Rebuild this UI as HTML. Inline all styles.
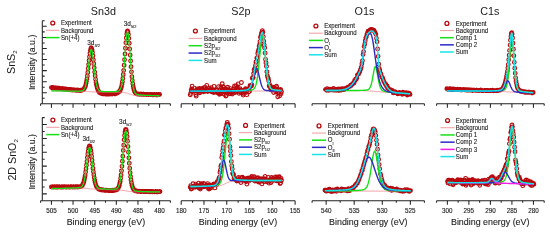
<!DOCTYPE html><html><head><meta charset="utf-8"><style>html,body{margin:0;padding:0;background:#fff;width:550px;height:232px;overflow:hidden}svg{display:block;will-change:transform}</style></head><body><svg width="550" height="232" viewBox="0 0 550 232" font-family='"Liberation Sans", sans-serif'>
<rect width="550" height="232" fill="#fff"/>
<text transform="translate(103.30 14.5) scale(1 0.94)" font-size="10.8" text-anchor="middle" fill="#1a1a1a">Sn3d</text>
<text transform="translate(240.90 14.5) scale(1 0.94)" font-size="10.8" text-anchor="middle" fill="#1a1a1a">S2p</text>
<text transform="translate(364.50 14.5) scale(1 0.94)" font-size="10.8" text-anchor="middle" fill="#1a1a1a">O1s</text>
<text transform="translate(489.80 14.5) scale(1 0.94)" font-size="10.8" text-anchor="middle" fill="#1a1a1a">C1s</text>
<text transform="translate(14.6 74.0) rotate(-90)" font-size="10.7" fill="#1a1a1a">SnS<tspan font-size="6.2" dy="2.8">2</tspan></text>
<text transform="translate(15.5 180.6) rotate(-90)" font-size="10.7" fill="#1a1a1a">2D SnO<tspan font-size="6.2" dy="2.6">2</tspan></text>
<text transform="translate(35.30 62.40) rotate(-90)" font-size="8.75" text-anchor="middle" fill="#1a1a1a" stroke="#1a1a1a" stroke-width="0.1">Intensity (a.u.)</text>
<text transform="translate(35.40 161.80) rotate(-90)" font-size="8.75" text-anchor="middle" fill="#1a1a1a" stroke="#1a1a1a" stroke-width="0.1">Intensity (a.u.)</text>
<path d="M40.60 103.80H170.40" stroke="#222" stroke-width="1.05" fill="none"/>
<path d="M40.60 103.80V105.80M51.42 103.80V107.80M62.23 103.80V105.80M73.05 103.80V107.80M83.87 103.80V105.80M94.68 103.80V107.80M105.50 103.80V105.80M116.32 103.80V107.80M127.13 103.80V105.80M137.95 103.80V107.80M148.77 103.80V105.80M159.58 103.80V107.80M170.40 103.80V105.80" stroke="#222" stroke-width="1.05" fill="none"/>
<path d="M181.20 103.80H295.10" stroke="#222" stroke-width="1.05" fill="none"/>
<path d="M181.20 103.80V107.80M192.59 103.80V105.80M203.98 103.80V107.80M215.37 103.80V105.80M226.76 103.80V107.80M238.15 103.80V105.80M249.54 103.80V107.80M260.93 103.80V105.80M272.32 103.80V107.80M283.71 103.80V105.80M295.10 103.80V107.80" stroke="#222" stroke-width="1.05" fill="none"/>
<path d="M312.10 103.80H424.40" stroke="#222" stroke-width="1.05" fill="none"/>
<path d="M312.10 103.80V105.80M326.14 103.80V107.80M340.18 103.80V105.80M354.21 103.80V107.80M368.25 103.80V105.80M382.29 103.80V107.80M396.32 103.80V105.80M410.36 103.80V107.80M424.40 103.80V105.80" stroke="#222" stroke-width="1.05" fill="none"/>
<path d="M436.60 103.80H544.20" stroke="#222" stroke-width="1.05" fill="none"/>
<path d="M436.60 103.80V105.80M447.36 103.80V107.80M458.12 103.80V105.80M468.88 103.80V107.80M479.64 103.80V105.80M490.40 103.80V107.80M501.16 103.80V105.80M511.92 103.80V107.80M522.68 103.80V105.80M533.44 103.80V107.80M544.20 103.80V105.80" stroke="#222" stroke-width="1.05" fill="none"/>
<path d="M42.30 20.80V103.80" stroke="#222" stroke-width="1.05" fill="none"/>
<path d="M42.30 98.27H44.70M42.30 92.73H46.80M42.30 87.20H44.70M42.30 81.67H46.80M42.30 76.13H44.70M42.30 70.60H46.80M42.30 65.07H44.70M42.30 59.53H46.80M42.30 54.00H44.70M42.30 48.47H46.80M42.30 42.93H44.70M42.30 37.40H46.80M42.30 31.87H44.70M42.30 26.33H46.80M42.30 20.80H44.70" stroke="#222" stroke-width="1.05" fill="none"/>
<path d="M40.60 200.80H170.40" stroke="#222" stroke-width="1.05" fill="none"/>
<text x="51.42" y="213.00" font-size="6.30" text-anchor="middle" fill="#1a1a1a" stroke="#1a1a1a" stroke-width="0.12">505</text>
<text x="73.05" y="213.00" font-size="6.30" text-anchor="middle" fill="#1a1a1a" stroke="#1a1a1a" stroke-width="0.12">500</text>
<text x="94.68" y="213.00" font-size="6.30" text-anchor="middle" fill="#1a1a1a" stroke="#1a1a1a" stroke-width="0.12">495</text>
<text x="116.32" y="213.00" font-size="6.30" text-anchor="middle" fill="#1a1a1a" stroke="#1a1a1a" stroke-width="0.12">490</text>
<text x="137.95" y="213.00" font-size="6.30" text-anchor="middle" fill="#1a1a1a" stroke="#1a1a1a" stroke-width="0.12">485</text>
<text x="159.58" y="213.00" font-size="6.30" text-anchor="middle" fill="#1a1a1a" stroke="#1a1a1a" stroke-width="0.12">480</text>
<path d="M40.60 200.80V202.80M51.42 200.80V204.80M62.23 200.80V202.80M73.05 200.80V204.80M83.87 200.80V202.80M94.68 200.80V204.80M105.50 200.80V202.80M116.32 200.80V204.80M127.13 200.80V202.80M137.95 200.80V204.80M148.77 200.80V202.80M159.58 200.80V204.80M170.40 200.80V202.80" stroke="#222" stroke-width="1.05" fill="none"/>
<path d="M181.20 200.80H295.10" stroke="#222" stroke-width="1.05" fill="none"/>
<text x="181.20" y="213.00" font-size="6.30" text-anchor="middle" fill="#1a1a1a" stroke="#1a1a1a" stroke-width="0.12">180</text>
<text x="203.98" y="213.00" font-size="6.30" text-anchor="middle" fill="#1a1a1a" stroke="#1a1a1a" stroke-width="0.12">175</text>
<text x="226.76" y="213.00" font-size="6.30" text-anchor="middle" fill="#1a1a1a" stroke="#1a1a1a" stroke-width="0.12">170</text>
<text x="249.54" y="213.00" font-size="6.30" text-anchor="middle" fill="#1a1a1a" stroke="#1a1a1a" stroke-width="0.12">165</text>
<text x="272.32" y="213.00" font-size="6.30" text-anchor="middle" fill="#1a1a1a" stroke="#1a1a1a" stroke-width="0.12">160</text>
<text x="295.10" y="213.00" font-size="6.30" text-anchor="middle" fill="#1a1a1a" stroke="#1a1a1a" stroke-width="0.12">155</text>
<path d="M181.20 200.80V204.80M192.59 200.80V202.80M203.98 200.80V204.80M215.37 200.80V202.80M226.76 200.80V204.80M238.15 200.80V202.80M249.54 200.80V204.80M260.93 200.80V202.80M272.32 200.80V204.80M283.71 200.80V202.80M295.10 200.80V204.80" stroke="#222" stroke-width="1.05" fill="none"/>
<path d="M312.10 200.80H424.40" stroke="#222" stroke-width="1.05" fill="none"/>
<text x="326.14" y="213.00" font-size="6.30" text-anchor="middle" fill="#1a1a1a" stroke="#1a1a1a" stroke-width="0.12">540</text>
<text x="354.21" y="213.00" font-size="6.30" text-anchor="middle" fill="#1a1a1a" stroke="#1a1a1a" stroke-width="0.12">535</text>
<text x="382.29" y="213.00" font-size="6.30" text-anchor="middle" fill="#1a1a1a" stroke="#1a1a1a" stroke-width="0.12">530</text>
<text x="410.36" y="213.00" font-size="6.30" text-anchor="middle" fill="#1a1a1a" stroke="#1a1a1a" stroke-width="0.12">525</text>
<path d="M312.10 200.80V202.80M326.14 200.80V204.80M340.18 200.80V202.80M354.21 200.80V204.80M368.25 200.80V202.80M382.29 200.80V204.80M396.32 200.80V202.80M410.36 200.80V204.80M424.40 200.80V202.80" stroke="#222" stroke-width="1.05" fill="none"/>
<path d="M436.60 200.80H544.20" stroke="#222" stroke-width="1.05" fill="none"/>
<text x="447.36" y="213.00" font-size="6.30" text-anchor="middle" fill="#1a1a1a" stroke="#1a1a1a" stroke-width="0.12">300</text>
<text x="468.88" y="213.00" font-size="6.30" text-anchor="middle" fill="#1a1a1a" stroke="#1a1a1a" stroke-width="0.12">295</text>
<text x="490.40" y="213.00" font-size="6.30" text-anchor="middle" fill="#1a1a1a" stroke="#1a1a1a" stroke-width="0.12">290</text>
<text x="511.92" y="213.00" font-size="6.30" text-anchor="middle" fill="#1a1a1a" stroke="#1a1a1a" stroke-width="0.12">285</text>
<text x="533.44" y="213.00" font-size="6.30" text-anchor="middle" fill="#1a1a1a" stroke="#1a1a1a" stroke-width="0.12">280</text>
<path d="M436.60 200.80V202.80M447.36 200.80V204.80M458.12 200.80V202.80M468.88 200.80V204.80M479.64 200.80V202.80M490.40 200.80V204.80M501.16 200.80V202.80M511.92 200.80V204.80M522.68 200.80V202.80M533.44 200.80V204.80M544.20 200.80V202.80" stroke="#222" stroke-width="1.05" fill="none"/>
<path d="M42.30 117.60V200.80" stroke="#222" stroke-width="1.05" fill="none"/>
<path d="M42.30 193.87H46.80M42.30 186.93H44.70M42.30 180.00H46.80M42.30 173.07H44.70M42.30 166.13H46.80M42.30 159.20H44.70M42.30 152.27H46.80M42.30 145.33H44.70M42.30 138.40H46.80M42.30 131.47H44.70M42.30 124.53H46.80M42.30 117.60H44.70" stroke="#222" stroke-width="1.05" fill="none"/>
<text x="105.90" y="225.20" font-size="8.90" text-anchor="middle" fill="#1a1a1a" stroke="#1a1a1a" stroke-width="0.1">Binding energy (eV)</text>
<text x="238.00" y="225.20" font-size="8.90" text-anchor="middle" fill="#1a1a1a" stroke="#1a1a1a" stroke-width="0.1">Binding energy (eV)</text>
<text x="368.30" y="225.20" font-size="8.90" text-anchor="middle" fill="#1a1a1a" stroke="#1a1a1a" stroke-width="0.1">Binding energy (eV)</text>
<text x="490.20" y="225.20" font-size="8.90" text-anchor="middle" fill="#1a1a1a" stroke="#1a1a1a" stroke-width="0.1">Binding energy (eV)</text>
<path d="M51.40 87.59m-1.80 0a1.80 1.80 0 1 0 3.60 0a1.80 1.80 0 1 0 -3.60 0M51.83 87.67m-1.80 0a1.80 1.80 0 1 0 3.60 0a1.80 1.80 0 1 0 -3.60 0M52.27 87.65m-1.80 0a1.80 1.80 0 1 0 3.60 0a1.80 1.80 0 1 0 -3.60 0M52.70 87.63m-1.80 0a1.80 1.80 0 1 0 3.60 0a1.80 1.80 0 1 0 -3.60 0M53.13 87.73m-1.80 0a1.80 1.80 0 1 0 3.60 0a1.80 1.80 0 1 0 -3.60 0M53.56 87.71m-1.80 0a1.80 1.80 0 1 0 3.60 0a1.80 1.80 0 1 0 -3.60 0M54.00 87.88m-1.80 0a1.80 1.80 0 1 0 3.60 0a1.80 1.80 0 1 0 -3.60 0M54.43 88.09m-1.80 0a1.80 1.80 0 1 0 3.60 0a1.80 1.80 0 1 0 -3.60 0M54.86 87.91m-1.80 0a1.80 1.80 0 1 0 3.60 0a1.80 1.80 0 1 0 -3.60 0M55.30 87.95m-1.80 0a1.80 1.80 0 1 0 3.60 0a1.80 1.80 0 1 0 -3.60 0M55.73 88.13m-1.80 0a1.80 1.80 0 1 0 3.60 0a1.80 1.80 0 1 0 -3.60 0M56.16 88.16m-1.80 0a1.80 1.80 0 1 0 3.60 0a1.80 1.80 0 1 0 -3.60 0M56.59 88.18m-1.80 0a1.80 1.80 0 1 0 3.60 0a1.80 1.80 0 1 0 -3.60 0M57.03 88.10m-1.80 0a1.80 1.80 0 1 0 3.60 0a1.80 1.80 0 1 0 -3.60 0M57.46 88.26m-1.80 0a1.80 1.80 0 1 0 3.60 0a1.80 1.80 0 1 0 -3.60 0M57.89 88.39m-1.80 0a1.80 1.80 0 1 0 3.60 0a1.80 1.80 0 1 0 -3.60 0M58.32 88.19m-1.80 0a1.80 1.80 0 1 0 3.60 0a1.80 1.80 0 1 0 -3.60 0M58.76 88.35m-1.80 0a1.80 1.80 0 1 0 3.60 0a1.80 1.80 0 1 0 -3.60 0M59.19 88.22m-1.80 0a1.80 1.80 0 1 0 3.60 0a1.80 1.80 0 1 0 -3.60 0M59.62 88.34m-1.80 0a1.80 1.80 0 1 0 3.60 0a1.80 1.80 0 1 0 -3.60 0M60.06 88.32m-1.80 0a1.80 1.80 0 1 0 3.60 0a1.80 1.80 0 1 0 -3.60 0M60.49 88.56m-1.80 0a1.80 1.80 0 1 0 3.60 0a1.80 1.80 0 1 0 -3.60 0M60.92 88.49m-1.80 0a1.80 1.80 0 1 0 3.60 0a1.80 1.80 0 1 0 -3.60 0M61.35 88.72m-1.80 0a1.80 1.80 0 1 0 3.60 0a1.80 1.80 0 1 0 -3.60 0M61.79 88.75m-1.80 0a1.80 1.80 0 1 0 3.60 0a1.80 1.80 0 1 0 -3.60 0M62.22 88.76m-1.80 0a1.80 1.80 0 1 0 3.60 0a1.80 1.80 0 1 0 -3.60 0M62.65 88.52m-1.80 0a1.80 1.80 0 1 0 3.60 0a1.80 1.80 0 1 0 -3.60 0M63.09 88.81m-1.80 0a1.80 1.80 0 1 0 3.60 0a1.80 1.80 0 1 0 -3.60 0M63.52 88.91m-1.80 0a1.80 1.80 0 1 0 3.60 0a1.80 1.80 0 1 0 -3.60 0M63.95 88.98m-1.80 0a1.80 1.80 0 1 0 3.60 0a1.80 1.80 0 1 0 -3.60 0M64.38 88.83m-1.80 0a1.80 1.80 0 1 0 3.60 0a1.80 1.80 0 1 0 -3.60 0M64.82 89.00m-1.80 0a1.80 1.80 0 1 0 3.60 0a1.80 1.80 0 1 0 -3.60 0M65.25 88.99m-1.80 0a1.80 1.80 0 1 0 3.60 0a1.80 1.80 0 1 0 -3.60 0M65.68 89.05m-1.80 0a1.80 1.80 0 1 0 3.60 0a1.80 1.80 0 1 0 -3.60 0M66.12 89.32m-1.80 0a1.80 1.80 0 1 0 3.60 0a1.80 1.80 0 1 0 -3.60 0M66.55 89.14m-1.80 0a1.80 1.80 0 1 0 3.60 0a1.80 1.80 0 1 0 -3.60 0M66.98 89.28m-1.80 0a1.80 1.80 0 1 0 3.60 0a1.80 1.80 0 1 0 -3.60 0M67.41 89.44m-1.80 0a1.80 1.80 0 1 0 3.60 0a1.80 1.80 0 1 0 -3.60 0M67.85 89.30m-1.80 0a1.80 1.80 0 1 0 3.60 0a1.80 1.80 0 1 0 -3.60 0M68.28 89.41m-1.80 0a1.80 1.80 0 1 0 3.60 0a1.80 1.80 0 1 0 -3.60 0M68.71 89.48m-1.80 0a1.80 1.80 0 1 0 3.60 0a1.80 1.80 0 1 0 -3.60 0M69.14 89.51m-1.80 0a1.80 1.80 0 1 0 3.60 0a1.80 1.80 0 1 0 -3.60 0M69.58 89.40m-1.80 0a1.80 1.80 0 1 0 3.60 0a1.80 1.80 0 1 0 -3.60 0M70.01 89.60m-1.80 0a1.80 1.80 0 1 0 3.60 0a1.80 1.80 0 1 0 -3.60 0M70.44 89.80m-1.80 0a1.80 1.80 0 1 0 3.60 0a1.80 1.80 0 1 0 -3.60 0M70.88 89.49m-1.80 0a1.80 1.80 0 1 0 3.60 0a1.80 1.80 0 1 0 -3.60 0M71.31 89.83m-1.80 0a1.80 1.80 0 1 0 3.60 0a1.80 1.80 0 1 0 -3.60 0M71.74 89.78m-1.80 0a1.80 1.80 0 1 0 3.60 0a1.80 1.80 0 1 0 -3.60 0M72.17 89.73m-1.80 0a1.80 1.80 0 1 0 3.60 0a1.80 1.80 0 1 0 -3.60 0M72.61 90.09m-1.80 0a1.80 1.80 0 1 0 3.60 0a1.80 1.80 0 1 0 -3.60 0M73.04 89.98m-1.80 0a1.80 1.80 0 1 0 3.60 0a1.80 1.80 0 1 0 -3.60 0M73.47 89.78m-1.80 0a1.80 1.80 0 1 0 3.60 0a1.80 1.80 0 1 0 -3.60 0M73.91 89.97m-1.80 0a1.80 1.80 0 1 0 3.60 0a1.80 1.80 0 1 0 -3.60 0M74.34 90.07m-1.80 0a1.80 1.80 0 1 0 3.60 0a1.80 1.80 0 1 0 -3.60 0M74.77 90.02m-1.80 0a1.80 1.80 0 1 0 3.60 0a1.80 1.80 0 1 0 -3.60 0M75.20 90.16m-1.80 0a1.80 1.80 0 1 0 3.60 0a1.80 1.80 0 1 0 -3.60 0M75.64 90.11m-1.80 0a1.80 1.80 0 1 0 3.60 0a1.80 1.80 0 1 0 -3.60 0M76.07 90.23m-1.80 0a1.80 1.80 0 1 0 3.60 0a1.80 1.80 0 1 0 -3.60 0M76.50 90.35m-1.80 0a1.80 1.80 0 1 0 3.60 0a1.80 1.80 0 1 0 -3.60 0M76.94 90.13m-1.80 0a1.80 1.80 0 1 0 3.60 0a1.80 1.80 0 1 0 -3.60 0M77.37 90.27m-1.80 0a1.80 1.80 0 1 0 3.60 0a1.80 1.80 0 1 0 -3.60 0M77.80 90.22m-1.80 0a1.80 1.80 0 1 0 3.60 0a1.80 1.80 0 1 0 -3.60 0M78.23 90.31m-1.80 0a1.80 1.80 0 1 0 3.60 0a1.80 1.80 0 1 0 -3.60 0M78.67 90.18m-1.80 0a1.80 1.80 0 1 0 3.60 0a1.80 1.80 0 1 0 -3.60 0M79.10 90.28m-1.80 0a1.80 1.80 0 1 0 3.60 0a1.80 1.80 0 1 0 -3.60 0M79.53 90.34m-1.80 0a1.80 1.80 0 1 0 3.60 0a1.80 1.80 0 1 0 -3.60 0M79.96 90.49m-1.80 0a1.80 1.80 0 1 0 3.60 0a1.80 1.80 0 1 0 -3.60 0M80.40 90.48m-1.80 0a1.80 1.80 0 1 0 3.60 0a1.80 1.80 0 1 0 -3.60 0M80.83 90.13m-1.80 0a1.80 1.80 0 1 0 3.60 0a1.80 1.80 0 1 0 -3.60 0M81.26 90.13m-1.80 0a1.80 1.80 0 1 0 3.60 0a1.80 1.80 0 1 0 -3.60 0M81.70 90.23m-1.80 0a1.80 1.80 0 1 0 3.60 0a1.80 1.80 0 1 0 -3.60 0M82.13 89.80m-1.80 0a1.80 1.80 0 1 0 3.60 0a1.80 1.80 0 1 0 -3.60 0M82.56 89.84m-1.80 0a1.80 1.80 0 1 0 3.60 0a1.80 1.80 0 1 0 -3.60 0M82.99 89.68m-1.80 0a1.80 1.80 0 1 0 3.60 0a1.80 1.80 0 1 0 -3.60 0M83.43 89.55m-1.80 0a1.80 1.80 0 1 0 3.60 0a1.80 1.80 0 1 0 -3.60 0M83.86 89.09m-1.80 0a1.80 1.80 0 1 0 3.60 0a1.80 1.80 0 1 0 -3.60 0M84.29 88.41m-1.80 0a1.80 1.80 0 1 0 3.60 0a1.80 1.80 0 1 0 -3.60 0M84.73 87.65m-1.80 0a1.80 1.80 0 1 0 3.60 0a1.80 1.80 0 1 0 -3.60 0M85.16 86.65m-1.80 0a1.80 1.80 0 1 0 3.60 0a1.80 1.80 0 1 0 -3.60 0M85.59 85.54m-1.80 0a1.80 1.80 0 1 0 3.60 0a1.80 1.80 0 1 0 -3.60 0M86.02 83.62m-1.80 0a1.80 1.80 0 1 0 3.60 0a1.80 1.80 0 1 0 -3.60 0M86.46 81.52m-1.80 0a1.80 1.80 0 1 0 3.60 0a1.80 1.80 0 1 0 -3.60 0M86.89 79.05m-1.80 0a1.80 1.80 0 1 0 3.60 0a1.80 1.80 0 1 0 -3.60 0M87.32 75.93m-1.80 0a1.80 1.80 0 1 0 3.60 0a1.80 1.80 0 1 0 -3.60 0M87.76 72.43m-1.80 0a1.80 1.80 0 1 0 3.60 0a1.80 1.80 0 1 0 -3.60 0M88.19 68.51m-1.80 0a1.80 1.80 0 1 0 3.60 0a1.80 1.80 0 1 0 -3.60 0M88.62 64.62m-1.80 0a1.80 1.80 0 1 0 3.60 0a1.80 1.80 0 1 0 -3.60 0M89.05 60.52m-1.80 0a1.80 1.80 0 1 0 3.60 0a1.80 1.80 0 1 0 -3.60 0M89.49 56.85m-1.80 0a1.80 1.80 0 1 0 3.60 0a1.80 1.80 0 1 0 -3.60 0M89.92 53.35m-1.80 0a1.80 1.80 0 1 0 3.60 0a1.80 1.80 0 1 0 -3.60 0M90.35 50.48m-1.80 0a1.80 1.80 0 1 0 3.60 0a1.80 1.80 0 1 0 -3.60 0M90.78 48.67m-1.80 0a1.80 1.80 0 1 0 3.60 0a1.80 1.80 0 1 0 -3.60 0M91.22 47.70m-1.80 0a1.80 1.80 0 1 0 3.60 0a1.80 1.80 0 1 0 -3.60 0M91.65 48.38m-1.80 0a1.80 1.80 0 1 0 3.60 0a1.80 1.80 0 1 0 -3.60 0M92.08 49.92m-1.80 0a1.80 1.80 0 1 0 3.60 0a1.80 1.80 0 1 0 -3.60 0M92.52 52.61m-1.80 0a1.80 1.80 0 1 0 3.60 0a1.80 1.80 0 1 0 -3.60 0M92.95 55.76m-1.80 0a1.80 1.80 0 1 0 3.60 0a1.80 1.80 0 1 0 -3.60 0M93.38 59.83m-1.80 0a1.80 1.80 0 1 0 3.60 0a1.80 1.80 0 1 0 -3.60 0M93.81 63.73m-1.80 0a1.80 1.80 0 1 0 3.60 0a1.80 1.80 0 1 0 -3.60 0M94.25 67.85m-1.80 0a1.80 1.80 0 1 0 3.60 0a1.80 1.80 0 1 0 -3.60 0M94.68 72.07m-1.80 0a1.80 1.80 0 1 0 3.60 0a1.80 1.80 0 1 0 -3.60 0M95.11 75.72m-1.80 0a1.80 1.80 0 1 0 3.60 0a1.80 1.80 0 1 0 -3.60 0M95.55 79.19m-1.80 0a1.80 1.80 0 1 0 3.60 0a1.80 1.80 0 1 0 -3.60 0M95.98 82.35m-1.80 0a1.80 1.80 0 1 0 3.60 0a1.80 1.80 0 1 0 -3.60 0M96.41 84.44m-1.80 0a1.80 1.80 0 1 0 3.60 0a1.80 1.80 0 1 0 -3.60 0M96.84 86.49m-1.80 0a1.80 1.80 0 1 0 3.60 0a1.80 1.80 0 1 0 -3.60 0M97.28 88.23m-1.80 0a1.80 1.80 0 1 0 3.60 0a1.80 1.80 0 1 0 -3.60 0M97.71 89.57m-1.80 0a1.80 1.80 0 1 0 3.60 0a1.80 1.80 0 1 0 -3.60 0M98.14 90.51m-1.80 0a1.80 1.80 0 1 0 3.60 0a1.80 1.80 0 1 0 -3.60 0M98.58 91.31m-1.80 0a1.80 1.80 0 1 0 3.60 0a1.80 1.80 0 1 0 -3.60 0M99.01 92.04m-1.80 0a1.80 1.80 0 1 0 3.60 0a1.80 1.80 0 1 0 -3.60 0M99.44 92.52m-1.80 0a1.80 1.80 0 1 0 3.60 0a1.80 1.80 0 1 0 -3.60 0M99.87 92.74m-1.80 0a1.80 1.80 0 1 0 3.60 0a1.80 1.80 0 1 0 -3.60 0M100.31 93.09m-1.80 0a1.80 1.80 0 1 0 3.60 0a1.80 1.80 0 1 0 -3.60 0M100.74 93.25m-1.80 0a1.80 1.80 0 1 0 3.60 0a1.80 1.80 0 1 0 -3.60 0M101.17 93.24m-1.80 0a1.80 1.80 0 1 0 3.60 0a1.80 1.80 0 1 0 -3.60 0M101.60 93.49m-1.80 0a1.80 1.80 0 1 0 3.60 0a1.80 1.80 0 1 0 -3.60 0M102.04 93.44m-1.80 0a1.80 1.80 0 1 0 3.60 0a1.80 1.80 0 1 0 -3.60 0M102.47 93.73m-1.80 0a1.80 1.80 0 1 0 3.60 0a1.80 1.80 0 1 0 -3.60 0M102.90 93.71m-1.80 0a1.80 1.80 0 1 0 3.60 0a1.80 1.80 0 1 0 -3.60 0M103.34 93.75m-1.80 0a1.80 1.80 0 1 0 3.60 0a1.80 1.80 0 1 0 -3.60 0M103.77 93.73m-1.80 0a1.80 1.80 0 1 0 3.60 0a1.80 1.80 0 1 0 -3.60 0M104.20 93.84m-1.80 0a1.80 1.80 0 1 0 3.60 0a1.80 1.80 0 1 0 -3.60 0M104.63 93.66m-1.80 0a1.80 1.80 0 1 0 3.60 0a1.80 1.80 0 1 0 -3.60 0M105.07 93.81m-1.80 0a1.80 1.80 0 1 0 3.60 0a1.80 1.80 0 1 0 -3.60 0M105.50 94.04m-1.80 0a1.80 1.80 0 1 0 3.60 0a1.80 1.80 0 1 0 -3.60 0M105.93 93.78m-1.80 0a1.80 1.80 0 1 0 3.60 0a1.80 1.80 0 1 0 -3.60 0M106.37 94.14m-1.80 0a1.80 1.80 0 1 0 3.60 0a1.80 1.80 0 1 0 -3.60 0M106.80 93.83m-1.80 0a1.80 1.80 0 1 0 3.60 0a1.80 1.80 0 1 0 -3.60 0M107.23 94.13m-1.80 0a1.80 1.80 0 1 0 3.60 0a1.80 1.80 0 1 0 -3.60 0M107.66 93.93m-1.80 0a1.80 1.80 0 1 0 3.60 0a1.80 1.80 0 1 0 -3.60 0M108.10 94.12m-1.80 0a1.80 1.80 0 1 0 3.60 0a1.80 1.80 0 1 0 -3.60 0M108.53 94.03m-1.80 0a1.80 1.80 0 1 0 3.60 0a1.80 1.80 0 1 0 -3.60 0M108.96 93.82m-1.80 0a1.80 1.80 0 1 0 3.60 0a1.80 1.80 0 1 0 -3.60 0M109.40 94.14m-1.80 0a1.80 1.80 0 1 0 3.60 0a1.80 1.80 0 1 0 -3.60 0M109.83 94.15m-1.80 0a1.80 1.80 0 1 0 3.60 0a1.80 1.80 0 1 0 -3.60 0M110.26 93.96m-1.80 0a1.80 1.80 0 1 0 3.60 0a1.80 1.80 0 1 0 -3.60 0M110.69 93.92m-1.80 0a1.80 1.80 0 1 0 3.60 0a1.80 1.80 0 1 0 -3.60 0M111.13 93.91m-1.80 0a1.80 1.80 0 1 0 3.60 0a1.80 1.80 0 1 0 -3.60 0M111.56 93.80m-1.80 0a1.80 1.80 0 1 0 3.60 0a1.80 1.80 0 1 0 -3.60 0M111.99 94.03m-1.80 0a1.80 1.80 0 1 0 3.60 0a1.80 1.80 0 1 0 -3.60 0M112.42 93.81m-1.80 0a1.80 1.80 0 1 0 3.60 0a1.80 1.80 0 1 0 -3.60 0M112.86 93.84m-1.80 0a1.80 1.80 0 1 0 3.60 0a1.80 1.80 0 1 0 -3.60 0M113.29 93.72m-1.80 0a1.80 1.80 0 1 0 3.60 0a1.80 1.80 0 1 0 -3.60 0M113.72 93.71m-1.80 0a1.80 1.80 0 1 0 3.60 0a1.80 1.80 0 1 0 -3.60 0M114.16 93.60m-1.80 0a1.80 1.80 0 1 0 3.60 0a1.80 1.80 0 1 0 -3.60 0M114.59 93.87m-1.80 0a1.80 1.80 0 1 0 3.60 0a1.80 1.80 0 1 0 -3.60 0M115.02 93.66m-1.80 0a1.80 1.80 0 1 0 3.60 0a1.80 1.80 0 1 0 -3.60 0M115.45 93.75m-1.80 0a1.80 1.80 0 1 0 3.60 0a1.80 1.80 0 1 0 -3.60 0M115.89 93.59m-1.80 0a1.80 1.80 0 1 0 3.60 0a1.80 1.80 0 1 0 -3.60 0M116.32 93.36m-1.80 0a1.80 1.80 0 1 0 3.60 0a1.80 1.80 0 1 0 -3.60 0M116.75 93.23m-1.80 0a1.80 1.80 0 1 0 3.60 0a1.80 1.80 0 1 0 -3.60 0M117.19 93.00m-1.80 0a1.80 1.80 0 1 0 3.60 0a1.80 1.80 0 1 0 -3.60 0M117.62 92.86m-1.80 0a1.80 1.80 0 1 0 3.60 0a1.80 1.80 0 1 0 -3.60 0M118.05 92.57m-1.80 0a1.80 1.80 0 1 0 3.60 0a1.80 1.80 0 1 0 -3.60 0M118.48 92.30m-1.80 0a1.80 1.80 0 1 0 3.60 0a1.80 1.80 0 1 0 -3.60 0M118.92 91.83m-1.80 0a1.80 1.80 0 1 0 3.60 0a1.80 1.80 0 1 0 -3.60 0M119.35 91.47m-1.80 0a1.80 1.80 0 1 0 3.60 0a1.80 1.80 0 1 0 -3.60 0M119.78 91.21m-1.80 0a1.80 1.80 0 1 0 3.60 0a1.80 1.80 0 1 0 -3.60 0M120.22 90.21m-1.80 0a1.80 1.80 0 1 0 3.60 0a1.80 1.80 0 1 0 -3.60 0M120.65 89.20m-1.80 0a1.80 1.80 0 1 0 3.60 0a1.80 1.80 0 1 0 -3.60 0M121.08 88.11m-1.80 0a1.80 1.80 0 1 0 3.60 0a1.80 1.80 0 1 0 -3.60 0M121.51 86.60m-1.80 0a1.80 1.80 0 1 0 3.60 0a1.80 1.80 0 1 0 -3.60 0M121.95 84.15m-1.80 0a1.80 1.80 0 1 0 3.60 0a1.80 1.80 0 1 0 -3.60 0M122.38 81.71m-1.80 0a1.80 1.80 0 1 0 3.60 0a1.80 1.80 0 1 0 -3.60 0M122.81 78.46m-1.80 0a1.80 1.80 0 1 0 3.60 0a1.80 1.80 0 1 0 -3.60 0M123.24 74.49m-1.80 0a1.80 1.80 0 1 0 3.60 0a1.80 1.80 0 1 0 -3.60 0M123.68 70.34m-1.80 0a1.80 1.80 0 1 0 3.60 0a1.80 1.80 0 1 0 -3.60 0M124.11 65.21m-1.80 0a1.80 1.80 0 1 0 3.60 0a1.80 1.80 0 1 0 -3.60 0M124.54 59.74m-1.80 0a1.80 1.80 0 1 0 3.60 0a1.80 1.80 0 1 0 -3.60 0M124.98 53.89m-1.80 0a1.80 1.80 0 1 0 3.60 0a1.80 1.80 0 1 0 -3.60 0M125.41 48.27m-1.80 0a1.80 1.80 0 1 0 3.60 0a1.80 1.80 0 1 0 -3.60 0M125.84 42.69m-1.80 0a1.80 1.80 0 1 0 3.60 0a1.80 1.80 0 1 0 -3.60 0M126.27 37.95m-1.80 0a1.80 1.80 0 1 0 3.60 0a1.80 1.80 0 1 0 -3.60 0M126.71 34.07m-1.80 0a1.80 1.80 0 1 0 3.60 0a1.80 1.80 0 1 0 -3.60 0M127.14 31.61m-1.80 0a1.80 1.80 0 1 0 3.60 0a1.80 1.80 0 1 0 -3.60 0M127.57 31.01m-1.80 0a1.80 1.80 0 1 0 3.60 0a1.80 1.80 0 1 0 -3.60 0M128.01 31.78m-1.80 0a1.80 1.80 0 1 0 3.60 0a1.80 1.80 0 1 0 -3.60 0M128.44 34.46m-1.80 0a1.80 1.80 0 1 0 3.60 0a1.80 1.80 0 1 0 -3.60 0M128.87 38.35m-1.80 0a1.80 1.80 0 1 0 3.60 0a1.80 1.80 0 1 0 -3.60 0M129.30 43.26m-1.80 0a1.80 1.80 0 1 0 3.60 0a1.80 1.80 0 1 0 -3.60 0M129.74 48.91m-1.80 0a1.80 1.80 0 1 0 3.60 0a1.80 1.80 0 1 0 -3.60 0M130.17 55.03m-1.80 0a1.80 1.80 0 1 0 3.60 0a1.80 1.80 0 1 0 -3.60 0M130.60 60.92m-1.80 0a1.80 1.80 0 1 0 3.60 0a1.80 1.80 0 1 0 -3.60 0M131.04 66.70m-1.80 0a1.80 1.80 0 1 0 3.60 0a1.80 1.80 0 1 0 -3.60 0M131.47 71.87m-1.80 0a1.80 1.80 0 1 0 3.60 0a1.80 1.80 0 1 0 -3.60 0M131.90 76.59m-1.80 0a1.80 1.80 0 1 0 3.60 0a1.80 1.80 0 1 0 -3.60 0M132.33 80.49m-1.80 0a1.80 1.80 0 1 0 3.60 0a1.80 1.80 0 1 0 -3.60 0M132.77 83.76m-1.80 0a1.80 1.80 0 1 0 3.60 0a1.80 1.80 0 1 0 -3.60 0M133.20 86.35m-1.80 0a1.80 1.80 0 1 0 3.60 0a1.80 1.80 0 1 0 -3.60 0M133.63 88.39m-1.80 0a1.80 1.80 0 1 0 3.60 0a1.80 1.80 0 1 0 -3.60 0M134.06 90.32m-1.80 0a1.80 1.80 0 1 0 3.60 0a1.80 1.80 0 1 0 -3.60 0M134.50 91.47m-1.80 0a1.80 1.80 0 1 0 3.60 0a1.80 1.80 0 1 0 -3.60 0M134.93 92.17m-1.80 0a1.80 1.80 0 1 0 3.60 0a1.80 1.80 0 1 0 -3.60 0M135.36 92.85m-1.80 0a1.80 1.80 0 1 0 3.60 0a1.80 1.80 0 1 0 -3.60 0M135.80 93.30m-1.80 0a1.80 1.80 0 1 0 3.60 0a1.80 1.80 0 1 0 -3.60 0M136.23 93.60m-1.80 0a1.80 1.80 0 1 0 3.60 0a1.80 1.80 0 1 0 -3.60 0M136.66 93.81m-1.80 0a1.80 1.80 0 1 0 3.60 0a1.80 1.80 0 1 0 -3.60 0M137.09 93.78m-1.80 0a1.80 1.80 0 1 0 3.60 0a1.80 1.80 0 1 0 -3.60 0M137.53 94.11m-1.80 0a1.80 1.80 0 1 0 3.60 0a1.80 1.80 0 1 0 -3.60 0M137.96 93.84m-1.80 0a1.80 1.80 0 1 0 3.60 0a1.80 1.80 0 1 0 -3.60 0M138.39 94.14m-1.80 0a1.80 1.80 0 1 0 3.60 0a1.80 1.80 0 1 0 -3.60 0M138.83 94.13m-1.80 0a1.80 1.80 0 1 0 3.60 0a1.80 1.80 0 1 0 -3.60 0M139.26 94.19m-1.80 0a1.80 1.80 0 1 0 3.60 0a1.80 1.80 0 1 0 -3.60 0M139.69 94.33m-1.80 0a1.80 1.80 0 1 0 3.60 0a1.80 1.80 0 1 0 -3.60 0M140.12 94.30m-1.80 0a1.80 1.80 0 1 0 3.60 0a1.80 1.80 0 1 0 -3.60 0M140.56 94.03m-1.80 0a1.80 1.80 0 1 0 3.60 0a1.80 1.80 0 1 0 -3.60 0M140.99 94.00m-1.80 0a1.80 1.80 0 1 0 3.60 0a1.80 1.80 0 1 0 -3.60 0M141.42 94.33m-1.80 0a1.80 1.80 0 1 0 3.60 0a1.80 1.80 0 1 0 -3.60 0M141.86 94.14m-1.80 0a1.80 1.80 0 1 0 3.60 0a1.80 1.80 0 1 0 -3.60 0M142.29 94.29m-1.80 0a1.80 1.80 0 1 0 3.60 0a1.80 1.80 0 1 0 -3.60 0M142.72 94.42m-1.80 0a1.80 1.80 0 1 0 3.60 0a1.80 1.80 0 1 0 -3.60 0M143.15 94.15m-1.80 0a1.80 1.80 0 1 0 3.60 0a1.80 1.80 0 1 0 -3.60 0M143.59 94.12m-1.80 0a1.80 1.80 0 1 0 3.60 0a1.80 1.80 0 1 0 -3.60 0M144.02 94.42m-1.80 0a1.80 1.80 0 1 0 3.60 0a1.80 1.80 0 1 0 -3.60 0M144.45 94.42m-1.80 0a1.80 1.80 0 1 0 3.60 0a1.80 1.80 0 1 0 -3.60 0M144.88 94.40m-1.80 0a1.80 1.80 0 1 0 3.60 0a1.80 1.80 0 1 0 -3.60 0M145.32 94.46m-1.80 0a1.80 1.80 0 1 0 3.60 0a1.80 1.80 0 1 0 -3.60 0M145.75 94.37m-1.80 0a1.80 1.80 0 1 0 3.60 0a1.80 1.80 0 1 0 -3.60 0M146.18 94.30m-1.80 0a1.80 1.80 0 1 0 3.60 0a1.80 1.80 0 1 0 -3.60 0M146.62 94.48m-1.80 0a1.80 1.80 0 1 0 3.60 0a1.80 1.80 0 1 0 -3.60 0M147.05 94.40m-1.80 0a1.80 1.80 0 1 0 3.60 0a1.80 1.80 0 1 0 -3.60 0M147.48 94.33m-1.80 0a1.80 1.80 0 1 0 3.60 0a1.80 1.80 0 1 0 -3.60 0M147.91 94.61m-1.80 0a1.80 1.80 0 1 0 3.60 0a1.80 1.80 0 1 0 -3.60 0M148.35 94.55m-1.80 0a1.80 1.80 0 1 0 3.60 0a1.80 1.80 0 1 0 -3.60 0M148.78 94.62m-1.80 0a1.80 1.80 0 1 0 3.60 0a1.80 1.80 0 1 0 -3.60 0M149.21 94.47m-1.80 0a1.80 1.80 0 1 0 3.60 0a1.80 1.80 0 1 0 -3.60 0M149.65 94.52m-1.80 0a1.80 1.80 0 1 0 3.60 0a1.80 1.80 0 1 0 -3.60 0M150.08 94.49m-1.80 0a1.80 1.80 0 1 0 3.60 0a1.80 1.80 0 1 0 -3.60 0M150.51 94.51m-1.80 0a1.80 1.80 0 1 0 3.60 0a1.80 1.80 0 1 0 -3.60 0M150.94 94.65m-1.80 0a1.80 1.80 0 1 0 3.60 0a1.80 1.80 0 1 0 -3.60 0M151.38 94.54m-1.80 0a1.80 1.80 0 1 0 3.60 0a1.80 1.80 0 1 0 -3.60 0M151.81 94.69m-1.80 0a1.80 1.80 0 1 0 3.60 0a1.80 1.80 0 1 0 -3.60 0M152.24 94.70m-1.80 0a1.80 1.80 0 1 0 3.60 0a1.80 1.80 0 1 0 -3.60 0M152.68 94.91m-1.80 0a1.80 1.80 0 1 0 3.60 0a1.80 1.80 0 1 0 -3.60 0M153.11 94.51m-1.80 0a1.80 1.80 0 1 0 3.60 0a1.80 1.80 0 1 0 -3.60 0M153.54 94.79m-1.80 0a1.80 1.80 0 1 0 3.60 0a1.80 1.80 0 1 0 -3.60 0M153.97 94.68m-1.80 0a1.80 1.80 0 1 0 3.60 0a1.80 1.80 0 1 0 -3.60 0M154.41 94.70m-1.80 0a1.80 1.80 0 1 0 3.60 0a1.80 1.80 0 1 0 -3.60 0M154.84 94.54m-1.80 0a1.80 1.80 0 1 0 3.60 0a1.80 1.80 0 1 0 -3.60 0M155.27 94.66m-1.80 0a1.80 1.80 0 1 0 3.60 0a1.80 1.80 0 1 0 -3.60 0M155.70 94.82m-1.80 0a1.80 1.80 0 1 0 3.60 0a1.80 1.80 0 1 0 -3.60 0M156.14 94.72m-1.80 0a1.80 1.80 0 1 0 3.60 0a1.80 1.80 0 1 0 -3.60 0M156.57 94.75m-1.80 0a1.80 1.80 0 1 0 3.60 0a1.80 1.80 0 1 0 -3.60 0M157.00 94.71m-1.80 0a1.80 1.80 0 1 0 3.60 0a1.80 1.80 0 1 0 -3.60 0M157.44 94.90m-1.80 0a1.80 1.80 0 1 0 3.60 0a1.80 1.80 0 1 0 -3.60 0M157.87 94.76m-1.80 0a1.80 1.80 0 1 0 3.60 0a1.80 1.80 0 1 0 -3.60 0M158.30 94.51m-1.80 0a1.80 1.80 0 1 0 3.60 0a1.80 1.80 0 1 0 -3.60 0M158.73 94.69m-1.80 0a1.80 1.80 0 1 0 3.60 0a1.80 1.80 0 1 0 -3.60 0M159.17 94.55m-1.80 0a1.80 1.80 0 1 0 3.60 0a1.80 1.80 0 1 0 -3.60 0M159.60 94.40m-1.80 0a1.80 1.80 0 1 0 3.60 0a1.80 1.80 0 1 0 -3.60 0" fill="none" stroke="#b8090e" stroke-width="1.20"/>
<path d="M51.40 90.81L51.83 90.82L52.27 90.83L52.70 90.84L53.13 90.85L53.56 90.86L54.00 90.87L54.43 90.88L54.86 90.89L55.30 90.90L55.73 90.91L56.16 90.92L56.59 90.94L57.03 90.95L57.46 90.96L57.89 90.97L58.32 90.98L58.76 90.99L59.19 91.00L59.62 91.01L60.06 91.02L60.49 91.03L60.92 91.04L61.35 91.05L61.79 91.06L62.22 91.07L62.65 91.08L63.09 91.09L63.52 91.10L63.95 91.11L64.38 91.12L64.82 91.13L65.25 91.14L65.68 91.15L66.12 91.16L66.55 91.18L66.98 91.19L67.41 91.20L67.85 91.21L68.28 91.22L68.71 91.23L69.14 91.24L69.58 91.25L70.01 91.26L70.44 91.27L70.88 91.28L71.31 91.29L71.74 91.30L72.17 91.31L72.61 91.32L73.04 91.33L73.47 91.34L73.91 91.35L74.34 91.36L74.77 91.37L75.20 91.38L75.64 91.39L76.07 91.41L76.50 91.42L76.94 91.43L77.37 91.44L77.80 91.45L78.23 91.46L78.67 91.47L79.10 91.48L79.53 91.49L79.96 91.50L80.40 91.50L80.83 91.50L81.26 91.50L81.70 91.50L82.13 91.50L82.56 91.50L82.99 91.50L83.43 91.50L83.86 91.50L84.29 91.50L84.73 91.50L85.16 91.50L85.59 91.51L86.02 91.53L86.46 91.54L86.89 91.55L87.32 91.56L87.76 91.57L88.19 91.58L88.62 91.59L89.05 91.60L89.49 91.64L89.92 91.67L90.35 91.71L90.78 91.74L91.22 91.78L91.65 91.81L92.08 91.85L92.52 91.88L92.95 91.92L93.38 91.95L93.81 91.99L94.25 92.00L94.68 92.01L95.11 92.01L95.55 92.02L95.98 92.02L96.41 92.03L96.84 92.03L97.28 92.04L97.71 92.04L98.14 92.04L98.58 92.05L99.01 92.05L99.44 92.06L99.87 92.06L100.31 92.07L100.74 92.07L101.17 92.08L101.60 92.08L102.04 92.09L102.47 92.09L102.90 92.10L103.34 92.10L103.77 92.10L104.20 92.11L104.63 92.11L105.07 92.12L105.50 92.12L105.93 92.13L106.37 92.13L106.80 92.14L107.23 92.14L107.66 92.15L108.10 92.15L108.53 92.16L108.96 92.16L109.40 92.16L109.83 92.17L110.26 92.17L110.69 92.18L111.13 92.18L111.56 92.19L111.99 92.19L112.42 92.20L112.86 92.20L113.29 92.21L113.72 92.21L114.16 92.22L114.59 92.22L115.02 92.23L115.45 92.23L115.89 92.23L116.32 92.24L116.75 92.24L117.19 92.25L117.62 92.25L118.05 92.26L118.48 92.26L118.92 92.27L119.35 92.27L119.78 92.28L120.22 92.28L120.65 92.29L121.08 92.29L121.51 92.29L121.95 92.30L122.38 92.36L122.81 92.42L123.24 92.49L123.68 92.55L124.11 92.62L124.54 92.68L124.98 92.75L125.41 92.81L125.84 92.88L126.27 92.99L126.71 93.12L127.14 93.26L127.57 93.39L128.01 93.53L128.44 93.66L128.87 93.80L129.30 93.93L129.74 94.07L130.17 94.20L130.60 94.34L131.04 94.47L131.47 94.61L131.90 94.74L132.33 94.88L132.77 95.01L133.20 95.15L133.63 95.29L134.06 95.40L134.50 95.41L134.93 95.42L135.36 95.43L135.80 95.43L136.23 95.44L136.66 95.45L137.09 95.46L137.53 95.47L137.96 95.48L138.39 95.48L138.83 95.49L139.26 95.50L139.69 95.51L140.12 95.52L140.56 95.53L140.99 95.53L141.42 95.54L141.86 95.55L142.29 95.56L142.72 95.57L143.15 95.58L143.59 95.58L144.02 95.59L144.45 95.60L144.88 95.61L145.32 95.62L145.75 95.63L146.18 95.63L146.62 95.64L147.05 95.65L147.48 95.66L147.91 95.67L148.35 95.68L148.78 95.68L149.21 95.69L149.65 95.70L150.08 95.71L150.51 95.72L150.94 95.73L151.38 95.73L151.81 95.74L152.24 95.75L152.68 95.76L153.11 95.77L153.54 95.78L153.97 95.78L154.41 95.79L154.84 95.80L155.27 95.81L155.70 95.82L156.14 95.83L156.57 95.83L157.00 95.84L157.44 95.85L157.87 95.86L158.30 95.87L158.73 95.88L159.17 95.88L159.60 95.89" fill="none" stroke="#ec8088" stroke-width="0.80" stroke-linejoin="round"/>
<path d="M51.40 90.75L51.83 90.76L52.27 90.77L52.70 90.78L53.13 90.79L53.56 90.80L54.00 90.81L54.43 90.82L54.86 90.83L55.30 90.84L55.73 90.84L56.16 90.85L56.59 90.86L57.03 90.87L57.46 90.88L57.89 90.89L58.32 90.90L58.76 90.91L59.19 90.91L59.62 90.92L60.06 90.93L60.49 90.94L60.92 90.95L61.35 90.96L61.79 90.96L62.22 90.97L62.65 90.98L63.09 90.99L63.52 91.00L63.95 91.00L64.38 91.01L64.82 91.02L65.25 91.03L65.68 91.03L66.12 91.04L66.55 91.05L66.98 91.05L67.41 91.06L67.85 91.06L68.28 91.07L68.71 91.08L69.14 91.08L69.58 91.09L70.01 91.09L70.44 91.09L70.88 91.10L71.31 91.10L71.74 91.10L72.17 91.11L72.61 91.11L73.04 91.11L73.47 91.11L73.91 91.11L74.34 91.11L74.77 91.11L75.20 91.11L75.64 91.10L76.07 91.10L76.50 91.09L76.94 91.09L77.37 91.08L77.80 91.07L78.23 91.06L78.67 91.04L79.10 91.03L79.53 91.01L79.96 90.98L80.40 90.94L80.83 90.89L81.26 90.83L81.70 90.75L82.13 90.64L82.56 90.49L82.99 90.29L83.43 90.00L83.86 89.60L84.29 89.05L84.73 88.29L85.16 87.28L85.59 85.96L86.02 84.27L86.46 82.16L86.89 79.61L87.32 76.62L87.76 73.22L88.19 69.49L88.62 65.56L89.05 61.60L89.49 57.83L89.92 54.48L90.35 51.79L90.78 49.98L91.22 49.23L91.65 49.61L92.08 51.10L92.52 53.55L92.95 56.75L93.38 60.45L93.81 64.41L94.25 68.40L94.68 72.24L95.11 75.79L95.55 78.95L95.98 81.69L96.41 83.97L96.84 85.83L97.28 87.29L97.71 88.42L98.14 89.27L98.58 89.90L99.01 90.36L99.44 90.68L99.87 90.91L100.31 91.08L100.74 91.20L101.17 91.29L101.60 91.36L102.04 91.41L102.47 91.45L102.90 91.49L103.34 91.52L103.77 91.55L104.20 91.57L104.63 91.59L105.07 91.61L105.50 91.63L105.93 91.64L106.37 91.65L106.80 91.66L107.23 91.67L107.66 91.68L108.10 91.69L108.53 91.69L108.96 91.69L109.40 91.70L109.83 91.70L110.26 91.69L110.69 91.69L111.13 91.69L111.56 91.68L111.99 91.67L112.42 91.66L112.86 91.65L113.29 91.64L113.72 91.62L114.16 91.60L114.59 91.58L115.02 91.55L115.45 91.52L115.89 91.48L116.32 91.44L116.75 91.39L117.19 91.33L117.62 91.24L118.05 91.13L118.48 90.98L118.92 90.77L119.35 90.47L119.78 90.04L120.22 89.45L120.65 88.63L121.08 87.50L121.51 85.99L121.95 84.01L122.38 81.55L122.81 78.48L123.24 74.77L123.68 70.43L124.11 65.51L124.54 60.13L124.98 54.50L125.41 48.85L125.84 43.49L126.27 38.82L126.71 35.17L127.14 32.83L127.57 32.05L128.01 32.90L128.44 35.33L128.87 39.10L129.30 43.92L129.74 49.41L130.17 55.24L130.60 61.10L131.04 66.72L131.47 71.91L131.90 76.53L132.33 80.52L132.77 83.87L133.20 86.61L133.63 88.79L134.06 90.48L134.50 91.67L134.93 92.54L135.36 93.18L135.80 93.63L136.23 93.96L136.66 94.20L137.09 94.37L137.53 94.51L137.96 94.61L138.39 94.69L138.83 94.76L139.26 94.82L139.69 94.88L140.12 94.93L140.56 94.97L140.99 95.01L141.42 95.05L141.86 95.08L142.29 95.12L142.72 95.15L143.15 95.18L143.59 95.21L144.02 95.23L144.45 95.26L144.88 95.28L145.32 95.30L145.75 95.33L146.18 95.35L146.62 95.37L147.05 95.39L147.48 95.41L147.91 95.42L148.35 95.44L148.78 95.46L149.21 95.48L149.65 95.49L150.08 95.51L150.51 95.52L150.94 95.54L151.38 95.55L151.81 95.57L152.24 95.58L152.68 95.59L153.11 95.61L153.54 95.62L153.97 95.63L154.41 95.65L154.84 95.66L155.27 95.67L155.70 95.68L156.14 95.70L156.57 95.71L157.00 95.72L157.44 95.73L157.87 95.74L158.30 95.75L158.73 95.77L159.17 95.78L159.60 95.79" fill="none" stroke="#16e016" stroke-width="1.30" stroke-linejoin="round"/>
<text x="87.30" y="45.00" font-size="6.40" text-anchor="start" fill="#1a1a1a" stroke="#1a1a1a" stroke-width="0.12">3d<tspan font-size="3.9" dy="2.0">3/2</tspan></text>
<text x="123.80" y="25.70" font-size="6.40" text-anchor="start" fill="#1a1a1a" stroke="#1a1a1a" stroke-width="0.12">3d<tspan font-size="3.9" dy="2.0">5/2</tspan></text>
<circle cx="52.75" cy="23.00" r="1.95" fill="none" stroke="#b8090e" stroke-width="1.3"/>
<text transform="translate(61.00 25.20) scale(1 1.06)" font-size="6.1" fill="#1a1a1a" stroke="#1a1a1a" stroke-width="0.1">Experiment</text>
<path d="M46.00 30.30H59.50" stroke="#ec8088" stroke-width="0.80"/>
<text transform="translate(61.00 32.50) scale(1 1.06)" font-size="6.1" fill="#1a1a1a" stroke="#1a1a1a" stroke-width="0.1">Background</text>
<path d="M46.00 37.60H59.50" stroke="#16e016" stroke-width="1.50"/>
<text transform="translate(61.00 39.80) scale(1 1.06)" font-size="6.1" fill="#1a1a1a" stroke="#1a1a1a" stroke-width="0.1">Sn(+4)</text>
<path d="M51.40 186.88m-1.80 0a1.80 1.80 0 1 0 3.60 0a1.80 1.80 0 1 0 -3.60 0M51.83 187.10m-1.80 0a1.80 1.80 0 1 0 3.60 0a1.80 1.80 0 1 0 -3.60 0M52.27 186.95m-1.80 0a1.80 1.80 0 1 0 3.60 0a1.80 1.80 0 1 0 -3.60 0M52.70 186.80m-1.80 0a1.80 1.80 0 1 0 3.60 0a1.80 1.80 0 1 0 -3.60 0M53.13 186.83m-1.80 0a1.80 1.80 0 1 0 3.60 0a1.80 1.80 0 1 0 -3.60 0M53.56 187.08m-1.80 0a1.80 1.80 0 1 0 3.60 0a1.80 1.80 0 1 0 -3.60 0M54.00 186.97m-1.80 0a1.80 1.80 0 1 0 3.60 0a1.80 1.80 0 1 0 -3.60 0M54.43 186.95m-1.80 0a1.80 1.80 0 1 0 3.60 0a1.80 1.80 0 1 0 -3.60 0M54.86 186.94m-1.80 0a1.80 1.80 0 1 0 3.60 0a1.80 1.80 0 1 0 -3.60 0M55.30 186.96m-1.80 0a1.80 1.80 0 1 0 3.60 0a1.80 1.80 0 1 0 -3.60 0M55.73 187.05m-1.80 0a1.80 1.80 0 1 0 3.60 0a1.80 1.80 0 1 0 -3.60 0M56.16 187.02m-1.80 0a1.80 1.80 0 1 0 3.60 0a1.80 1.80 0 1 0 -3.60 0M56.59 186.98m-1.80 0a1.80 1.80 0 1 0 3.60 0a1.80 1.80 0 1 0 -3.60 0M57.03 186.83m-1.80 0a1.80 1.80 0 1 0 3.60 0a1.80 1.80 0 1 0 -3.60 0M57.46 187.02m-1.80 0a1.80 1.80 0 1 0 3.60 0a1.80 1.80 0 1 0 -3.60 0M57.89 186.87m-1.80 0a1.80 1.80 0 1 0 3.60 0a1.80 1.80 0 1 0 -3.60 0M58.32 187.09m-1.80 0a1.80 1.80 0 1 0 3.60 0a1.80 1.80 0 1 0 -3.60 0M58.76 186.80m-1.80 0a1.80 1.80 0 1 0 3.60 0a1.80 1.80 0 1 0 -3.60 0M59.19 186.94m-1.80 0a1.80 1.80 0 1 0 3.60 0a1.80 1.80 0 1 0 -3.60 0M59.62 186.96m-1.80 0a1.80 1.80 0 1 0 3.60 0a1.80 1.80 0 1 0 -3.60 0M60.06 186.80m-1.80 0a1.80 1.80 0 1 0 3.60 0a1.80 1.80 0 1 0 -3.60 0M60.49 187.16m-1.80 0a1.80 1.80 0 1 0 3.60 0a1.80 1.80 0 1 0 -3.60 0M60.92 187.13m-1.80 0a1.80 1.80 0 1 0 3.60 0a1.80 1.80 0 1 0 -3.60 0M61.35 186.90m-1.80 0a1.80 1.80 0 1 0 3.60 0a1.80 1.80 0 1 0 -3.60 0M61.79 187.05m-1.80 0a1.80 1.80 0 1 0 3.60 0a1.80 1.80 0 1 0 -3.60 0M62.22 187.00m-1.80 0a1.80 1.80 0 1 0 3.60 0a1.80 1.80 0 1 0 -3.60 0M62.65 186.64m-1.80 0a1.80 1.80 0 1 0 3.60 0a1.80 1.80 0 1 0 -3.60 0M63.09 186.99m-1.80 0a1.80 1.80 0 1 0 3.60 0a1.80 1.80 0 1 0 -3.60 0M63.52 186.95m-1.80 0a1.80 1.80 0 1 0 3.60 0a1.80 1.80 0 1 0 -3.60 0M63.95 186.97m-1.80 0a1.80 1.80 0 1 0 3.60 0a1.80 1.80 0 1 0 -3.60 0M64.38 186.82m-1.80 0a1.80 1.80 0 1 0 3.60 0a1.80 1.80 0 1 0 -3.60 0M64.82 186.92m-1.80 0a1.80 1.80 0 1 0 3.60 0a1.80 1.80 0 1 0 -3.60 0M65.25 186.93m-1.80 0a1.80 1.80 0 1 0 3.60 0a1.80 1.80 0 1 0 -3.60 0M65.68 187.09m-1.80 0a1.80 1.80 0 1 0 3.60 0a1.80 1.80 0 1 0 -3.60 0M66.12 186.99m-1.80 0a1.80 1.80 0 1 0 3.60 0a1.80 1.80 0 1 0 -3.60 0M66.55 186.95m-1.80 0a1.80 1.80 0 1 0 3.60 0a1.80 1.80 0 1 0 -3.60 0M66.98 187.13m-1.80 0a1.80 1.80 0 1 0 3.60 0a1.80 1.80 0 1 0 -3.60 0M67.41 186.87m-1.80 0a1.80 1.80 0 1 0 3.60 0a1.80 1.80 0 1 0 -3.60 0M67.85 186.89m-1.80 0a1.80 1.80 0 1 0 3.60 0a1.80 1.80 0 1 0 -3.60 0M68.28 186.72m-1.80 0a1.80 1.80 0 1 0 3.60 0a1.80 1.80 0 1 0 -3.60 0M68.71 187.12m-1.80 0a1.80 1.80 0 1 0 3.60 0a1.80 1.80 0 1 0 -3.60 0M69.14 187.04m-1.80 0a1.80 1.80 0 1 0 3.60 0a1.80 1.80 0 1 0 -3.60 0M69.58 187.03m-1.80 0a1.80 1.80 0 1 0 3.60 0a1.80 1.80 0 1 0 -3.60 0M70.01 187.00m-1.80 0a1.80 1.80 0 1 0 3.60 0a1.80 1.80 0 1 0 -3.60 0M70.44 186.94m-1.80 0a1.80 1.80 0 1 0 3.60 0a1.80 1.80 0 1 0 -3.60 0M70.88 186.96m-1.80 0a1.80 1.80 0 1 0 3.60 0a1.80 1.80 0 1 0 -3.60 0M71.31 186.91m-1.80 0a1.80 1.80 0 1 0 3.60 0a1.80 1.80 0 1 0 -3.60 0M71.74 186.92m-1.80 0a1.80 1.80 0 1 0 3.60 0a1.80 1.80 0 1 0 -3.60 0M72.17 186.95m-1.80 0a1.80 1.80 0 1 0 3.60 0a1.80 1.80 0 1 0 -3.60 0M72.61 187.13m-1.80 0a1.80 1.80 0 1 0 3.60 0a1.80 1.80 0 1 0 -3.60 0M73.04 187.02m-1.80 0a1.80 1.80 0 1 0 3.60 0a1.80 1.80 0 1 0 -3.60 0M73.47 186.95m-1.80 0a1.80 1.80 0 1 0 3.60 0a1.80 1.80 0 1 0 -3.60 0M73.91 186.89m-1.80 0a1.80 1.80 0 1 0 3.60 0a1.80 1.80 0 1 0 -3.60 0M74.34 186.88m-1.80 0a1.80 1.80 0 1 0 3.60 0a1.80 1.80 0 1 0 -3.60 0M74.77 187.15m-1.80 0a1.80 1.80 0 1 0 3.60 0a1.80 1.80 0 1 0 -3.60 0M75.20 187.02m-1.80 0a1.80 1.80 0 1 0 3.60 0a1.80 1.80 0 1 0 -3.60 0M75.64 186.96m-1.80 0a1.80 1.80 0 1 0 3.60 0a1.80 1.80 0 1 0 -3.60 0M76.07 186.90m-1.80 0a1.80 1.80 0 1 0 3.60 0a1.80 1.80 0 1 0 -3.60 0M76.50 186.80m-1.80 0a1.80 1.80 0 1 0 3.60 0a1.80 1.80 0 1 0 -3.60 0M76.94 186.92m-1.80 0a1.80 1.80 0 1 0 3.60 0a1.80 1.80 0 1 0 -3.60 0M77.37 187.02m-1.80 0a1.80 1.80 0 1 0 3.60 0a1.80 1.80 0 1 0 -3.60 0M77.80 186.85m-1.80 0a1.80 1.80 0 1 0 3.60 0a1.80 1.80 0 1 0 -3.60 0M78.23 186.85m-1.80 0a1.80 1.80 0 1 0 3.60 0a1.80 1.80 0 1 0 -3.60 0M78.67 186.82m-1.80 0a1.80 1.80 0 1 0 3.60 0a1.80 1.80 0 1 0 -3.60 0M79.10 186.82m-1.80 0a1.80 1.80 0 1 0 3.60 0a1.80 1.80 0 1 0 -3.60 0M79.53 186.56m-1.80 0a1.80 1.80 0 1 0 3.60 0a1.80 1.80 0 1 0 -3.60 0M79.96 186.65m-1.80 0a1.80 1.80 0 1 0 3.60 0a1.80 1.80 0 1 0 -3.60 0M80.40 186.47m-1.80 0a1.80 1.80 0 1 0 3.60 0a1.80 1.80 0 1 0 -3.60 0M80.83 186.52m-1.80 0a1.80 1.80 0 1 0 3.60 0a1.80 1.80 0 1 0 -3.60 0M81.26 186.11m-1.80 0a1.80 1.80 0 1 0 3.60 0a1.80 1.80 0 1 0 -3.60 0M81.70 185.97m-1.80 0a1.80 1.80 0 1 0 3.60 0a1.80 1.80 0 1 0 -3.60 0M82.13 185.65m-1.80 0a1.80 1.80 0 1 0 3.60 0a1.80 1.80 0 1 0 -3.60 0M82.56 184.85m-1.80 0a1.80 1.80 0 1 0 3.60 0a1.80 1.80 0 1 0 -3.60 0M82.99 184.02m-1.80 0a1.80 1.80 0 1 0 3.60 0a1.80 1.80 0 1 0 -3.60 0M83.43 183.06m-1.80 0a1.80 1.80 0 1 0 3.60 0a1.80 1.80 0 1 0 -3.60 0M83.86 181.68m-1.80 0a1.80 1.80 0 1 0 3.60 0a1.80 1.80 0 1 0 -3.60 0M84.29 179.77m-1.80 0a1.80 1.80 0 1 0 3.60 0a1.80 1.80 0 1 0 -3.60 0M84.73 177.74m-1.80 0a1.80 1.80 0 1 0 3.60 0a1.80 1.80 0 1 0 -3.60 0M85.16 175.34m-1.80 0a1.80 1.80 0 1 0 3.60 0a1.80 1.80 0 1 0 -3.60 0M85.59 172.12m-1.80 0a1.80 1.80 0 1 0 3.60 0a1.80 1.80 0 1 0 -3.60 0M86.02 168.82m-1.80 0a1.80 1.80 0 1 0 3.60 0a1.80 1.80 0 1 0 -3.60 0M86.46 165.13m-1.80 0a1.80 1.80 0 1 0 3.60 0a1.80 1.80 0 1 0 -3.60 0M86.89 161.54m-1.80 0a1.80 1.80 0 1 0 3.60 0a1.80 1.80 0 1 0 -3.60 0M87.32 157.59m-1.80 0a1.80 1.80 0 1 0 3.60 0a1.80 1.80 0 1 0 -3.60 0M87.76 154.02m-1.80 0a1.80 1.80 0 1 0 3.60 0a1.80 1.80 0 1 0 -3.60 0M88.19 151.11m-1.80 0a1.80 1.80 0 1 0 3.60 0a1.80 1.80 0 1 0 -3.60 0M88.62 148.27m-1.80 0a1.80 1.80 0 1 0 3.60 0a1.80 1.80 0 1 0 -3.60 0M89.05 146.73m-1.80 0a1.80 1.80 0 1 0 3.60 0a1.80 1.80 0 1 0 -3.60 0M89.49 145.98m-1.80 0a1.80 1.80 0 1 0 3.60 0a1.80 1.80 0 1 0 -3.60 0M89.92 146.22m-1.80 0a1.80 1.80 0 1 0 3.60 0a1.80 1.80 0 1 0 -3.60 0M90.35 147.67m-1.80 0a1.80 1.80 0 1 0 3.60 0a1.80 1.80 0 1 0 -3.60 0M90.78 150.14m-1.80 0a1.80 1.80 0 1 0 3.60 0a1.80 1.80 0 1 0 -3.60 0M91.22 152.91m-1.80 0a1.80 1.80 0 1 0 3.60 0a1.80 1.80 0 1 0 -3.60 0M91.65 156.40m-1.80 0a1.80 1.80 0 1 0 3.60 0a1.80 1.80 0 1 0 -3.60 0M92.08 160.13m-1.80 0a1.80 1.80 0 1 0 3.60 0a1.80 1.80 0 1 0 -3.60 0M92.52 164.21m-1.80 0a1.80 1.80 0 1 0 3.60 0a1.80 1.80 0 1 0 -3.60 0M92.95 168.20m-1.80 0a1.80 1.80 0 1 0 3.60 0a1.80 1.80 0 1 0 -3.60 0M93.38 171.73m-1.80 0a1.80 1.80 0 1 0 3.60 0a1.80 1.80 0 1 0 -3.60 0M93.81 174.77m-1.80 0a1.80 1.80 0 1 0 3.60 0a1.80 1.80 0 1 0 -3.60 0M94.25 177.66m-1.80 0a1.80 1.80 0 1 0 3.60 0a1.80 1.80 0 1 0 -3.60 0M94.68 180.17m-1.80 0a1.80 1.80 0 1 0 3.60 0a1.80 1.80 0 1 0 -3.60 0M95.11 182.33m-1.80 0a1.80 1.80 0 1 0 3.60 0a1.80 1.80 0 1 0 -3.60 0M95.55 183.93m-1.80 0a1.80 1.80 0 1 0 3.60 0a1.80 1.80 0 1 0 -3.60 0M95.98 185.30m-1.80 0a1.80 1.80 0 1 0 3.60 0a1.80 1.80 0 1 0 -3.60 0M96.41 186.35m-1.80 0a1.80 1.80 0 1 0 3.60 0a1.80 1.80 0 1 0 -3.60 0M96.84 187.08m-1.80 0a1.80 1.80 0 1 0 3.60 0a1.80 1.80 0 1 0 -3.60 0M97.28 187.74m-1.80 0a1.80 1.80 0 1 0 3.60 0a1.80 1.80 0 1 0 -3.60 0M97.71 188.25m-1.80 0a1.80 1.80 0 1 0 3.60 0a1.80 1.80 0 1 0 -3.60 0M98.14 188.59m-1.80 0a1.80 1.80 0 1 0 3.60 0a1.80 1.80 0 1 0 -3.60 0M98.58 188.95m-1.80 0a1.80 1.80 0 1 0 3.60 0a1.80 1.80 0 1 0 -3.60 0M99.01 189.36m-1.80 0a1.80 1.80 0 1 0 3.60 0a1.80 1.80 0 1 0 -3.60 0M99.44 189.41m-1.80 0a1.80 1.80 0 1 0 3.60 0a1.80 1.80 0 1 0 -3.60 0M99.87 189.53m-1.80 0a1.80 1.80 0 1 0 3.60 0a1.80 1.80 0 1 0 -3.60 0M100.31 189.43m-1.80 0a1.80 1.80 0 1 0 3.60 0a1.80 1.80 0 1 0 -3.60 0M100.74 189.76m-1.80 0a1.80 1.80 0 1 0 3.60 0a1.80 1.80 0 1 0 -3.60 0M101.17 189.55m-1.80 0a1.80 1.80 0 1 0 3.60 0a1.80 1.80 0 1 0 -3.60 0M101.60 189.68m-1.80 0a1.80 1.80 0 1 0 3.60 0a1.80 1.80 0 1 0 -3.60 0M102.04 190.01m-1.80 0a1.80 1.80 0 1 0 3.60 0a1.80 1.80 0 1 0 -3.60 0M102.47 190.05m-1.80 0a1.80 1.80 0 1 0 3.60 0a1.80 1.80 0 1 0 -3.60 0M102.90 189.99m-1.80 0a1.80 1.80 0 1 0 3.60 0a1.80 1.80 0 1 0 -3.60 0M103.34 189.86m-1.80 0a1.80 1.80 0 1 0 3.60 0a1.80 1.80 0 1 0 -3.60 0M103.77 190.07m-1.80 0a1.80 1.80 0 1 0 3.60 0a1.80 1.80 0 1 0 -3.60 0M104.20 190.07m-1.80 0a1.80 1.80 0 1 0 3.60 0a1.80 1.80 0 1 0 -3.60 0M104.63 190.28m-1.80 0a1.80 1.80 0 1 0 3.60 0a1.80 1.80 0 1 0 -3.60 0M105.07 190.51m-1.80 0a1.80 1.80 0 1 0 3.60 0a1.80 1.80 0 1 0 -3.60 0M105.50 190.31m-1.80 0a1.80 1.80 0 1 0 3.60 0a1.80 1.80 0 1 0 -3.60 0M105.93 190.23m-1.80 0a1.80 1.80 0 1 0 3.60 0a1.80 1.80 0 1 0 -3.60 0M106.37 190.22m-1.80 0a1.80 1.80 0 1 0 3.60 0a1.80 1.80 0 1 0 -3.60 0M106.80 190.39m-1.80 0a1.80 1.80 0 1 0 3.60 0a1.80 1.80 0 1 0 -3.60 0M107.23 190.40m-1.80 0a1.80 1.80 0 1 0 3.60 0a1.80 1.80 0 1 0 -3.60 0M107.66 190.32m-1.80 0a1.80 1.80 0 1 0 3.60 0a1.80 1.80 0 1 0 -3.60 0M108.10 190.50m-1.80 0a1.80 1.80 0 1 0 3.60 0a1.80 1.80 0 1 0 -3.60 0M108.53 190.38m-1.80 0a1.80 1.80 0 1 0 3.60 0a1.80 1.80 0 1 0 -3.60 0M108.96 190.68m-1.80 0a1.80 1.80 0 1 0 3.60 0a1.80 1.80 0 1 0 -3.60 0M109.40 190.70m-1.80 0a1.80 1.80 0 1 0 3.60 0a1.80 1.80 0 1 0 -3.60 0M109.83 190.72m-1.80 0a1.80 1.80 0 1 0 3.60 0a1.80 1.80 0 1 0 -3.60 0M110.26 190.54m-1.80 0a1.80 1.80 0 1 0 3.60 0a1.80 1.80 0 1 0 -3.60 0M110.69 190.64m-1.80 0a1.80 1.80 0 1 0 3.60 0a1.80 1.80 0 1 0 -3.60 0M111.13 190.54m-1.80 0a1.80 1.80 0 1 0 3.60 0a1.80 1.80 0 1 0 -3.60 0M111.56 190.48m-1.80 0a1.80 1.80 0 1 0 3.60 0a1.80 1.80 0 1 0 -3.60 0M111.99 190.46m-1.80 0a1.80 1.80 0 1 0 3.60 0a1.80 1.80 0 1 0 -3.60 0M112.42 190.32m-1.80 0a1.80 1.80 0 1 0 3.60 0a1.80 1.80 0 1 0 -3.60 0M112.86 190.27m-1.80 0a1.80 1.80 0 1 0 3.60 0a1.80 1.80 0 1 0 -3.60 0M113.29 190.50m-1.80 0a1.80 1.80 0 1 0 3.60 0a1.80 1.80 0 1 0 -3.60 0M113.72 190.34m-1.80 0a1.80 1.80 0 1 0 3.60 0a1.80 1.80 0 1 0 -3.60 0M114.16 190.34m-1.80 0a1.80 1.80 0 1 0 3.60 0a1.80 1.80 0 1 0 -3.60 0M114.59 190.38m-1.80 0a1.80 1.80 0 1 0 3.60 0a1.80 1.80 0 1 0 -3.60 0M115.02 189.98m-1.80 0a1.80 1.80 0 1 0 3.60 0a1.80 1.80 0 1 0 -3.60 0M115.45 190.01m-1.80 0a1.80 1.80 0 1 0 3.60 0a1.80 1.80 0 1 0 -3.60 0M115.89 190.02m-1.80 0a1.80 1.80 0 1 0 3.60 0a1.80 1.80 0 1 0 -3.60 0M116.32 189.90m-1.80 0a1.80 1.80 0 1 0 3.60 0a1.80 1.80 0 1 0 -3.60 0M116.75 189.61m-1.80 0a1.80 1.80 0 1 0 3.60 0a1.80 1.80 0 1 0 -3.60 0M117.19 189.51m-1.80 0a1.80 1.80 0 1 0 3.60 0a1.80 1.80 0 1 0 -3.60 0M117.62 189.04m-1.80 0a1.80 1.80 0 1 0 3.60 0a1.80 1.80 0 1 0 -3.60 0M118.05 188.33m-1.80 0a1.80 1.80 0 1 0 3.60 0a1.80 1.80 0 1 0 -3.60 0M118.48 187.53m-1.80 0a1.80 1.80 0 1 0 3.60 0a1.80 1.80 0 1 0 -3.60 0M118.92 186.64m-1.80 0a1.80 1.80 0 1 0 3.60 0a1.80 1.80 0 1 0 -3.60 0M119.35 185.18m-1.80 0a1.80 1.80 0 1 0 3.60 0a1.80 1.80 0 1 0 -3.60 0M119.78 183.08m-1.80 0a1.80 1.80 0 1 0 3.60 0a1.80 1.80 0 1 0 -3.60 0M120.22 181.19m-1.80 0a1.80 1.80 0 1 0 3.60 0a1.80 1.80 0 1 0 -3.60 0M120.65 178.27m-1.80 0a1.80 1.80 0 1 0 3.60 0a1.80 1.80 0 1 0 -3.60 0M121.08 174.96m-1.80 0a1.80 1.80 0 1 0 3.60 0a1.80 1.80 0 1 0 -3.60 0M121.51 170.81m-1.80 0a1.80 1.80 0 1 0 3.60 0a1.80 1.80 0 1 0 -3.60 0M121.95 166.30m-1.80 0a1.80 1.80 0 1 0 3.60 0a1.80 1.80 0 1 0 -3.60 0M122.38 161.19m-1.80 0a1.80 1.80 0 1 0 3.60 0a1.80 1.80 0 1 0 -3.60 0M122.81 156.27m-1.80 0a1.80 1.80 0 1 0 3.60 0a1.80 1.80 0 1 0 -3.60 0M123.24 150.41m-1.80 0a1.80 1.80 0 1 0 3.60 0a1.80 1.80 0 1 0 -3.60 0M123.68 145.18m-1.80 0a1.80 1.80 0 1 0 3.60 0a1.80 1.80 0 1 0 -3.60 0M124.11 139.83m-1.80 0a1.80 1.80 0 1 0 3.60 0a1.80 1.80 0 1 0 -3.60 0M124.54 135.52m-1.80 0a1.80 1.80 0 1 0 3.60 0a1.80 1.80 0 1 0 -3.60 0M124.98 131.89m-1.80 0a1.80 1.80 0 1 0 3.60 0a1.80 1.80 0 1 0 -3.60 0M125.41 129.90m-1.80 0a1.80 1.80 0 1 0 3.60 0a1.80 1.80 0 1 0 -3.60 0M125.84 129.41m-1.80 0a1.80 1.80 0 1 0 3.60 0a1.80 1.80 0 1 0 -3.60 0M126.27 130.24m-1.80 0a1.80 1.80 0 1 0 3.60 0a1.80 1.80 0 1 0 -3.60 0M126.71 133.03m-1.80 0a1.80 1.80 0 1 0 3.60 0a1.80 1.80 0 1 0 -3.60 0M127.14 136.68m-1.80 0a1.80 1.80 0 1 0 3.60 0a1.80 1.80 0 1 0 -3.60 0M127.57 141.19m-1.80 0a1.80 1.80 0 1 0 3.60 0a1.80 1.80 0 1 0 -3.60 0M128.01 146.54m-1.80 0a1.80 1.80 0 1 0 3.60 0a1.80 1.80 0 1 0 -3.60 0M128.44 152.14m-1.80 0a1.80 1.80 0 1 0 3.60 0a1.80 1.80 0 1 0 -3.60 0M128.87 157.81m-1.80 0a1.80 1.80 0 1 0 3.60 0a1.80 1.80 0 1 0 -3.60 0M129.30 163.18m-1.80 0a1.80 1.80 0 1 0 3.60 0a1.80 1.80 0 1 0 -3.60 0M129.74 168.17m-1.80 0a1.80 1.80 0 1 0 3.60 0a1.80 1.80 0 1 0 -3.60 0M130.17 172.76m-1.80 0a1.80 1.80 0 1 0 3.60 0a1.80 1.80 0 1 0 -3.60 0M130.60 176.63m-1.80 0a1.80 1.80 0 1 0 3.60 0a1.80 1.80 0 1 0 -3.60 0M131.04 179.94m-1.80 0a1.80 1.80 0 1 0 3.60 0a1.80 1.80 0 1 0 -3.60 0M131.47 182.75m-1.80 0a1.80 1.80 0 1 0 3.60 0a1.80 1.80 0 1 0 -3.60 0M131.90 184.99m-1.80 0a1.80 1.80 0 1 0 3.60 0a1.80 1.80 0 1 0 -3.60 0M132.33 186.38m-1.80 0a1.80 1.80 0 1 0 3.60 0a1.80 1.80 0 1 0 -3.60 0M132.77 187.86m-1.80 0a1.80 1.80 0 1 0 3.60 0a1.80 1.80 0 1 0 -3.60 0M133.20 188.73m-1.80 0a1.80 1.80 0 1 0 3.60 0a1.80 1.80 0 1 0 -3.60 0M133.63 189.37m-1.80 0a1.80 1.80 0 1 0 3.60 0a1.80 1.80 0 1 0 -3.60 0M134.06 190.07m-1.80 0a1.80 1.80 0 1 0 3.60 0a1.80 1.80 0 1 0 -3.60 0M134.50 190.26m-1.80 0a1.80 1.80 0 1 0 3.60 0a1.80 1.80 0 1 0 -3.60 0M134.93 190.76m-1.80 0a1.80 1.80 0 1 0 3.60 0a1.80 1.80 0 1 0 -3.60 0M135.36 190.67m-1.80 0a1.80 1.80 0 1 0 3.60 0a1.80 1.80 0 1 0 -3.60 0M135.80 190.95m-1.80 0a1.80 1.80 0 1 0 3.60 0a1.80 1.80 0 1 0 -3.60 0M136.23 190.98m-1.80 0a1.80 1.80 0 1 0 3.60 0a1.80 1.80 0 1 0 -3.60 0M136.66 191.00m-1.80 0a1.80 1.80 0 1 0 3.60 0a1.80 1.80 0 1 0 -3.60 0M137.09 191.23m-1.80 0a1.80 1.80 0 1 0 3.60 0a1.80 1.80 0 1 0 -3.60 0M137.53 191.20m-1.80 0a1.80 1.80 0 1 0 3.60 0a1.80 1.80 0 1 0 -3.60 0M137.96 191.34m-1.80 0a1.80 1.80 0 1 0 3.60 0a1.80 1.80 0 1 0 -3.60 0M138.39 191.31m-1.80 0a1.80 1.80 0 1 0 3.60 0a1.80 1.80 0 1 0 -3.60 0M138.83 191.22m-1.80 0a1.80 1.80 0 1 0 3.60 0a1.80 1.80 0 1 0 -3.60 0M139.26 191.37m-1.80 0a1.80 1.80 0 1 0 3.60 0a1.80 1.80 0 1 0 -3.60 0M139.69 191.42m-1.80 0a1.80 1.80 0 1 0 3.60 0a1.80 1.80 0 1 0 -3.60 0M140.12 191.56m-1.80 0a1.80 1.80 0 1 0 3.60 0a1.80 1.80 0 1 0 -3.60 0M140.56 191.36m-1.80 0a1.80 1.80 0 1 0 3.60 0a1.80 1.80 0 1 0 -3.60 0M140.99 191.48m-1.80 0a1.80 1.80 0 1 0 3.60 0a1.80 1.80 0 1 0 -3.60 0M141.42 191.30m-1.80 0a1.80 1.80 0 1 0 3.60 0a1.80 1.80 0 1 0 -3.60 0M141.86 191.60m-1.80 0a1.80 1.80 0 1 0 3.60 0a1.80 1.80 0 1 0 -3.60 0M142.29 191.41m-1.80 0a1.80 1.80 0 1 0 3.60 0a1.80 1.80 0 1 0 -3.60 0M142.72 191.34m-1.80 0a1.80 1.80 0 1 0 3.60 0a1.80 1.80 0 1 0 -3.60 0M143.15 191.56m-1.80 0a1.80 1.80 0 1 0 3.60 0a1.80 1.80 0 1 0 -3.60 0M143.59 191.71m-1.80 0a1.80 1.80 0 1 0 3.60 0a1.80 1.80 0 1 0 -3.60 0M144.02 191.41m-1.80 0a1.80 1.80 0 1 0 3.60 0a1.80 1.80 0 1 0 -3.60 0M144.45 191.47m-1.80 0a1.80 1.80 0 1 0 3.60 0a1.80 1.80 0 1 0 -3.60 0M144.88 191.52m-1.80 0a1.80 1.80 0 1 0 3.60 0a1.80 1.80 0 1 0 -3.60 0M145.32 191.49m-1.80 0a1.80 1.80 0 1 0 3.60 0a1.80 1.80 0 1 0 -3.60 0M145.75 191.67m-1.80 0a1.80 1.80 0 1 0 3.60 0a1.80 1.80 0 1 0 -3.60 0M146.18 191.54m-1.80 0a1.80 1.80 0 1 0 3.60 0a1.80 1.80 0 1 0 -3.60 0M146.62 191.56m-1.80 0a1.80 1.80 0 1 0 3.60 0a1.80 1.80 0 1 0 -3.60 0M147.05 191.72m-1.80 0a1.80 1.80 0 1 0 3.60 0a1.80 1.80 0 1 0 -3.60 0M147.48 191.56m-1.80 0a1.80 1.80 0 1 0 3.60 0a1.80 1.80 0 1 0 -3.60 0M147.91 191.71m-1.80 0a1.80 1.80 0 1 0 3.60 0a1.80 1.80 0 1 0 -3.60 0M148.35 191.55m-1.80 0a1.80 1.80 0 1 0 3.60 0a1.80 1.80 0 1 0 -3.60 0M148.78 191.52m-1.80 0a1.80 1.80 0 1 0 3.60 0a1.80 1.80 0 1 0 -3.60 0M149.21 191.45m-1.80 0a1.80 1.80 0 1 0 3.60 0a1.80 1.80 0 1 0 -3.60 0M149.65 191.90m-1.80 0a1.80 1.80 0 1 0 3.60 0a1.80 1.80 0 1 0 -3.60 0M150.08 191.64m-1.80 0a1.80 1.80 0 1 0 3.60 0a1.80 1.80 0 1 0 -3.60 0M150.51 191.71m-1.80 0a1.80 1.80 0 1 0 3.60 0a1.80 1.80 0 1 0 -3.60 0M150.94 191.68m-1.80 0a1.80 1.80 0 1 0 3.60 0a1.80 1.80 0 1 0 -3.60 0M151.38 191.71m-1.80 0a1.80 1.80 0 1 0 3.60 0a1.80 1.80 0 1 0 -3.60 0M151.81 191.70m-1.80 0a1.80 1.80 0 1 0 3.60 0a1.80 1.80 0 1 0 -3.60 0M152.24 191.92m-1.80 0a1.80 1.80 0 1 0 3.60 0a1.80 1.80 0 1 0 -3.60 0M152.68 191.57m-1.80 0a1.80 1.80 0 1 0 3.60 0a1.80 1.80 0 1 0 -3.60 0M153.11 191.51m-1.80 0a1.80 1.80 0 1 0 3.60 0a1.80 1.80 0 1 0 -3.60 0M153.54 191.58m-1.80 0a1.80 1.80 0 1 0 3.60 0a1.80 1.80 0 1 0 -3.60 0M153.97 191.54m-1.80 0a1.80 1.80 0 1 0 3.60 0a1.80 1.80 0 1 0 -3.60 0M154.41 191.79m-1.80 0a1.80 1.80 0 1 0 3.60 0a1.80 1.80 0 1 0 -3.60 0M154.84 191.80m-1.80 0a1.80 1.80 0 1 0 3.60 0a1.80 1.80 0 1 0 -3.60 0M155.27 191.59m-1.80 0a1.80 1.80 0 1 0 3.60 0a1.80 1.80 0 1 0 -3.60 0M155.70 191.54m-1.80 0a1.80 1.80 0 1 0 3.60 0a1.80 1.80 0 1 0 -3.60 0M156.14 191.66m-1.80 0a1.80 1.80 0 1 0 3.60 0a1.80 1.80 0 1 0 -3.60 0M156.57 191.87m-1.80 0a1.80 1.80 0 1 0 3.60 0a1.80 1.80 0 1 0 -3.60 0M157.00 191.37m-1.80 0a1.80 1.80 0 1 0 3.60 0a1.80 1.80 0 1 0 -3.60 0M157.44 191.77m-1.80 0a1.80 1.80 0 1 0 3.60 0a1.80 1.80 0 1 0 -3.60 0M157.87 191.58m-1.80 0a1.80 1.80 0 1 0 3.60 0a1.80 1.80 0 1 0 -3.60 0M158.30 191.83m-1.80 0a1.80 1.80 0 1 0 3.60 0a1.80 1.80 0 1 0 -3.60 0M158.73 191.58m-1.80 0a1.80 1.80 0 1 0 3.60 0a1.80 1.80 0 1 0 -3.60 0M159.17 191.67m-1.80 0a1.80 1.80 0 1 0 3.60 0a1.80 1.80 0 1 0 -3.60 0M159.60 191.52m-1.80 0a1.80 1.80 0 1 0 3.60 0a1.80 1.80 0 1 0 -3.60 0M160.03 191.59m-1.80 0a1.80 1.80 0 1 0 3.60 0a1.80 1.80 0 1 0 -3.60 0" fill="none" stroke="#b8090e" stroke-width="1.20"/>
<path d="M51.40 188.59L51.83 188.59L52.27 188.58L52.70 188.58L53.13 188.57L53.56 188.56L54.00 188.56L54.43 188.55L54.86 188.54L55.30 188.54L55.73 188.53L56.16 188.52L56.59 188.52L57.03 188.51L57.46 188.51L57.89 188.50L58.32 188.49L58.76 188.49L59.19 188.48L59.62 188.47L60.06 188.47L60.49 188.46L60.92 188.45L61.35 188.45L61.79 188.44L62.22 188.44L62.65 188.43L63.09 188.42L63.52 188.42L63.95 188.41L64.38 188.40L64.82 188.40L65.25 188.39L65.68 188.38L66.12 188.38L66.55 188.37L66.98 188.36L67.41 188.36L67.85 188.35L68.28 188.35L68.71 188.34L69.14 188.33L69.58 188.33L70.01 188.32L70.44 188.31L70.88 188.31L71.31 188.30L71.74 188.29L72.17 188.29L72.61 188.28L73.04 188.28L73.47 188.27L73.91 188.26L74.34 188.26L74.77 188.25L75.20 188.24L75.64 188.24L76.07 188.23L76.50 188.22L76.94 188.22L77.37 188.21L77.80 188.21L78.23 188.20L78.67 188.19L79.10 188.19L79.53 188.18L79.96 188.17L80.40 188.17L80.83 188.16L81.26 188.15L81.70 188.15L82.13 188.14L82.56 188.14L82.99 188.13L83.43 188.12L83.86 188.12L84.29 188.11L84.73 188.10L85.16 188.13L85.59 188.19L86.02 188.26L86.46 188.33L86.89 188.40L87.32 188.47L87.76 188.54L88.19 188.61L88.62 188.68L89.05 188.75L89.49 188.82L89.92 188.89L90.35 188.91L90.78 188.93L91.22 188.95L91.65 188.97L92.08 188.99L92.52 189.01L92.95 189.02L93.38 189.04L93.81 189.06L94.25 189.08L94.68 189.10L95.11 189.11L95.55 189.13L95.98 189.15L96.41 189.17L96.84 189.19L97.28 189.21L97.71 189.22L98.14 189.24L98.58 189.26L99.01 189.28L99.44 189.30L99.87 189.31L100.31 189.33L100.74 189.35L101.17 189.37L101.60 189.39L102.04 189.40L102.47 189.42L102.90 189.44L103.34 189.46L103.77 189.48L104.20 189.50L104.63 189.51L105.07 189.53L105.50 189.55L105.93 189.57L106.37 189.59L106.80 189.60L107.23 189.62L107.66 189.64L108.10 189.66L108.53 189.68L108.96 189.70L109.40 189.71L109.83 189.73L110.26 189.75L110.69 189.77L111.13 189.79L111.56 189.80L111.99 189.82L112.42 189.84L112.86 189.86L113.29 189.88L113.72 189.89L114.16 189.91L114.59 189.93L115.02 189.95L115.45 189.97L115.89 189.99L116.32 190.00L116.75 190.02L117.19 190.04L117.62 190.06L118.05 190.08L118.48 190.09L118.92 190.11L119.35 190.13L119.78 190.15L120.22 190.17L120.65 190.19L121.08 190.21L121.51 190.26L121.95 190.32L122.38 190.37L122.81 190.43L123.24 190.48L123.68 190.53L124.11 190.59L124.54 190.64L124.98 190.70L125.41 190.76L125.84 190.83L126.27 190.89L126.71 190.96L127.14 191.02L127.57 191.09L128.01 191.15L128.44 191.22L128.87 191.28L129.30 191.35L129.74 191.41L130.17 191.48L130.60 191.54L131.04 191.61L131.47 191.67L131.90 191.74L132.33 191.80L132.77 191.86L133.20 191.90L133.63 191.90L134.06 191.90L134.50 191.91L134.93 191.91L135.36 191.91L135.80 191.91L136.23 191.91L136.66 191.91L137.09 191.92L137.53 191.92L137.96 191.92L138.39 191.92L138.83 191.92L139.26 191.92L139.69 191.92L140.12 191.93L140.56 191.93L140.99 191.93L141.42 191.93L141.86 191.93L142.29 191.93L142.72 191.94L143.15 191.94L143.59 191.94L144.02 191.94L144.45 191.94L144.88 191.94L145.32 191.95L145.75 191.95L146.18 191.95L146.62 191.95L147.05 191.95L147.48 191.95L147.91 191.96L148.35 191.96L148.78 191.96L149.21 191.96L149.65 191.96L150.08 191.96L150.51 191.96L150.94 191.97L151.38 191.97L151.81 191.97L152.24 191.97L152.68 191.97L153.11 191.97L153.54 191.98L153.97 191.98L154.41 191.98L154.84 191.98L155.27 191.98L155.70 191.98L156.14 191.99L156.57 191.99L157.00 191.99L157.44 191.99L157.87 191.99L158.30 191.99L158.73 192.00L159.17 192.00L159.60 192.00L160.03 192.00" fill="none" stroke="#ec8088" stroke-width="0.80" stroke-linejoin="round"/>
<path d="M51.40 188.53L51.83 188.52L52.27 188.52L52.70 188.51L53.13 188.50L53.56 188.49L54.00 188.48L54.43 188.48L54.86 188.47L55.30 188.46L55.73 188.45L56.16 188.44L56.59 188.44L57.03 188.43L57.46 188.42L57.89 188.41L58.32 188.40L58.76 188.39L59.19 188.39L59.62 188.38L60.06 188.37L60.49 188.36L60.92 188.35L61.35 188.34L61.79 188.33L62.22 188.32L62.65 188.31L63.09 188.30L63.52 188.29L63.95 188.28L64.38 188.27L64.82 188.26L65.25 188.25L65.68 188.24L66.12 188.23L66.55 188.22L66.98 188.21L67.41 188.20L67.85 188.18L68.28 188.17L68.71 188.16L69.14 188.14L69.58 188.13L70.01 188.12L70.44 188.10L70.88 188.09L71.31 188.07L71.74 188.06L72.17 188.04L72.61 188.02L73.04 188.00L73.47 187.98L73.91 187.96L74.34 187.94L74.77 187.92L75.20 187.90L75.64 187.87L76.07 187.84L76.50 187.81L76.94 187.78L77.37 187.75L77.80 187.71L78.23 187.66L78.67 187.61L79.10 187.55L79.53 187.48L79.96 187.38L80.40 187.25L80.83 187.08L81.26 186.84L81.70 186.51L82.13 186.06L82.56 185.46L82.99 184.64L83.43 183.57L83.86 182.18L84.29 180.45L84.73 178.32L85.16 175.80L85.59 172.94L86.02 169.71L86.46 166.20L86.89 162.52L87.32 158.83L87.76 155.33L88.19 152.21L88.62 149.70L89.05 148.01L89.49 147.28L89.92 147.60L90.35 148.89L90.78 151.08L91.22 153.99L91.65 157.40L92.08 161.10L92.52 164.89L92.95 168.59L93.38 172.06L93.81 175.21L94.25 177.97L94.68 180.32L95.11 182.27L95.55 183.84L95.98 185.08L96.41 186.03L96.84 186.75L97.28 187.29L97.71 187.68L98.14 187.97L98.58 188.18L99.01 188.34L99.44 188.45L99.87 188.55L100.31 188.62L100.74 188.68L101.17 188.73L101.60 188.78L102.04 188.82L102.47 188.86L102.90 188.90L103.34 188.93L103.77 188.96L104.20 188.99L104.63 189.01L105.07 189.04L105.50 189.06L105.93 189.08L106.37 189.10L106.80 189.12L107.23 189.14L107.66 189.15L108.10 189.16L108.53 189.18L108.96 189.19L109.40 189.19L109.83 189.20L110.26 189.21L110.69 189.21L111.13 189.21L111.56 189.21L111.99 189.20L112.42 189.20L112.86 189.19L113.29 189.17L113.72 189.15L114.16 189.12L114.59 189.09L115.02 189.04L115.45 188.98L115.89 188.89L116.32 188.77L116.75 188.60L117.19 188.35L117.62 187.99L118.05 187.50L118.48 186.80L118.92 185.85L119.35 184.58L119.78 182.91L120.22 180.76L120.65 178.08L121.08 174.83L121.51 171.01L121.95 166.63L122.38 161.76L122.81 156.53L123.24 151.14L123.68 145.82L124.11 140.88L124.54 136.61L124.98 133.33L125.41 131.33L125.84 130.78L126.27 131.75L126.71 134.14L127.14 137.76L127.57 142.30L128.01 147.46L128.44 152.94L128.87 158.44L129.30 163.73L129.74 168.64L130.17 173.04L130.60 176.86L131.04 180.10L131.47 182.75L131.90 184.89L132.33 186.56L132.77 187.86L133.20 188.81L133.63 189.48L134.06 189.97L134.50 190.33L134.93 190.58L135.36 190.77L135.80 190.91L136.23 191.01L136.66 191.09L137.09 191.16L137.53 191.22L137.96 191.27L138.39 191.31L138.83 191.35L139.26 191.38L139.69 191.42L140.12 191.45L140.56 191.47L140.99 191.50L141.42 191.52L141.86 191.54L142.29 191.56L142.72 191.58L143.15 191.60L143.59 191.62L144.02 191.63L144.45 191.65L144.88 191.66L145.32 191.67L145.75 191.69L146.18 191.70L146.62 191.71L147.05 191.72L147.48 191.73L147.91 191.74L148.35 191.75L148.78 191.76L149.21 191.77L149.65 191.77L150.08 191.78L150.51 191.79L150.94 191.80L151.38 191.80L151.81 191.81L152.24 191.82L152.68 191.82L153.11 191.83L153.54 191.83L153.97 191.84L154.41 191.84L154.84 191.85L155.27 191.86L155.70 191.86L156.14 191.87L156.57 191.87L157.00 191.87L157.44 191.88L157.87 191.88L158.30 191.89L158.73 191.89L159.17 191.90L159.60 191.90L160.03 191.90" fill="none" stroke="#16e016" stroke-width="1.30" stroke-linejoin="round"/>
<text x="82.50" y="141.30" font-size="6.40" text-anchor="start" fill="#1a1a1a" stroke="#1a1a1a" stroke-width="0.12">3d<tspan font-size="3.9" dy="2.0">3/2</tspan></text>
<text x="119.10" y="124.00" font-size="6.40" text-anchor="start" fill="#1a1a1a" stroke="#1a1a1a" stroke-width="0.12">3d<tspan font-size="3.9" dy="2.0">5/2</tspan></text>
<circle cx="52.85" cy="120.00" r="1.95" fill="none" stroke="#b8090e" stroke-width="1.3"/>
<text transform="translate(61.00 122.20) scale(1 1.06)" font-size="6.1" fill="#1a1a1a" stroke="#1a1a1a" stroke-width="0.1">Experiment</text>
<path d="M46.20 127.30H59.50" stroke="#ec8088" stroke-width="0.80"/>
<text transform="translate(61.00 129.50) scale(1 1.06)" font-size="6.1" fill="#1a1a1a" stroke="#1a1a1a" stroke-width="0.1">Background</text>
<path d="M46.20 134.60H59.50" stroke="#16e016" stroke-width="1.50"/>
<text transform="translate(61.00 136.80) scale(1 1.06)" font-size="6.1" fill="#1a1a1a" stroke="#1a1a1a" stroke-width="0.1">Sn(+4)</text>
<path d="M190.30 94.77m-1.90 0a1.90 1.90 0 1 0 3.80 0a1.90 1.90 0 1 0 -3.80 0M190.76 93.30m-1.90 0a1.90 1.90 0 1 0 3.80 0a1.90 1.90 0 1 0 -3.80 0M191.21 90.11m-1.90 0a1.90 1.90 0 1 0 3.80 0a1.90 1.90 0 1 0 -3.80 0M191.67 88.88m-1.90 0a1.90 1.90 0 1 0 3.80 0a1.90 1.90 0 1 0 -3.80 0M192.12 86.20m-1.90 0a1.90 1.90 0 1 0 3.80 0a1.90 1.90 0 1 0 -3.80 0M192.58 90.12m-1.90 0a1.90 1.90 0 1 0 3.80 0a1.90 1.90 0 1 0 -3.80 0M193.04 91.07m-1.90 0a1.90 1.90 0 1 0 3.80 0a1.90 1.90 0 1 0 -3.80 0M193.49 90.93m-1.90 0a1.90 1.90 0 1 0 3.80 0a1.90 1.90 0 1 0 -3.80 0M193.95 90.90m-1.90 0a1.90 1.90 0 1 0 3.80 0a1.90 1.90 0 1 0 -3.80 0M194.40 88.19m-1.90 0a1.90 1.90 0 1 0 3.80 0a1.90 1.90 0 1 0 -3.80 0M194.86 90.97m-1.90 0a1.90 1.90 0 1 0 3.80 0a1.90 1.90 0 1 0 -3.80 0M195.32 91.04m-1.90 0a1.90 1.90 0 1 0 3.80 0a1.90 1.90 0 1 0 -3.80 0M195.77 94.55m-1.90 0a1.90 1.90 0 1 0 3.80 0a1.90 1.90 0 1 0 -3.80 0M196.23 96.08m-1.90 0a1.90 1.90 0 1 0 3.80 0a1.90 1.90 0 1 0 -3.80 0M196.68 90.77m-1.90 0a1.90 1.90 0 1 0 3.80 0a1.90 1.90 0 1 0 -3.80 0M197.14 89.09m-1.90 0a1.90 1.90 0 1 0 3.80 0a1.90 1.90 0 1 0 -3.80 0M197.60 90.95m-1.90 0a1.90 1.90 0 1 0 3.80 0a1.90 1.90 0 1 0 -3.80 0M198.05 89.51m-1.90 0a1.90 1.90 0 1 0 3.80 0a1.90 1.90 0 1 0 -3.80 0M198.51 89.14m-1.90 0a1.90 1.90 0 1 0 3.80 0a1.90 1.90 0 1 0 -3.80 0M198.96 90.96m-1.90 0a1.90 1.90 0 1 0 3.80 0a1.90 1.90 0 1 0 -3.80 0M199.42 88.33m-1.90 0a1.90 1.90 0 1 0 3.80 0a1.90 1.90 0 1 0 -3.80 0M199.88 92.74m-1.90 0a1.90 1.90 0 1 0 3.80 0a1.90 1.90 0 1 0 -3.80 0M200.33 90.83m-1.90 0a1.90 1.90 0 1 0 3.80 0a1.90 1.90 0 1 0 -3.80 0M200.79 91.78m-1.90 0a1.90 1.90 0 1 0 3.80 0a1.90 1.90 0 1 0 -3.80 0M201.24 90.62m-1.90 0a1.90 1.90 0 1 0 3.80 0a1.90 1.90 0 1 0 -3.80 0M201.70 89.15m-1.90 0a1.90 1.90 0 1 0 3.80 0a1.90 1.90 0 1 0 -3.80 0M202.16 88.55m-1.90 0a1.90 1.90 0 1 0 3.80 0a1.90 1.90 0 1 0 -3.80 0M202.61 90.46m-1.90 0a1.90 1.90 0 1 0 3.80 0a1.90 1.90 0 1 0 -3.80 0M203.07 89.62m-1.90 0a1.90 1.90 0 1 0 3.80 0a1.90 1.90 0 1 0 -3.80 0M203.52 91.73m-1.90 0a1.90 1.90 0 1 0 3.80 0a1.90 1.90 0 1 0 -3.80 0M203.98 91.08m-1.90 0a1.90 1.90 0 1 0 3.80 0a1.90 1.90 0 1 0 -3.80 0M204.44 87.39m-1.90 0a1.90 1.90 0 1 0 3.80 0a1.90 1.90 0 1 0 -3.80 0M204.89 91.27m-1.90 0a1.90 1.90 0 1 0 3.80 0a1.90 1.90 0 1 0 -3.80 0M205.35 87.43m-1.90 0a1.90 1.90 0 1 0 3.80 0a1.90 1.90 0 1 0 -3.80 0M205.80 89.40m-1.90 0a1.90 1.90 0 1 0 3.80 0a1.90 1.90 0 1 0 -3.80 0M206.26 90.28m-1.90 0a1.90 1.90 0 1 0 3.80 0a1.90 1.90 0 1 0 -3.80 0M206.72 85.41m-1.90 0a1.90 1.90 0 1 0 3.80 0a1.90 1.90 0 1 0 -3.80 0M207.17 91.33m-1.90 0a1.90 1.90 0 1 0 3.80 0a1.90 1.90 0 1 0 -3.80 0M207.63 91.49m-1.90 0a1.90 1.90 0 1 0 3.80 0a1.90 1.90 0 1 0 -3.80 0M208.08 90.64m-1.90 0a1.90 1.90 0 1 0 3.80 0a1.90 1.90 0 1 0 -3.80 0M208.54 89.90m-1.90 0a1.90 1.90 0 1 0 3.80 0a1.90 1.90 0 1 0 -3.80 0M209.00 90.04m-1.90 0a1.90 1.90 0 1 0 3.80 0a1.90 1.90 0 1 0 -3.80 0M209.45 88.37m-1.90 0a1.90 1.90 0 1 0 3.80 0a1.90 1.90 0 1 0 -3.80 0M209.91 90.32m-1.90 0a1.90 1.90 0 1 0 3.80 0a1.90 1.90 0 1 0 -3.80 0M210.36 89.53m-1.90 0a1.90 1.90 0 1 0 3.80 0a1.90 1.90 0 1 0 -3.80 0M210.82 91.31m-1.90 0a1.90 1.90 0 1 0 3.80 0a1.90 1.90 0 1 0 -3.80 0M211.28 87.72m-1.90 0a1.90 1.90 0 1 0 3.80 0a1.90 1.90 0 1 0 -3.80 0M211.73 91.70m-1.90 0a1.90 1.90 0 1 0 3.80 0a1.90 1.90 0 1 0 -3.80 0M212.19 91.44m-1.90 0a1.90 1.90 0 1 0 3.80 0a1.90 1.90 0 1 0 -3.80 0M212.64 90.65m-1.90 0a1.90 1.90 0 1 0 3.80 0a1.90 1.90 0 1 0 -3.80 0M213.10 89.82m-1.90 0a1.90 1.90 0 1 0 3.80 0a1.90 1.90 0 1 0 -3.80 0M213.56 92.58m-1.90 0a1.90 1.90 0 1 0 3.80 0a1.90 1.90 0 1 0 -3.80 0M214.01 86.38m-1.90 0a1.90 1.90 0 1 0 3.80 0a1.90 1.90 0 1 0 -3.80 0M214.47 92.32m-1.90 0a1.90 1.90 0 1 0 3.80 0a1.90 1.90 0 1 0 -3.80 0M214.92 91.71m-1.90 0a1.90 1.90 0 1 0 3.80 0a1.90 1.90 0 1 0 -3.80 0M215.38 91.82m-1.90 0a1.90 1.90 0 1 0 3.80 0a1.90 1.90 0 1 0 -3.80 0M215.84 92.10m-1.90 0a1.90 1.90 0 1 0 3.80 0a1.90 1.90 0 1 0 -3.80 0M216.29 89.18m-1.90 0a1.90 1.90 0 1 0 3.80 0a1.90 1.90 0 1 0 -3.80 0M216.75 90.28m-1.90 0a1.90 1.90 0 1 0 3.80 0a1.90 1.90 0 1 0 -3.80 0M217.20 92.80m-1.90 0a1.90 1.90 0 1 0 3.80 0a1.90 1.90 0 1 0 -3.80 0M217.66 92.22m-1.90 0a1.90 1.90 0 1 0 3.80 0a1.90 1.90 0 1 0 -3.80 0M218.12 91.59m-1.90 0a1.90 1.90 0 1 0 3.80 0a1.90 1.90 0 1 0 -3.80 0M218.57 86.71m-1.90 0a1.90 1.90 0 1 0 3.80 0a1.90 1.90 0 1 0 -3.80 0M219.03 92.52m-1.90 0a1.90 1.90 0 1 0 3.80 0a1.90 1.90 0 1 0 -3.80 0M219.48 94.31m-1.90 0a1.90 1.90 0 1 0 3.80 0a1.90 1.90 0 1 0 -3.80 0M219.94 93.85m-1.90 0a1.90 1.90 0 1 0 3.80 0a1.90 1.90 0 1 0 -3.80 0M220.40 91.65m-1.90 0a1.90 1.90 0 1 0 3.80 0a1.90 1.90 0 1 0 -3.80 0M220.85 86.54m-1.90 0a1.90 1.90 0 1 0 3.80 0a1.90 1.90 0 1 0 -3.80 0M221.31 93.66m-1.90 0a1.90 1.90 0 1 0 3.80 0a1.90 1.90 0 1 0 -3.80 0M221.76 90.55m-1.90 0a1.90 1.90 0 1 0 3.80 0a1.90 1.90 0 1 0 -3.80 0M222.22 83.73m-1.90 0a1.90 1.90 0 1 0 3.80 0a1.90 1.90 0 1 0 -3.80 0M222.68 92.04m-1.90 0a1.90 1.90 0 1 0 3.80 0a1.90 1.90 0 1 0 -3.80 0M223.13 86.68m-1.90 0a1.90 1.90 0 1 0 3.80 0a1.90 1.90 0 1 0 -3.80 0M223.59 87.23m-1.90 0a1.90 1.90 0 1 0 3.80 0a1.90 1.90 0 1 0 -3.80 0M224.04 89.12m-1.90 0a1.90 1.90 0 1 0 3.80 0a1.90 1.90 0 1 0 -3.80 0M224.50 94.60m-1.90 0a1.90 1.90 0 1 0 3.80 0a1.90 1.90 0 1 0 -3.80 0M224.96 89.87m-1.90 0a1.90 1.90 0 1 0 3.80 0a1.90 1.90 0 1 0 -3.80 0M225.41 91.71m-1.90 0a1.90 1.90 0 1 0 3.80 0a1.90 1.90 0 1 0 -3.80 0M225.87 95.97m-1.90 0a1.90 1.90 0 1 0 3.80 0a1.90 1.90 0 1 0 -3.80 0M226.32 95.52m-1.90 0a1.90 1.90 0 1 0 3.80 0a1.90 1.90 0 1 0 -3.80 0M226.78 90.61m-1.90 0a1.90 1.90 0 1 0 3.80 0a1.90 1.90 0 1 0 -3.80 0M227.24 90.21m-1.90 0a1.90 1.90 0 1 0 3.80 0a1.90 1.90 0 1 0 -3.80 0M227.69 87.24m-1.90 0a1.90 1.90 0 1 0 3.80 0a1.90 1.90 0 1 0 -3.80 0M228.15 88.87m-1.90 0a1.90 1.90 0 1 0 3.80 0a1.90 1.90 0 1 0 -3.80 0M228.60 92.12m-1.90 0a1.90 1.90 0 1 0 3.80 0a1.90 1.90 0 1 0 -3.80 0M229.06 92.03m-1.90 0a1.90 1.90 0 1 0 3.80 0a1.90 1.90 0 1 0 -3.80 0M229.52 91.19m-1.90 0a1.90 1.90 0 1 0 3.80 0a1.90 1.90 0 1 0 -3.80 0M229.97 93.77m-1.90 0a1.90 1.90 0 1 0 3.80 0a1.90 1.90 0 1 0 -3.80 0M230.43 88.60m-1.90 0a1.90 1.90 0 1 0 3.80 0a1.90 1.90 0 1 0 -3.80 0M230.88 90.68m-1.90 0a1.90 1.90 0 1 0 3.80 0a1.90 1.90 0 1 0 -3.80 0M231.34 92.98m-1.90 0a1.90 1.90 0 1 0 3.80 0a1.90 1.90 0 1 0 -3.80 0M231.80 92.55m-1.90 0a1.90 1.90 0 1 0 3.80 0a1.90 1.90 0 1 0 -3.80 0M232.25 93.97m-1.90 0a1.90 1.90 0 1 0 3.80 0a1.90 1.90 0 1 0 -3.80 0M232.71 91.98m-1.90 0a1.90 1.90 0 1 0 3.80 0a1.90 1.90 0 1 0 -3.80 0M233.16 89.89m-1.90 0a1.90 1.90 0 1 0 3.80 0a1.90 1.90 0 1 0 -3.80 0M233.62 91.86m-1.90 0a1.90 1.90 0 1 0 3.80 0a1.90 1.90 0 1 0 -3.80 0M234.08 87.82m-1.90 0a1.90 1.90 0 1 0 3.80 0a1.90 1.90 0 1 0 -3.80 0M234.53 85.92m-1.90 0a1.90 1.90 0 1 0 3.80 0a1.90 1.90 0 1 0 -3.80 0M234.99 92.48m-1.90 0a1.90 1.90 0 1 0 3.80 0a1.90 1.90 0 1 0 -3.80 0M235.44 90.58m-1.90 0a1.90 1.90 0 1 0 3.80 0a1.90 1.90 0 1 0 -3.80 0M235.90 91.65m-1.90 0a1.90 1.90 0 1 0 3.80 0a1.90 1.90 0 1 0 -3.80 0M236.36 85.68m-1.90 0a1.90 1.90 0 1 0 3.80 0a1.90 1.90 0 1 0 -3.80 0M236.81 89.62m-1.90 0a1.90 1.90 0 1 0 3.80 0a1.90 1.90 0 1 0 -3.80 0M237.27 88.90m-1.90 0a1.90 1.90 0 1 0 3.80 0a1.90 1.90 0 1 0 -3.80 0M237.72 88.10m-1.90 0a1.90 1.90 0 1 0 3.80 0a1.90 1.90 0 1 0 -3.80 0M238.18 83.93m-1.90 0a1.90 1.90 0 1 0 3.80 0a1.90 1.90 0 1 0 -3.80 0M238.64 89.64m-1.90 0a1.90 1.90 0 1 0 3.80 0a1.90 1.90 0 1 0 -3.80 0M239.09 93.31m-1.90 0a1.90 1.90 0 1 0 3.80 0a1.90 1.90 0 1 0 -3.80 0M239.55 91.74m-1.90 0a1.90 1.90 0 1 0 3.80 0a1.90 1.90 0 1 0 -3.80 0M240.00 88.78m-1.90 0a1.90 1.90 0 1 0 3.80 0a1.90 1.90 0 1 0 -3.80 0M240.46 90.51m-1.90 0a1.90 1.90 0 1 0 3.80 0a1.90 1.90 0 1 0 -3.80 0M240.92 92.74m-1.90 0a1.90 1.90 0 1 0 3.80 0a1.90 1.90 0 1 0 -3.80 0M241.37 82.54m-1.90 0a1.90 1.90 0 1 0 3.80 0a1.90 1.90 0 1 0 -3.80 0M241.83 90.12m-1.90 0a1.90 1.90 0 1 0 3.80 0a1.90 1.90 0 1 0 -3.80 0M242.28 91.97m-1.90 0a1.90 1.90 0 1 0 3.80 0a1.90 1.90 0 1 0 -3.80 0M242.74 92.31m-1.90 0a1.90 1.90 0 1 0 3.80 0a1.90 1.90 0 1 0 -3.80 0M243.20 95.03m-1.90 0a1.90 1.90 0 1 0 3.80 0a1.90 1.90 0 1 0 -3.80 0M243.65 93.40m-1.90 0a1.90 1.90 0 1 0 3.80 0a1.90 1.90 0 1 0 -3.80 0M244.11 91.13m-1.90 0a1.90 1.90 0 1 0 3.80 0a1.90 1.90 0 1 0 -3.80 0M244.56 91.04m-1.90 0a1.90 1.90 0 1 0 3.80 0a1.90 1.90 0 1 0 -3.80 0M245.02 92.23m-1.90 0a1.90 1.90 0 1 0 3.80 0a1.90 1.90 0 1 0 -3.80 0M245.48 88.77m-1.90 0a1.90 1.90 0 1 0 3.80 0a1.90 1.90 0 1 0 -3.80 0M245.93 89.97m-1.90 0a1.90 1.90 0 1 0 3.80 0a1.90 1.90 0 1 0 -3.80 0M246.39 92.22m-1.90 0a1.90 1.90 0 1 0 3.80 0a1.90 1.90 0 1 0 -3.80 0M246.84 94.63m-1.90 0a1.90 1.90 0 1 0 3.80 0a1.90 1.90 0 1 0 -3.80 0M247.30 89.36m-1.90 0a1.90 1.90 0 1 0 3.80 0a1.90 1.90 0 1 0 -3.80 0M247.76 89.45m-1.90 0a1.90 1.90 0 1 0 3.80 0a1.90 1.90 0 1 0 -3.80 0M248.21 89.79m-1.90 0a1.90 1.90 0 1 0 3.80 0a1.90 1.90 0 1 0 -3.80 0M248.67 92.09m-1.90 0a1.90 1.90 0 1 0 3.80 0a1.90 1.90 0 1 0 -3.80 0M249.12 88.57m-1.90 0a1.90 1.90 0 1 0 3.80 0a1.90 1.90 0 1 0 -3.80 0M249.58 91.37m-1.90 0a1.90 1.90 0 1 0 3.80 0a1.90 1.90 0 1 0 -3.80 0M250.04 85.39m-1.90 0a1.90 1.90 0 1 0 3.80 0a1.90 1.90 0 1 0 -3.80 0M250.49 86.26m-1.90 0a1.90 1.90 0 1 0 3.80 0a1.90 1.90 0 1 0 -3.80 0M250.95 85.21m-1.90 0a1.90 1.90 0 1 0 3.80 0a1.90 1.90 0 1 0 -3.80 0M251.40 85.99m-1.90 0a1.90 1.90 0 1 0 3.80 0a1.90 1.90 0 1 0 -3.80 0M251.86 85.00m-1.90 0a1.90 1.90 0 1 0 3.80 0a1.90 1.90 0 1 0 -3.80 0M252.32 78.24m-1.90 0a1.90 1.90 0 1 0 3.80 0a1.90 1.90 0 1 0 -3.80 0M252.77 77.51m-1.90 0a1.90 1.90 0 1 0 3.80 0a1.90 1.90 0 1 0 -3.80 0M253.23 77.67m-1.90 0a1.90 1.90 0 1 0 3.80 0a1.90 1.90 0 1 0 -3.80 0M253.68 73.60m-1.90 0a1.90 1.90 0 1 0 3.80 0a1.90 1.90 0 1 0 -3.80 0M254.14 69.79m-1.90 0a1.90 1.90 0 1 0 3.80 0a1.90 1.90 0 1 0 -3.80 0M254.60 71.41m-1.90 0a1.90 1.90 0 1 0 3.80 0a1.90 1.90 0 1 0 -3.80 0M255.05 68.01m-1.90 0a1.90 1.90 0 1 0 3.80 0a1.90 1.90 0 1 0 -3.80 0M255.51 65.54m-1.90 0a1.90 1.90 0 1 0 3.80 0a1.90 1.90 0 1 0 -3.80 0M255.96 61.88m-1.90 0a1.90 1.90 0 1 0 3.80 0a1.90 1.90 0 1 0 -3.80 0M256.42 61.64m-1.90 0a1.90 1.90 0 1 0 3.80 0a1.90 1.90 0 1 0 -3.80 0M256.88 57.99m-1.90 0a1.90 1.90 0 1 0 3.80 0a1.90 1.90 0 1 0 -3.80 0M257.33 57.48m-1.90 0a1.90 1.90 0 1 0 3.80 0a1.90 1.90 0 1 0 -3.80 0M257.79 53.27m-1.90 0a1.90 1.90 0 1 0 3.80 0a1.90 1.90 0 1 0 -3.80 0M258.24 51.16m-1.90 0a1.90 1.90 0 1 0 3.80 0a1.90 1.90 0 1 0 -3.80 0M258.70 49.81m-1.90 0a1.90 1.90 0 1 0 3.80 0a1.90 1.90 0 1 0 -3.80 0M259.16 46.25m-1.90 0a1.90 1.90 0 1 0 3.80 0a1.90 1.90 0 1 0 -3.80 0M259.61 44.77m-1.90 0a1.90 1.90 0 1 0 3.80 0a1.90 1.90 0 1 0 -3.80 0M260.07 41.39m-1.90 0a1.90 1.90 0 1 0 3.80 0a1.90 1.90 0 1 0 -3.80 0M260.52 37.32m-1.90 0a1.90 1.90 0 1 0 3.80 0a1.90 1.90 0 1 0 -3.80 0M260.98 35.72m-1.90 0a1.90 1.90 0 1 0 3.80 0a1.90 1.90 0 1 0 -3.80 0M261.44 33.27m-1.90 0a1.90 1.90 0 1 0 3.80 0a1.90 1.90 0 1 0 -3.80 0M261.89 33.34m-1.90 0a1.90 1.90 0 1 0 3.80 0a1.90 1.90 0 1 0 -3.80 0M262.35 30.62m-1.90 0a1.90 1.90 0 1 0 3.80 0a1.90 1.90 0 1 0 -3.80 0M262.80 32.32m-1.90 0a1.90 1.90 0 1 0 3.80 0a1.90 1.90 0 1 0 -3.80 0M263.26 36.81m-1.90 0a1.90 1.90 0 1 0 3.80 0a1.90 1.90 0 1 0 -3.80 0M263.72 41.15m-1.90 0a1.90 1.90 0 1 0 3.80 0a1.90 1.90 0 1 0 -3.80 0M264.17 45.06m-1.90 0a1.90 1.90 0 1 0 3.80 0a1.90 1.90 0 1 0 -3.80 0M264.63 47.85m-1.90 0a1.90 1.90 0 1 0 3.80 0a1.90 1.90 0 1 0 -3.80 0M265.08 53.02m-1.90 0a1.90 1.90 0 1 0 3.80 0a1.90 1.90 0 1 0 -3.80 0M265.54 59.42m-1.90 0a1.90 1.90 0 1 0 3.80 0a1.90 1.90 0 1 0 -3.80 0M266.00 62.69m-1.90 0a1.90 1.90 0 1 0 3.80 0a1.90 1.90 0 1 0 -3.80 0M266.45 66.34m-1.90 0a1.90 1.90 0 1 0 3.80 0a1.90 1.90 0 1 0 -3.80 0M266.91 71.74m-1.90 0a1.90 1.90 0 1 0 3.80 0a1.90 1.90 0 1 0 -3.80 0M267.36 75.86m-1.90 0a1.90 1.90 0 1 0 3.80 0a1.90 1.90 0 1 0 -3.80 0M267.82 77.22m-1.90 0a1.90 1.90 0 1 0 3.80 0a1.90 1.90 0 1 0 -3.80 0M268.28 78.49m-1.90 0a1.90 1.90 0 1 0 3.80 0a1.90 1.90 0 1 0 -3.80 0M268.73 80.78m-1.90 0a1.90 1.90 0 1 0 3.80 0a1.90 1.90 0 1 0 -3.80 0M269.19 85.97m-1.90 0a1.90 1.90 0 1 0 3.80 0a1.90 1.90 0 1 0 -3.80 0M269.64 84.72m-1.90 0a1.90 1.90 0 1 0 3.80 0a1.90 1.90 0 1 0 -3.80 0M270.10 86.84m-1.90 0a1.90 1.90 0 1 0 3.80 0a1.90 1.90 0 1 0 -3.80 0M270.56 88.31m-1.90 0a1.90 1.90 0 1 0 3.80 0a1.90 1.90 0 1 0 -3.80 0M271.01 89.78m-1.90 0a1.90 1.90 0 1 0 3.80 0a1.90 1.90 0 1 0 -3.80 0M271.47 88.09m-1.90 0a1.90 1.90 0 1 0 3.80 0a1.90 1.90 0 1 0 -3.80 0M271.92 90.35m-1.90 0a1.90 1.90 0 1 0 3.80 0a1.90 1.90 0 1 0 -3.80 0M272.38 87.25m-1.90 0a1.90 1.90 0 1 0 3.80 0a1.90 1.90 0 1 0 -3.80 0M272.84 88.69m-1.90 0a1.90 1.90 0 1 0 3.80 0a1.90 1.90 0 1 0 -3.80 0M273.29 87.22m-1.90 0a1.90 1.90 0 1 0 3.80 0a1.90 1.90 0 1 0 -3.80 0M273.75 92.57m-1.90 0a1.90 1.90 0 1 0 3.80 0a1.90 1.90 0 1 0 -3.80 0M274.20 89.84m-1.90 0a1.90 1.90 0 1 0 3.80 0a1.90 1.90 0 1 0 -3.80 0M274.66 88.17m-1.90 0a1.90 1.90 0 1 0 3.80 0a1.90 1.90 0 1 0 -3.80 0M275.12 89.19m-1.90 0a1.90 1.90 0 1 0 3.80 0a1.90 1.90 0 1 0 -3.80 0M275.57 89.57m-1.90 0a1.90 1.90 0 1 0 3.80 0a1.90 1.90 0 1 0 -3.80 0M276.03 91.91m-1.90 0a1.90 1.90 0 1 0 3.80 0a1.90 1.90 0 1 0 -3.80 0M276.48 86.24m-1.90 0a1.90 1.90 0 1 0 3.80 0a1.90 1.90 0 1 0 -3.80 0M276.94 87.67m-1.90 0a1.90 1.90 0 1 0 3.80 0a1.90 1.90 0 1 0 -3.80 0M277.40 89.35m-1.90 0a1.90 1.90 0 1 0 3.80 0a1.90 1.90 0 1 0 -3.80 0M277.85 96.71m-1.90 0a1.90 1.90 0 1 0 3.80 0a1.90 1.90 0 1 0 -3.80 0M278.31 92.79m-1.90 0a1.90 1.90 0 1 0 3.80 0a1.90 1.90 0 1 0 -3.80 0M278.76 90.12m-1.90 0a1.90 1.90 0 1 0 3.80 0a1.90 1.90 0 1 0 -3.80 0M279.22 92.25m-1.90 0a1.90 1.90 0 1 0 3.80 0a1.90 1.90 0 1 0 -3.80 0M279.68 95.71m-1.90 0a1.90 1.90 0 1 0 3.80 0a1.90 1.90 0 1 0 -3.80 0M280.13 89.89m-1.90 0a1.90 1.90 0 1 0 3.80 0a1.90 1.90 0 1 0 -3.80 0M280.59 89.57m-1.90 0a1.90 1.90 0 1 0 3.80 0a1.90 1.90 0 1 0 -3.80 0M281.04 93.66m-1.90 0a1.90 1.90 0 1 0 3.80 0a1.90 1.90 0 1 0 -3.80 0M281.50 91.83m-1.90 0a1.90 1.90 0 1 0 3.80 0a1.90 1.90 0 1 0 -3.80 0" fill="none" stroke="#b8090e" stroke-width="1.10"/>
<path d="M190.30 91.20L190.76 91.20L191.21 91.20L191.67 91.19L192.12 91.19L192.58 91.19L193.04 91.19L193.49 91.19L193.95 91.19L194.40 91.19L194.86 91.18L195.32 91.18L195.77 91.18L196.23 91.18L196.68 91.18L197.14 91.18L197.60 91.17L198.05 91.17L198.51 91.17L198.96 91.17L199.42 91.17L199.88 91.17L200.33 91.17L200.79 91.16L201.24 91.16L201.70 91.16L202.16 91.16L202.61 91.16L203.07 91.16L203.52 91.15L203.98 91.15L204.44 91.15L204.89 91.15L205.35 91.15L205.80 91.15L206.26 91.15L206.72 91.14L207.17 91.14L207.63 91.14L208.08 91.14L208.54 91.14L209.00 91.14L209.45 91.14L209.91 91.13L210.36 91.13L210.82 91.13L211.28 91.13L211.73 91.13L212.19 91.13L212.64 91.12L213.10 91.12L213.56 91.12L214.01 91.12L214.47 91.12L214.92 91.12L215.38 91.12L215.84 91.11L216.29 91.11L216.75 91.11L217.20 91.11L217.66 91.11L218.12 91.11L218.57 91.10L219.03 91.10L219.48 91.10L219.94 91.10L220.40 91.10L220.85 91.10L221.31 91.10L221.76 91.09L222.22 91.09L222.68 91.09L223.13 91.09L223.59 91.09L224.04 91.09L224.50 91.09L224.96 91.08L225.41 91.08L225.87 91.08L226.32 91.08L226.78 91.08L227.24 91.08L227.69 91.07L228.15 91.07L228.60 91.07L229.06 91.07L229.52 91.07L229.97 91.07L230.43 91.07L230.88 91.06L231.34 91.06L231.80 91.06L232.25 91.06L232.71 91.06L233.16 91.06L233.62 91.05L234.08 91.05L234.53 91.05L234.99 91.05L235.44 91.05L235.90 91.05L236.36 91.05L236.81 91.04L237.27 91.04L237.72 91.04L238.18 91.04L238.64 91.04L239.09 91.04L239.55 91.03L240.00 91.03L240.46 91.03L240.92 91.03L241.37 91.03L241.83 91.03L242.28 91.03L242.74 91.02L243.20 91.02L243.65 91.02L244.11 91.02L244.56 91.02L245.02 91.02L245.48 91.02L245.93 91.01L246.39 91.01L246.84 91.01L247.30 91.01L247.76 91.01L248.21 91.01L248.67 91.00L249.12 91.00L249.58 91.00L250.04 91.00L250.49 91.00L250.95 91.00L251.40 91.00L251.86 91.00L252.32 91.00L252.77 91.00L253.23 91.00L253.68 91.00L254.14 91.00L254.60 91.00L255.05 91.00L255.51 91.00L255.96 91.00L256.42 91.00L256.88 91.00L257.33 91.00L257.79 91.00L258.24 91.00L258.70 91.00L259.16 91.00L259.61 91.00L260.07 91.00L260.52 91.00L260.98 91.00L261.44 91.00L261.89 91.00L262.35 91.00L262.80 91.00L263.26 91.00L263.72 91.00L264.17 91.00L264.63 91.00L265.08 91.00L265.54 91.00L266.00 91.00L266.45 91.00L266.91 91.00L267.36 91.00L267.82 91.00L268.28 91.00L268.73 91.00L269.19 91.00L269.64 91.00L270.10 91.00L270.56 91.00L271.01 91.00L271.47 91.00L271.92 91.00L272.38 91.00L272.84 91.00L273.29 91.00L273.75 91.00L274.20 91.00L274.66 91.00L275.12 91.00L275.57 91.00L276.03 91.00L276.48 91.00L276.94 91.00L277.40 91.00L277.85 91.00L278.31 91.00L278.76 91.00L279.22 91.00L279.68 91.00L280.13 91.00L280.59 91.00L281.04 91.00L281.50 91.00" fill="none" stroke="#ec8088" stroke-width="0.80" stroke-linejoin="round"/>
<path d="M190.30 91.17L190.76 91.17L191.21 91.17L191.67 91.17L192.12 91.17L192.58 91.16L193.04 91.16L193.49 91.16L193.95 91.16L194.40 91.16L194.86 91.15L195.32 91.15L195.77 91.15L196.23 91.15L196.68 91.15L197.14 91.14L197.60 91.14L198.05 91.14L198.51 91.14L198.96 91.14L199.42 91.13L199.88 91.13L200.33 91.13L200.79 91.13L201.24 91.13L201.70 91.12L202.16 91.12L202.61 91.12L203.07 91.12L203.52 91.12L203.98 91.11L204.44 91.11L204.89 91.11L205.35 91.11L205.80 91.11L206.26 91.10L206.72 91.10L207.17 91.10L207.63 91.10L208.08 91.09L208.54 91.09L209.00 91.09L209.45 91.09L209.91 91.09L210.36 91.08L210.82 91.08L211.28 91.08L211.73 91.08L212.19 91.07L212.64 91.07L213.10 91.07L213.56 91.07L214.01 91.06L214.47 91.06L214.92 91.06L215.38 91.06L215.84 91.05L216.29 91.05L216.75 91.05L217.20 91.04L217.66 91.04L218.12 91.04L218.57 91.04L219.03 91.03L219.48 91.03L219.94 91.03L220.40 91.02L220.85 91.02L221.31 91.02L221.76 91.01L222.22 91.01L222.68 91.01L223.13 91.00L223.59 91.00L224.04 91.00L224.50 90.99L224.96 90.99L225.41 90.98L225.87 90.98L226.32 90.98L226.78 90.97L227.24 90.97L227.69 90.96L228.15 90.96L228.60 90.96L229.06 90.95L229.52 90.95L229.97 90.94L230.43 90.94L230.88 90.93L231.34 90.93L231.80 90.92L232.25 90.91L232.71 90.91L233.16 90.90L233.62 90.90L234.08 90.89L234.53 90.88L234.99 90.87L235.44 90.87L235.90 90.86L236.36 90.85L236.81 90.84L237.27 90.83L237.72 90.83L238.18 90.82L238.64 90.81L239.09 90.80L239.55 90.78L240.00 90.77L240.46 90.76L240.92 90.75L241.37 90.73L241.83 90.72L242.28 90.71L242.74 90.69L243.20 90.67L243.65 90.65L244.11 90.64L244.56 90.61L245.02 90.59L245.48 90.57L245.93 90.54L246.39 90.52L246.84 90.49L247.30 90.46L247.76 90.42L248.21 90.38L248.67 90.34L249.12 90.30L249.58 90.25L250.04 90.19L250.49 90.13L250.95 90.05L251.40 89.96L251.86 89.85L252.32 89.71L252.77 89.53L253.23 89.29L253.68 88.96L254.14 88.52L254.60 87.91L255.05 87.10L255.51 86.03L255.96 84.63L256.42 82.83L256.88 80.58L257.33 77.83L257.79 74.56L258.24 70.77L258.70 66.52L259.16 61.88L259.61 57.01L260.07 52.10L260.52 47.38L260.98 43.14L261.44 39.66L261.89 37.23L262.35 36.08L262.80 36.31L263.26 37.91L263.72 40.72L264.17 44.48L264.63 48.91L265.08 53.72L265.54 58.65L266.00 63.46L266.45 67.98L266.91 72.09L267.36 75.71L267.82 78.81L268.28 81.38L268.73 83.48L269.19 85.13L269.64 86.42L270.10 87.40L270.56 88.13L271.01 88.68L271.47 89.08L271.92 89.38L272.38 89.60L272.84 89.76L273.29 89.89L273.75 89.99L274.20 90.08L274.66 90.15L275.12 90.21L275.57 90.26L276.03 90.31L276.48 90.35L276.94 90.39L277.40 90.42L277.85 90.46L278.31 90.49L278.76 90.51L279.22 90.54L279.68 90.56L280.13 90.58L280.59 90.60L281.04 90.62L281.50 90.64" fill="none" stroke="#16e016" stroke-width="1.40" stroke-linejoin="round"/>
<path d="M190.30 91.19L190.76 91.18L191.21 91.18L191.67 91.18L192.12 91.18L192.58 91.18L193.04 91.18L193.49 91.17L193.95 91.17L194.40 91.17L194.86 91.17L195.32 91.17L195.77 91.17L196.23 91.16L196.68 91.16L197.14 91.16L197.60 91.16L198.05 91.16L198.51 91.16L198.96 91.15L199.42 91.15L199.88 91.15L200.33 91.15L200.79 91.15L201.24 91.14L201.70 91.14L202.16 91.14L202.61 91.14L203.07 91.14L203.52 91.14L203.98 91.13L204.44 91.13L204.89 91.13L205.35 91.13L205.80 91.13L206.26 91.12L206.72 91.12L207.17 91.12L207.63 91.12L208.08 91.12L208.54 91.11L209.00 91.11L209.45 91.11L209.91 91.11L210.36 91.11L210.82 91.10L211.28 91.10L211.73 91.10L212.19 91.10L212.64 91.10L213.10 91.09L213.56 91.09L214.01 91.09L214.47 91.09L214.92 91.09L215.38 91.08L215.84 91.08L216.29 91.08L216.75 91.08L217.20 91.07L217.66 91.07L218.12 91.07L218.57 91.07L219.03 91.06L219.48 91.06L219.94 91.06L220.40 91.06L220.85 91.05L221.31 91.05L221.76 91.05L222.22 91.05L222.68 91.04L223.13 91.04L223.59 91.04L224.04 91.03L224.50 91.03L224.96 91.03L225.41 91.03L225.87 91.02L226.32 91.02L226.78 91.02L227.24 91.01L227.69 91.01L228.15 91.01L228.60 91.00L229.06 91.00L229.52 90.99L229.97 90.99L230.43 90.99L230.88 90.98L231.34 90.98L231.80 90.97L232.25 90.97L232.71 90.96L233.16 90.96L233.62 90.95L234.08 90.95L234.53 90.94L234.99 90.93L235.44 90.93L235.90 90.92L236.36 90.91L236.81 90.91L237.27 90.90L237.72 90.89L238.18 90.88L238.64 90.87L239.09 90.86L239.55 90.85L240.00 90.84L240.46 90.83L240.92 90.81L241.37 90.80L241.83 90.78L242.28 90.77L242.74 90.75L243.20 90.73L243.65 90.71L244.11 90.68L244.56 90.66L245.02 90.62L245.48 90.58L245.93 90.54L246.39 90.48L246.84 90.40L247.30 90.29L247.76 90.15L248.21 89.96L248.67 89.70L249.12 89.35L249.58 88.89L250.04 88.29L250.49 87.52L250.95 86.57L251.40 85.42L251.86 84.04L252.32 82.46L252.77 80.69L253.23 78.78L253.68 76.78L254.14 74.77L254.60 72.87L255.05 71.17L255.51 69.81L255.96 68.89L256.42 68.51L256.88 68.69L257.33 69.43L257.79 70.65L258.24 72.24L258.70 74.09L259.16 76.07L259.61 78.08L260.07 80.03L260.52 81.86L260.98 83.51L261.44 84.96L261.89 86.19L262.35 87.21L262.80 88.04L263.26 88.69L263.72 89.20L264.17 89.58L264.63 89.87L265.08 90.08L265.54 90.24L266.00 90.35L266.45 90.44L266.91 90.50L267.36 90.55L267.82 90.59L268.28 90.63L268.73 90.66L269.19 90.68L269.64 90.70L270.10 90.72L270.56 90.74L271.01 90.75L271.47 90.77L271.92 90.78L272.38 90.79L272.84 90.80L273.29 90.81L273.75 90.82L274.20 90.83L274.66 90.84L275.12 90.85L275.57 90.85L276.03 90.86L276.48 90.87L276.94 90.87L277.40 90.88L277.85 90.88L278.31 90.89L278.76 90.89L279.22 90.90L279.68 90.90L280.13 90.90L280.59 90.91L281.04 90.91L281.50 90.91" fill="none" stroke="#2a2ac8" stroke-width="1.40" stroke-linejoin="round"/>
<path d="M190.30 91.16L190.76 91.16L191.21 91.16L191.67 91.15L192.12 91.15L192.58 91.15L193.04 91.15L193.49 91.15L193.95 91.14L194.40 91.14L194.86 91.14L195.32 91.14L195.77 91.14L196.23 91.13L196.68 91.13L197.14 91.13L197.60 91.13L198.05 91.12L198.51 91.12L198.96 91.12L199.42 91.12L199.88 91.12L200.33 91.11L200.79 91.11L201.24 91.11L201.70 91.11L202.16 91.10L202.61 91.10L203.07 91.10L203.52 91.10L203.98 91.09L204.44 91.09L204.89 91.09L205.35 91.09L205.80 91.08L206.26 91.08L206.72 91.08L207.17 91.08L207.63 91.07L208.08 91.07L208.54 91.07L209.00 91.07L209.45 91.06L209.91 91.06L210.36 91.06L210.82 91.05L211.28 91.05L211.73 91.05L212.19 91.05L212.64 91.04L213.10 91.04L213.56 91.04L214.01 91.03L214.47 91.03L214.92 91.03L215.38 91.02L215.84 91.02L216.29 91.02L216.75 91.01L217.20 91.01L217.66 91.00L218.12 91.00L218.57 91.00L219.03 90.99L219.48 90.99L219.94 90.99L220.40 90.98L220.85 90.98L221.31 90.97L221.76 90.97L222.22 90.96L222.68 90.96L223.13 90.95L223.59 90.95L224.04 90.94L224.50 90.94L224.96 90.93L225.41 90.93L225.87 90.92L226.32 90.92L226.78 90.91L227.24 90.91L227.69 90.90L228.15 90.89L228.60 90.89L229.06 90.88L229.52 90.87L229.97 90.86L230.43 90.86L230.88 90.85L231.34 90.84L231.80 90.83L232.25 90.82L232.71 90.81L233.16 90.80L233.62 90.79L234.08 90.78L234.53 90.77L234.99 90.76L235.44 90.75L235.90 90.73L236.36 90.72L236.81 90.71L237.27 90.69L237.72 90.67L238.18 90.66L238.64 90.64L239.09 90.62L239.55 90.60L240.00 90.58L240.46 90.56L240.92 90.53L241.37 90.51L241.83 90.48L242.28 90.45L242.74 90.42L243.20 90.38L243.65 90.34L244.11 90.30L244.56 90.25L245.02 90.20L245.48 90.14L245.93 90.07L246.39 89.98L246.84 89.87L247.30 89.74L247.76 89.56L248.21 89.33L248.67 89.03L249.12 88.64L249.58 88.13L250.04 87.48L250.49 86.65L250.95 85.63L251.40 84.38L251.86 82.90L252.32 81.18L252.77 79.22L253.23 77.07L253.68 74.74L254.14 72.29L254.60 69.78L255.05 67.27L255.51 64.84L255.96 62.52L256.42 60.34L256.88 58.28L257.33 56.27L257.79 54.21L258.24 52.01L258.70 49.60L259.16 46.95L259.61 44.09L260.07 41.13L260.52 38.24L260.98 35.65L261.44 33.62L261.89 32.43L262.35 32.29L262.80 33.35L263.26 35.60L263.72 38.91L264.17 43.06L264.63 47.78L265.08 52.80L265.54 57.88L266.00 62.81L266.45 67.42L266.91 71.60L267.36 75.27L267.82 78.40L268.28 81.01L268.73 83.13L269.19 84.81L269.64 86.12L270.10 87.12L270.56 87.87L271.01 88.43L271.47 88.85L271.92 89.16L272.38 89.39L272.84 89.57L273.29 89.71L273.75 89.82L274.20 89.91L274.66 89.99L275.12 90.05L275.57 90.11L276.03 90.17L276.48 90.22L276.94 90.26L277.40 90.30L277.85 90.34L278.31 90.37L278.76 90.40L279.22 90.43L279.68 90.46L280.13 90.49L280.59 90.51L281.04 90.53L281.50 90.55" fill="none" stroke="#19e3e8" stroke-width="1.40" stroke-linejoin="round"/>
<circle cx="195.40" cy="31.00" r="1.95" fill="none" stroke="#b8090e" stroke-width="1.3"/>
<text transform="translate(204.10 33.20) scale(1 1.06)" font-size="6.1" fill="#1a1a1a" stroke="#1a1a1a" stroke-width="0.1">Experiment</text>
<path d="M188.60 38.35H202.20" stroke="#ec8088" stroke-width="0.80"/>
<text transform="translate(204.10 40.55) scale(1 1.06)" font-size="6.1" fill="#1a1a1a" stroke="#1a1a1a" stroke-width="0.1">Background</text>
<path d="M188.60 45.70H202.20" stroke="#16e016" stroke-width="1.50"/>
<text transform="translate(204.10 47.90) scale(1 1.06)" font-size="6.1" fill="#1a1a1a" stroke="#1a1a1a" stroke-width="0.1">S2p<tspan font-size="3.9" dy="2.0">3/2</tspan></text>
<path d="M188.60 53.05H202.20" stroke="#2a2ac8" stroke-width="1.50"/>
<text transform="translate(204.10 55.25) scale(1 1.06)" font-size="6.1" fill="#1a1a1a" stroke="#1a1a1a" stroke-width="0.1">S2p<tspan font-size="3.9" dy="2.0">1/2</tspan></text>
<path d="M188.60 60.40H202.20" stroke="#19e3e8" stroke-width="1.50"/>
<text transform="translate(204.10 62.60) scale(1 1.06)" font-size="6.1" fill="#1a1a1a" stroke="#1a1a1a" stroke-width="0.1">Sum</text>
<path d="M190.30 187.35m-1.90 0a1.90 1.90 0 1 0 3.80 0a1.90 1.90 0 1 0 -3.80 0M190.76 185.80m-1.90 0a1.90 1.90 0 1 0 3.80 0a1.90 1.90 0 1 0 -3.80 0M191.21 188.99m-1.90 0a1.90 1.90 0 1 0 3.80 0a1.90 1.90 0 1 0 -3.80 0M191.67 188.71m-1.90 0a1.90 1.90 0 1 0 3.80 0a1.90 1.90 0 1 0 -3.80 0M192.12 187.20m-1.90 0a1.90 1.90 0 1 0 3.80 0a1.90 1.90 0 1 0 -3.80 0M192.58 187.36m-1.90 0a1.90 1.90 0 1 0 3.80 0a1.90 1.90 0 1 0 -3.80 0M193.04 183.76m-1.90 0a1.90 1.90 0 1 0 3.80 0a1.90 1.90 0 1 0 -3.80 0M193.49 187.29m-1.90 0a1.90 1.90 0 1 0 3.80 0a1.90 1.90 0 1 0 -3.80 0M193.95 186.18m-1.90 0a1.90 1.90 0 1 0 3.80 0a1.90 1.90 0 1 0 -3.80 0M194.40 187.02m-1.90 0a1.90 1.90 0 1 0 3.80 0a1.90 1.90 0 1 0 -3.80 0M194.86 187.35m-1.90 0a1.90 1.90 0 1 0 3.80 0a1.90 1.90 0 1 0 -3.80 0M195.32 185.97m-1.90 0a1.90 1.90 0 1 0 3.80 0a1.90 1.90 0 1 0 -3.80 0M195.77 184.14m-1.90 0a1.90 1.90 0 1 0 3.80 0a1.90 1.90 0 1 0 -3.80 0M196.23 186.92m-1.90 0a1.90 1.90 0 1 0 3.80 0a1.90 1.90 0 1 0 -3.80 0M196.68 185.40m-1.90 0a1.90 1.90 0 1 0 3.80 0a1.90 1.90 0 1 0 -3.80 0M197.14 185.95m-1.90 0a1.90 1.90 0 1 0 3.80 0a1.90 1.90 0 1 0 -3.80 0M197.60 185.57m-1.90 0a1.90 1.90 0 1 0 3.80 0a1.90 1.90 0 1 0 -3.80 0M198.05 185.92m-1.90 0a1.90 1.90 0 1 0 3.80 0a1.90 1.90 0 1 0 -3.80 0M198.51 183.20m-1.90 0a1.90 1.90 0 1 0 3.80 0a1.90 1.90 0 1 0 -3.80 0M198.96 188.06m-1.90 0a1.90 1.90 0 1 0 3.80 0a1.90 1.90 0 1 0 -3.80 0M199.42 186.72m-1.90 0a1.90 1.90 0 1 0 3.80 0a1.90 1.90 0 1 0 -3.80 0M199.88 187.91m-1.90 0a1.90 1.90 0 1 0 3.80 0a1.90 1.90 0 1 0 -3.80 0M200.33 189.11m-1.90 0a1.90 1.90 0 1 0 3.80 0a1.90 1.90 0 1 0 -3.80 0M200.79 186.38m-1.90 0a1.90 1.90 0 1 0 3.80 0a1.90 1.90 0 1 0 -3.80 0M201.24 183.81m-1.90 0a1.90 1.90 0 1 0 3.80 0a1.90 1.90 0 1 0 -3.80 0M201.70 185.07m-1.90 0a1.90 1.90 0 1 0 3.80 0a1.90 1.90 0 1 0 -3.80 0M202.16 184.61m-1.90 0a1.90 1.90 0 1 0 3.80 0a1.90 1.90 0 1 0 -3.80 0M202.61 185.59m-1.90 0a1.90 1.90 0 1 0 3.80 0a1.90 1.90 0 1 0 -3.80 0M203.07 186.40m-1.90 0a1.90 1.90 0 1 0 3.80 0a1.90 1.90 0 1 0 -3.80 0M203.52 183.43m-1.90 0a1.90 1.90 0 1 0 3.80 0a1.90 1.90 0 1 0 -3.80 0M203.98 186.75m-1.90 0a1.90 1.90 0 1 0 3.80 0a1.90 1.90 0 1 0 -3.80 0M204.44 184.09m-1.90 0a1.90 1.90 0 1 0 3.80 0a1.90 1.90 0 1 0 -3.80 0M204.89 186.66m-1.90 0a1.90 1.90 0 1 0 3.80 0a1.90 1.90 0 1 0 -3.80 0M205.35 186.06m-1.90 0a1.90 1.90 0 1 0 3.80 0a1.90 1.90 0 1 0 -3.80 0M205.80 185.75m-1.90 0a1.90 1.90 0 1 0 3.80 0a1.90 1.90 0 1 0 -3.80 0M206.26 186.07m-1.90 0a1.90 1.90 0 1 0 3.80 0a1.90 1.90 0 1 0 -3.80 0M206.72 185.38m-1.90 0a1.90 1.90 0 1 0 3.80 0a1.90 1.90 0 1 0 -3.80 0M207.17 185.25m-1.90 0a1.90 1.90 0 1 0 3.80 0a1.90 1.90 0 1 0 -3.80 0M207.63 183.66m-1.90 0a1.90 1.90 0 1 0 3.80 0a1.90 1.90 0 1 0 -3.80 0M208.08 186.04m-1.90 0a1.90 1.90 0 1 0 3.80 0a1.90 1.90 0 1 0 -3.80 0M208.54 188.77m-1.90 0a1.90 1.90 0 1 0 3.80 0a1.90 1.90 0 1 0 -3.80 0M209.00 188.94m-1.90 0a1.90 1.90 0 1 0 3.80 0a1.90 1.90 0 1 0 -3.80 0M209.45 187.95m-1.90 0a1.90 1.90 0 1 0 3.80 0a1.90 1.90 0 1 0 -3.80 0M209.91 187.00m-1.90 0a1.90 1.90 0 1 0 3.80 0a1.90 1.90 0 1 0 -3.80 0M210.36 184.91m-1.90 0a1.90 1.90 0 1 0 3.80 0a1.90 1.90 0 1 0 -3.80 0M210.82 188.02m-1.90 0a1.90 1.90 0 1 0 3.80 0a1.90 1.90 0 1 0 -3.80 0M211.28 185.74m-1.90 0a1.90 1.90 0 1 0 3.80 0a1.90 1.90 0 1 0 -3.80 0M211.73 185.67m-1.90 0a1.90 1.90 0 1 0 3.80 0a1.90 1.90 0 1 0 -3.80 0M212.19 185.28m-1.90 0a1.90 1.90 0 1 0 3.80 0a1.90 1.90 0 1 0 -3.80 0M212.64 185.77m-1.90 0a1.90 1.90 0 1 0 3.80 0a1.90 1.90 0 1 0 -3.80 0M213.10 184.94m-1.90 0a1.90 1.90 0 1 0 3.80 0a1.90 1.90 0 1 0 -3.80 0M213.56 185.35m-1.90 0a1.90 1.90 0 1 0 3.80 0a1.90 1.90 0 1 0 -3.80 0M214.01 183.91m-1.90 0a1.90 1.90 0 1 0 3.80 0a1.90 1.90 0 1 0 -3.80 0M214.47 184.73m-1.90 0a1.90 1.90 0 1 0 3.80 0a1.90 1.90 0 1 0 -3.80 0M214.92 187.90m-1.90 0a1.90 1.90 0 1 0 3.80 0a1.90 1.90 0 1 0 -3.80 0M215.38 184.73m-1.90 0a1.90 1.90 0 1 0 3.80 0a1.90 1.90 0 1 0 -3.80 0M215.84 184.24m-1.90 0a1.90 1.90 0 1 0 3.80 0a1.90 1.90 0 1 0 -3.80 0M216.29 184.74m-1.90 0a1.90 1.90 0 1 0 3.80 0a1.90 1.90 0 1 0 -3.80 0M216.75 184.40m-1.90 0a1.90 1.90 0 1 0 3.80 0a1.90 1.90 0 1 0 -3.80 0M217.20 181.76m-1.90 0a1.90 1.90 0 1 0 3.80 0a1.90 1.90 0 1 0 -3.80 0M217.66 181.85m-1.90 0a1.90 1.90 0 1 0 3.80 0a1.90 1.90 0 1 0 -3.80 0M218.12 181.85m-1.90 0a1.90 1.90 0 1 0 3.80 0a1.90 1.90 0 1 0 -3.80 0M218.57 179.78m-1.90 0a1.90 1.90 0 1 0 3.80 0a1.90 1.90 0 1 0 -3.80 0M219.03 177.88m-1.90 0a1.90 1.90 0 1 0 3.80 0a1.90 1.90 0 1 0 -3.80 0M219.48 177.18m-1.90 0a1.90 1.90 0 1 0 3.80 0a1.90 1.90 0 1 0 -3.80 0M219.94 172.44m-1.90 0a1.90 1.90 0 1 0 3.80 0a1.90 1.90 0 1 0 -3.80 0M220.40 170.31m-1.90 0a1.90 1.90 0 1 0 3.80 0a1.90 1.90 0 1 0 -3.80 0M220.85 166.44m-1.90 0a1.90 1.90 0 1 0 3.80 0a1.90 1.90 0 1 0 -3.80 0M221.31 164.87m-1.90 0a1.90 1.90 0 1 0 3.80 0a1.90 1.90 0 1 0 -3.80 0M221.76 157.58m-1.90 0a1.90 1.90 0 1 0 3.80 0a1.90 1.90 0 1 0 -3.80 0M222.22 154.85m-1.90 0a1.90 1.90 0 1 0 3.80 0a1.90 1.90 0 1 0 -3.80 0M222.68 150.91m-1.90 0a1.90 1.90 0 1 0 3.80 0a1.90 1.90 0 1 0 -3.80 0M223.13 148.07m-1.90 0a1.90 1.90 0 1 0 3.80 0a1.90 1.90 0 1 0 -3.80 0M223.59 144.13m-1.90 0a1.90 1.90 0 1 0 3.80 0a1.90 1.90 0 1 0 -3.80 0M224.04 141.31m-1.90 0a1.90 1.90 0 1 0 3.80 0a1.90 1.90 0 1 0 -3.80 0M224.50 135.09m-1.90 0a1.90 1.90 0 1 0 3.80 0a1.90 1.90 0 1 0 -3.80 0M224.96 134.47m-1.90 0a1.90 1.90 0 1 0 3.80 0a1.90 1.90 0 1 0 -3.80 0M225.41 130.78m-1.90 0a1.90 1.90 0 1 0 3.80 0a1.90 1.90 0 1 0 -3.80 0M225.87 128.06m-1.90 0a1.90 1.90 0 1 0 3.80 0a1.90 1.90 0 1 0 -3.80 0M226.32 127.29m-1.90 0a1.90 1.90 0 1 0 3.80 0a1.90 1.90 0 1 0 -3.80 0M226.78 124.39m-1.90 0a1.90 1.90 0 1 0 3.80 0a1.90 1.90 0 1 0 -3.80 0M227.24 122.51m-1.90 0a1.90 1.90 0 1 0 3.80 0a1.90 1.90 0 1 0 -3.80 0M227.69 124.38m-1.90 0a1.90 1.90 0 1 0 3.80 0a1.90 1.90 0 1 0 -3.80 0M228.15 124.50m-1.90 0a1.90 1.90 0 1 0 3.80 0a1.90 1.90 0 1 0 -3.80 0M228.60 128.26m-1.90 0a1.90 1.90 0 1 0 3.80 0a1.90 1.90 0 1 0 -3.80 0M229.06 133.76m-1.90 0a1.90 1.90 0 1 0 3.80 0a1.90 1.90 0 1 0 -3.80 0M229.52 139.29m-1.90 0a1.90 1.90 0 1 0 3.80 0a1.90 1.90 0 1 0 -3.80 0M229.97 146.70m-1.90 0a1.90 1.90 0 1 0 3.80 0a1.90 1.90 0 1 0 -3.80 0M230.43 151.11m-1.90 0a1.90 1.90 0 1 0 3.80 0a1.90 1.90 0 1 0 -3.80 0M230.88 155.62m-1.90 0a1.90 1.90 0 1 0 3.80 0a1.90 1.90 0 1 0 -3.80 0M231.34 161.60m-1.90 0a1.90 1.90 0 1 0 3.80 0a1.90 1.90 0 1 0 -3.80 0M231.80 165.85m-1.90 0a1.90 1.90 0 1 0 3.80 0a1.90 1.90 0 1 0 -3.80 0M232.25 169.12m-1.90 0a1.90 1.90 0 1 0 3.80 0a1.90 1.90 0 1 0 -3.80 0M232.71 173.54m-1.90 0a1.90 1.90 0 1 0 3.80 0a1.90 1.90 0 1 0 -3.80 0M233.16 174.51m-1.90 0a1.90 1.90 0 1 0 3.80 0a1.90 1.90 0 1 0 -3.80 0M233.62 174.65m-1.90 0a1.90 1.90 0 1 0 3.80 0a1.90 1.90 0 1 0 -3.80 0M234.08 178.35m-1.90 0a1.90 1.90 0 1 0 3.80 0a1.90 1.90 0 1 0 -3.80 0M234.53 178.21m-1.90 0a1.90 1.90 0 1 0 3.80 0a1.90 1.90 0 1 0 -3.80 0M234.99 179.16m-1.90 0a1.90 1.90 0 1 0 3.80 0a1.90 1.90 0 1 0 -3.80 0M235.44 179.19m-1.90 0a1.90 1.90 0 1 0 3.80 0a1.90 1.90 0 1 0 -3.80 0M235.90 180.01m-1.90 0a1.90 1.90 0 1 0 3.80 0a1.90 1.90 0 1 0 -3.80 0M236.36 179.44m-1.90 0a1.90 1.90 0 1 0 3.80 0a1.90 1.90 0 1 0 -3.80 0M236.81 181.08m-1.90 0a1.90 1.90 0 1 0 3.80 0a1.90 1.90 0 1 0 -3.80 0M237.27 180.13m-1.90 0a1.90 1.90 0 1 0 3.80 0a1.90 1.90 0 1 0 -3.80 0M237.72 180.16m-1.90 0a1.90 1.90 0 1 0 3.80 0a1.90 1.90 0 1 0 -3.80 0M238.18 180.24m-1.90 0a1.90 1.90 0 1 0 3.80 0a1.90 1.90 0 1 0 -3.80 0M238.64 177.57m-1.90 0a1.90 1.90 0 1 0 3.80 0a1.90 1.90 0 1 0 -3.80 0M239.09 179.48m-1.90 0a1.90 1.90 0 1 0 3.80 0a1.90 1.90 0 1 0 -3.80 0M239.55 179.35m-1.90 0a1.90 1.90 0 1 0 3.80 0a1.90 1.90 0 1 0 -3.80 0M240.00 180.11m-1.90 0a1.90 1.90 0 1 0 3.80 0a1.90 1.90 0 1 0 -3.80 0M240.46 177.62m-1.90 0a1.90 1.90 0 1 0 3.80 0a1.90 1.90 0 1 0 -3.80 0M240.92 182.44m-1.90 0a1.90 1.90 0 1 0 3.80 0a1.90 1.90 0 1 0 -3.80 0M241.37 179.99m-1.90 0a1.90 1.90 0 1 0 3.80 0a1.90 1.90 0 1 0 -3.80 0M241.83 177.89m-1.90 0a1.90 1.90 0 1 0 3.80 0a1.90 1.90 0 1 0 -3.80 0M242.28 177.09m-1.90 0a1.90 1.90 0 1 0 3.80 0a1.90 1.90 0 1 0 -3.80 0M242.74 179.40m-1.90 0a1.90 1.90 0 1 0 3.80 0a1.90 1.90 0 1 0 -3.80 0M243.20 179.71m-1.90 0a1.90 1.90 0 1 0 3.80 0a1.90 1.90 0 1 0 -3.80 0M243.65 178.70m-1.90 0a1.90 1.90 0 1 0 3.80 0a1.90 1.90 0 1 0 -3.80 0M244.11 180.01m-1.90 0a1.90 1.90 0 1 0 3.80 0a1.90 1.90 0 1 0 -3.80 0M244.56 178.82m-1.90 0a1.90 1.90 0 1 0 3.80 0a1.90 1.90 0 1 0 -3.80 0M245.02 180.76m-1.90 0a1.90 1.90 0 1 0 3.80 0a1.90 1.90 0 1 0 -3.80 0M245.48 178.69m-1.90 0a1.90 1.90 0 1 0 3.80 0a1.90 1.90 0 1 0 -3.80 0M245.93 179.80m-1.90 0a1.90 1.90 0 1 0 3.80 0a1.90 1.90 0 1 0 -3.80 0M246.39 181.46m-1.90 0a1.90 1.90 0 1 0 3.80 0a1.90 1.90 0 1 0 -3.80 0M246.84 184.07m-1.90 0a1.90 1.90 0 1 0 3.80 0a1.90 1.90 0 1 0 -3.80 0M247.30 178.21m-1.90 0a1.90 1.90 0 1 0 3.80 0a1.90 1.90 0 1 0 -3.80 0M247.76 179.10m-1.90 0a1.90 1.90 0 1 0 3.80 0a1.90 1.90 0 1 0 -3.80 0M248.21 178.48m-1.90 0a1.90 1.90 0 1 0 3.80 0a1.90 1.90 0 1 0 -3.80 0M248.67 181.14m-1.90 0a1.90 1.90 0 1 0 3.80 0a1.90 1.90 0 1 0 -3.80 0M249.12 177.96m-1.90 0a1.90 1.90 0 1 0 3.80 0a1.90 1.90 0 1 0 -3.80 0M249.58 179.04m-1.90 0a1.90 1.90 0 1 0 3.80 0a1.90 1.90 0 1 0 -3.80 0M250.04 179.79m-1.90 0a1.90 1.90 0 1 0 3.80 0a1.90 1.90 0 1 0 -3.80 0M250.49 178.21m-1.90 0a1.90 1.90 0 1 0 3.80 0a1.90 1.90 0 1 0 -3.80 0M250.95 178.24m-1.90 0a1.90 1.90 0 1 0 3.80 0a1.90 1.90 0 1 0 -3.80 0M251.40 179.03m-1.90 0a1.90 1.90 0 1 0 3.80 0a1.90 1.90 0 1 0 -3.80 0M251.86 176.33m-1.90 0a1.90 1.90 0 1 0 3.80 0a1.90 1.90 0 1 0 -3.80 0M252.32 177.40m-1.90 0a1.90 1.90 0 1 0 3.80 0a1.90 1.90 0 1 0 -3.80 0M252.77 179.11m-1.90 0a1.90 1.90 0 1 0 3.80 0a1.90 1.90 0 1 0 -3.80 0M253.23 180.04m-1.90 0a1.90 1.90 0 1 0 3.80 0a1.90 1.90 0 1 0 -3.80 0M253.68 179.47m-1.90 0a1.90 1.90 0 1 0 3.80 0a1.90 1.90 0 1 0 -3.80 0M254.14 176.81m-1.90 0a1.90 1.90 0 1 0 3.80 0a1.90 1.90 0 1 0 -3.80 0M254.60 178.99m-1.90 0a1.90 1.90 0 1 0 3.80 0a1.90 1.90 0 1 0 -3.80 0M255.05 181.09m-1.90 0a1.90 1.90 0 1 0 3.80 0a1.90 1.90 0 1 0 -3.80 0M255.51 180.68m-1.90 0a1.90 1.90 0 1 0 3.80 0a1.90 1.90 0 1 0 -3.80 0M255.96 179.60m-1.90 0a1.90 1.90 0 1 0 3.80 0a1.90 1.90 0 1 0 -3.80 0M256.42 178.23m-1.90 0a1.90 1.90 0 1 0 3.80 0a1.90 1.90 0 1 0 -3.80 0M256.88 180.78m-1.90 0a1.90 1.90 0 1 0 3.80 0a1.90 1.90 0 1 0 -3.80 0M257.33 178.73m-1.90 0a1.90 1.90 0 1 0 3.80 0a1.90 1.90 0 1 0 -3.80 0M257.79 177.72m-1.90 0a1.90 1.90 0 1 0 3.80 0a1.90 1.90 0 1 0 -3.80 0M258.24 178.33m-1.90 0a1.90 1.90 0 1 0 3.80 0a1.90 1.90 0 1 0 -3.80 0M258.70 182.13m-1.90 0a1.90 1.90 0 1 0 3.80 0a1.90 1.90 0 1 0 -3.80 0M259.16 180.04m-1.90 0a1.90 1.90 0 1 0 3.80 0a1.90 1.90 0 1 0 -3.80 0M259.61 181.62m-1.90 0a1.90 1.90 0 1 0 3.80 0a1.90 1.90 0 1 0 -3.80 0M260.07 178.83m-1.90 0a1.90 1.90 0 1 0 3.80 0a1.90 1.90 0 1 0 -3.80 0M260.52 181.23m-1.90 0a1.90 1.90 0 1 0 3.80 0a1.90 1.90 0 1 0 -3.80 0M260.98 178.59m-1.90 0a1.90 1.90 0 1 0 3.80 0a1.90 1.90 0 1 0 -3.80 0M261.44 179.34m-1.90 0a1.90 1.90 0 1 0 3.80 0a1.90 1.90 0 1 0 -3.80 0M261.89 183.89m-1.90 0a1.90 1.90 0 1 0 3.80 0a1.90 1.90 0 1 0 -3.80 0M262.35 180.92m-1.90 0a1.90 1.90 0 1 0 3.80 0a1.90 1.90 0 1 0 -3.80 0M262.80 178.71m-1.90 0a1.90 1.90 0 1 0 3.80 0a1.90 1.90 0 1 0 -3.80 0M263.26 179.42m-1.90 0a1.90 1.90 0 1 0 3.80 0a1.90 1.90 0 1 0 -3.80 0M263.72 180.12m-1.90 0a1.90 1.90 0 1 0 3.80 0a1.90 1.90 0 1 0 -3.80 0M264.17 181.67m-1.90 0a1.90 1.90 0 1 0 3.80 0a1.90 1.90 0 1 0 -3.80 0M264.63 178.67m-1.90 0a1.90 1.90 0 1 0 3.80 0a1.90 1.90 0 1 0 -3.80 0M265.08 176.44m-1.90 0a1.90 1.90 0 1 0 3.80 0a1.90 1.90 0 1 0 -3.80 0M265.54 179.00m-1.90 0a1.90 1.90 0 1 0 3.80 0a1.90 1.90 0 1 0 -3.80 0M266.00 179.50m-1.90 0a1.90 1.90 0 1 0 3.80 0a1.90 1.90 0 1 0 -3.80 0M266.45 179.65m-1.90 0a1.90 1.90 0 1 0 3.80 0a1.90 1.90 0 1 0 -3.80 0M266.91 181.80m-1.90 0a1.90 1.90 0 1 0 3.80 0a1.90 1.90 0 1 0 -3.80 0M267.36 179.99m-1.90 0a1.90 1.90 0 1 0 3.80 0a1.90 1.90 0 1 0 -3.80 0M267.82 180.87m-1.90 0a1.90 1.90 0 1 0 3.80 0a1.90 1.90 0 1 0 -3.80 0M268.28 177.38m-1.90 0a1.90 1.90 0 1 0 3.80 0a1.90 1.90 0 1 0 -3.80 0M268.73 180.94m-1.90 0a1.90 1.90 0 1 0 3.80 0a1.90 1.90 0 1 0 -3.80 0M269.19 183.16m-1.90 0a1.90 1.90 0 1 0 3.80 0a1.90 1.90 0 1 0 -3.80 0M269.64 180.73m-1.90 0a1.90 1.90 0 1 0 3.80 0a1.90 1.90 0 1 0 -3.80 0M270.10 179.76m-1.90 0a1.90 1.90 0 1 0 3.80 0a1.90 1.90 0 1 0 -3.80 0M270.56 179.56m-1.90 0a1.90 1.90 0 1 0 3.80 0a1.90 1.90 0 1 0 -3.80 0M271.01 182.56m-1.90 0a1.90 1.90 0 1 0 3.80 0a1.90 1.90 0 1 0 -3.80 0M271.47 177.52m-1.90 0a1.90 1.90 0 1 0 3.80 0a1.90 1.90 0 1 0 -3.80 0M271.92 179.01m-1.90 0a1.90 1.90 0 1 0 3.80 0a1.90 1.90 0 1 0 -3.80 0M272.38 180.06m-1.90 0a1.90 1.90 0 1 0 3.80 0a1.90 1.90 0 1 0 -3.80 0M272.84 180.57m-1.90 0a1.90 1.90 0 1 0 3.80 0a1.90 1.90 0 1 0 -3.80 0M273.29 178.33m-1.90 0a1.90 1.90 0 1 0 3.80 0a1.90 1.90 0 1 0 -3.80 0M273.75 179.72m-1.90 0a1.90 1.90 0 1 0 3.80 0a1.90 1.90 0 1 0 -3.80 0M274.20 178.59m-1.90 0a1.90 1.90 0 1 0 3.80 0a1.90 1.90 0 1 0 -3.80 0M274.66 179.32m-1.90 0a1.90 1.90 0 1 0 3.80 0a1.90 1.90 0 1 0 -3.80 0M275.12 178.82m-1.90 0a1.90 1.90 0 1 0 3.80 0a1.90 1.90 0 1 0 -3.80 0M275.57 176.87m-1.90 0a1.90 1.90 0 1 0 3.80 0a1.90 1.90 0 1 0 -3.80 0M276.03 178.99m-1.90 0a1.90 1.90 0 1 0 3.80 0a1.90 1.90 0 1 0 -3.80 0M276.48 180.70m-1.90 0a1.90 1.90 0 1 0 3.80 0a1.90 1.90 0 1 0 -3.80 0M276.94 177.12m-1.90 0a1.90 1.90 0 1 0 3.80 0a1.90 1.90 0 1 0 -3.80 0M277.40 178.50m-1.90 0a1.90 1.90 0 1 0 3.80 0a1.90 1.90 0 1 0 -3.80 0M277.85 180.24m-1.90 0a1.90 1.90 0 1 0 3.80 0a1.90 1.90 0 1 0 -3.80 0M278.31 176.84m-1.90 0a1.90 1.90 0 1 0 3.80 0a1.90 1.90 0 1 0 -3.80 0M278.76 179.27m-1.90 0a1.90 1.90 0 1 0 3.80 0a1.90 1.90 0 1 0 -3.80 0M279.22 176.81m-1.90 0a1.90 1.90 0 1 0 3.80 0a1.90 1.90 0 1 0 -3.80 0M279.68 181.10m-1.90 0a1.90 1.90 0 1 0 3.80 0a1.90 1.90 0 1 0 -3.80 0M280.13 183.41m-1.90 0a1.90 1.90 0 1 0 3.80 0a1.90 1.90 0 1 0 -3.80 0M280.59 182.83m-1.90 0a1.90 1.90 0 1 0 3.80 0a1.90 1.90 0 1 0 -3.80 0M281.04 178.37m-1.90 0a1.90 1.90 0 1 0 3.80 0a1.90 1.90 0 1 0 -3.80 0M281.50 180.26m-1.90 0a1.90 1.90 0 1 0 3.80 0a1.90 1.90 0 1 0 -3.80 0" fill="none" stroke="#b8090e" stroke-width="1.10"/>
<path d="M190.30 186.60L190.76 186.60L191.21 186.60L191.67 186.60L192.12 186.60L192.58 186.60L193.04 186.60L193.49 186.60L193.95 186.60L194.40 186.60L194.86 186.60L195.32 186.60L195.77 186.60L196.23 186.60L196.68 186.60L197.14 186.60L197.60 186.60L198.05 186.60L198.51 186.60L198.96 186.60L199.42 186.60L199.88 186.60L200.33 186.60L200.79 186.60L201.24 186.60L201.70 186.60L202.16 186.60L202.61 186.60L203.07 186.60L203.52 186.60L203.98 186.60L204.44 186.59L204.89 186.59L205.35 186.59L205.80 186.59L206.26 186.59L206.72 186.59L207.17 186.59L207.63 186.58L208.08 186.58L208.54 186.58L209.00 186.58L209.45 186.57L209.91 186.57L210.36 186.56L210.82 186.56L211.28 186.55L211.73 186.54L212.19 186.53L212.64 186.52L213.10 186.51L213.56 186.49L214.01 186.47L214.47 186.45L214.92 186.43L215.38 186.40L215.84 186.37L216.29 186.33L216.75 186.29L217.20 186.24L217.66 186.19L218.12 186.13L218.57 186.06L219.03 185.98L219.48 185.89L219.94 185.79L220.40 185.67L220.85 185.55L221.31 185.41L221.76 185.26L222.22 185.09L222.68 184.92L223.13 184.73L223.59 184.52L224.04 184.31L224.50 184.10L224.96 183.87L225.41 183.64L225.87 183.42L226.32 183.19L226.78 182.97L227.24 182.76L227.69 182.55L228.15 182.36L228.60 182.17L229.06 182.00L229.52 181.85L229.97 181.70L230.43 181.57L230.88 181.46L231.34 181.35L231.80 181.26L232.25 181.17L232.71 181.10L233.16 181.03L233.62 180.98L234.08 180.93L234.53 180.88L234.99 180.84L235.44 180.81L235.90 180.78L236.36 180.76L236.81 180.74L237.27 180.72L237.72 180.70L238.18 180.69L238.64 180.67L239.09 180.66L239.55 180.66L240.00 180.65L240.46 180.64L240.92 180.63L241.37 180.63L241.83 180.63L242.28 180.62L242.74 180.62L243.20 180.62L243.65 180.61L244.11 180.61L244.56 180.61L245.02 180.61L245.48 180.61L245.93 180.61L246.39 180.61L246.84 180.60L247.30 180.60L247.76 180.60L248.21 180.60L248.67 180.60L249.12 180.60L249.58 180.60L250.04 180.60L250.49 180.60L250.95 180.60L251.40 180.60L251.86 180.60L252.32 180.60L252.77 180.60L253.23 180.60L253.68 180.60L254.14 180.60L254.60 180.60L255.05 180.60L255.51 180.60L255.96 180.60L256.42 180.60L256.88 180.60L257.33 180.60L257.79 180.60L258.24 180.60L258.70 180.60L259.16 180.60L259.61 180.60L260.07 180.60L260.52 180.60L260.98 180.60L261.44 180.60L261.89 180.60L262.35 180.60L262.80 180.60L263.26 180.60L263.72 180.60L264.17 180.60L264.63 180.60L265.08 180.60L265.54 180.60L266.00 180.60L266.45 180.60L266.91 180.60L267.36 180.60L267.82 180.60L268.28 180.60L268.73 180.60L269.19 180.60L269.64 180.60L270.10 180.60L270.56 180.60L271.01 180.60L271.47 180.60L271.92 180.60L272.38 180.60L272.84 180.60L273.29 180.60L273.75 180.60L274.20 180.60L274.66 180.60L275.12 180.60L275.57 180.60L276.03 180.60L276.48 180.60L276.94 180.60L277.40 180.60L277.85 180.60L278.31 180.60L278.76 180.60L279.22 180.60L279.68 180.60L280.13 180.60L280.59 180.60L281.04 180.60L281.50 180.60" fill="none" stroke="#ec8088" stroke-width="0.80" stroke-linejoin="round"/>
<path d="M190.30 186.52L190.76 186.52L191.21 186.51L191.67 186.51L192.12 186.51L192.58 186.51L193.04 186.50L193.49 186.50L193.95 186.50L194.40 186.50L194.86 186.49L195.32 186.49L195.77 186.49L196.23 186.48L196.68 186.48L197.14 186.48L197.60 186.47L198.05 186.47L198.51 186.47L198.96 186.46L199.42 186.46L199.88 186.45L200.33 186.45L200.79 186.44L201.24 186.44L201.70 186.43L202.16 186.42L202.61 186.42L203.07 186.41L203.52 186.40L203.98 186.40L204.44 186.39L204.89 186.38L205.35 186.37L205.80 186.36L206.26 186.35L206.72 186.33L207.17 186.32L207.63 186.31L208.08 186.29L208.54 186.28L209.00 186.26L209.45 186.24L209.91 186.22L210.36 186.20L210.82 186.17L211.28 186.14L211.73 186.11L212.19 186.08L212.64 186.04L213.10 186.00L213.56 185.95L214.01 185.90L214.47 185.85L214.92 185.78L215.38 185.71L215.84 185.62L216.29 185.53L216.75 185.42L217.20 185.29L217.66 185.13L218.12 184.93L218.57 184.69L219.03 184.37L219.48 183.96L219.94 183.42L220.40 182.70L220.85 181.76L221.31 180.53L221.76 178.96L222.22 176.97L222.68 174.50L223.13 171.53L223.59 168.03L224.04 164.02L224.50 159.57L224.96 154.80L225.41 149.88L225.87 145.03L226.32 140.51L226.78 136.62L227.24 133.65L227.69 131.86L228.15 131.47L228.60 133.05L229.06 136.50L229.52 141.30L229.97 146.86L230.43 152.64L230.88 158.19L231.34 163.19L231.80 167.46L232.25 170.93L232.71 173.61L233.16 175.61L233.62 177.04L234.08 178.02L234.53 178.69L234.99 179.13L235.44 179.41L235.90 179.61L236.36 179.74L236.81 179.83L237.27 179.91L237.72 179.97L238.18 180.01L238.64 180.06L239.09 180.09L239.55 180.13L240.00 180.16L240.46 180.18L240.92 180.21L241.37 180.23L241.83 180.25L242.28 180.27L242.74 180.29L243.20 180.30L243.65 180.32L244.11 180.33L244.56 180.35L245.02 180.36L245.48 180.37L245.93 180.38L246.39 180.39L246.84 180.40L247.30 180.41L247.76 180.42L248.21 180.42L248.67 180.43L249.12 180.44L249.58 180.44L250.04 180.45L250.49 180.46L250.95 180.46L251.40 180.47L251.86 180.47L252.32 180.48L252.77 180.48L253.23 180.49L253.68 180.49L254.14 180.49L254.60 180.50L255.05 180.50L255.51 180.50L255.96 180.51L256.42 180.51L256.88 180.51L257.33 180.51L257.79 180.52L258.24 180.52L258.70 180.52L259.16 180.52L259.61 180.53L260.07 180.53L260.52 180.53L260.98 180.53L261.44 180.53L261.89 180.54L262.35 180.54L262.80 180.54L263.26 180.54L263.72 180.54L264.17 180.54L264.63 180.54L265.08 180.55L265.54 180.55L266.00 180.55L266.45 180.55L266.91 180.55L267.36 180.55L267.82 180.55L268.28 180.55L268.73 180.56L269.19 180.56L269.64 180.56L270.10 180.56L270.56 180.56L271.01 180.56L271.47 180.56L271.92 180.56L272.38 180.56L272.84 180.56L273.29 180.56L273.75 180.56L274.20 180.57L274.66 180.57L275.12 180.57L275.57 180.57L276.03 180.57L276.48 180.57L276.94 180.57L277.40 180.57L277.85 180.57L278.31 180.57L278.76 180.57L279.22 180.57L279.68 180.57L280.13 180.57L280.59 180.57L281.04 180.57L281.50 180.57" fill="none" stroke="#16e016" stroke-width="1.40" stroke-linejoin="round"/>
<path d="M190.30 186.55L190.76 186.55L191.21 186.55L191.67 186.55L192.12 186.55L192.58 186.55L193.04 186.55L193.49 186.54L193.95 186.54L194.40 186.54L194.86 186.54L195.32 186.54L195.77 186.53L196.23 186.53L196.68 186.53L197.14 186.53L197.60 186.52L198.05 186.52L198.51 186.52L198.96 186.52L199.42 186.51L199.88 186.51L200.33 186.50L200.79 186.50L201.24 186.50L201.70 186.49L202.16 186.49L202.61 186.48L203.07 186.48L203.52 186.47L203.98 186.46L204.44 186.46L204.89 186.45L205.35 186.44L205.80 186.43L206.26 186.42L206.72 186.41L207.17 186.40L207.63 186.39L208.08 186.38L208.54 186.36L209.00 186.34L209.45 186.33L209.91 186.31L210.36 186.28L210.82 186.26L211.28 186.23L211.73 186.20L212.19 186.16L212.64 186.11L213.10 186.06L213.56 186.00L214.01 185.92L214.47 185.82L214.92 185.69L215.38 185.51L215.84 185.26L216.29 184.94L216.75 184.49L217.20 183.90L217.66 183.13L218.12 182.13L218.57 180.88L219.03 179.36L219.48 177.56L219.94 175.49L220.40 173.20L220.85 170.75L221.31 168.25L221.76 165.83L222.22 163.65L222.68 161.85L223.13 160.61L223.59 160.03L224.04 160.21L224.50 161.19L224.96 162.79L225.41 164.83L225.87 167.11L226.32 169.44L226.78 171.67L227.24 173.69L227.69 175.44L228.15 176.89L228.60 178.03L229.06 178.89L229.52 179.52L229.97 179.95L230.43 180.24L230.88 180.42L231.34 180.52L231.80 180.57L232.25 180.58L232.71 180.59L233.16 180.58L233.62 180.56L234.08 180.55L234.53 180.54L234.99 180.52L235.44 180.51L235.90 180.51L236.36 180.50L236.81 180.49L237.27 180.49L237.72 180.49L238.18 180.49L238.64 180.49L239.09 180.49L239.55 180.49L240.00 180.49L240.46 180.49L240.92 180.49L241.37 180.49L241.83 180.50L242.28 180.50L242.74 180.50L243.20 180.50L243.65 180.51L244.11 180.51L244.56 180.51L245.02 180.51L245.48 180.52L245.93 180.52L246.39 180.52L246.84 180.52L247.30 180.53L247.76 180.53L248.21 180.53L248.67 180.53L249.12 180.54L249.58 180.54L250.04 180.54L250.49 180.54L250.95 180.54L251.40 180.54L251.86 180.55L252.32 180.55L252.77 180.55L253.23 180.55L253.68 180.55L254.14 180.55L254.60 180.55L255.05 180.56L255.51 180.56L255.96 180.56L256.42 180.56L256.88 180.56L257.33 180.56L257.79 180.56L258.24 180.56L258.70 180.56L259.16 180.57L259.61 180.57L260.07 180.57L260.52 180.57L260.98 180.57L261.44 180.57L261.89 180.57L262.35 180.57L262.80 180.57L263.26 180.57L263.72 180.57L264.17 180.57L264.63 180.57L265.08 180.57L265.54 180.58L266.00 180.58L266.45 180.58L266.91 180.58L267.36 180.58L267.82 180.58L268.28 180.58L268.73 180.58L269.19 180.58L269.64 180.58L270.10 180.58L270.56 180.58L271.01 180.58L271.47 180.58L271.92 180.58L272.38 180.58L272.84 180.58L273.29 180.58L273.75 180.58L274.20 180.58L274.66 180.58L275.12 180.58L275.57 180.58L276.03 180.58L276.48 180.58L276.94 180.58L277.40 180.58L277.85 180.59L278.31 180.59L278.76 180.59L279.22 180.59L279.68 180.59L280.13 180.59L280.59 180.59L281.04 180.59L281.50 180.59" fill="none" stroke="#2a2ac8" stroke-width="1.40" stroke-linejoin="round"/>
<path d="M190.30 186.47L190.76 186.47L191.21 186.46L191.67 186.46L192.12 186.46L192.58 186.45L193.04 186.45L193.49 186.45L193.95 186.44L194.40 186.44L194.86 186.43L195.32 186.43L195.77 186.42L196.23 186.42L196.68 186.41L197.14 186.40L197.60 186.40L198.05 186.39L198.51 186.38L198.96 186.38L199.42 186.37L199.88 186.36L200.33 186.35L200.79 186.34L201.24 186.33L201.70 186.32L202.16 186.31L202.61 186.30L203.07 186.29L203.52 186.28L203.98 186.26L204.44 186.25L204.89 186.23L205.35 186.22L205.80 186.20L206.26 186.18L206.72 186.16L207.17 186.14L207.63 186.11L208.08 186.09L208.54 186.06L209.00 186.03L209.45 185.99L209.91 185.96L210.36 185.92L210.82 185.87L211.28 185.82L211.73 185.77L212.19 185.71L212.64 185.64L213.10 185.56L213.56 185.46L214.01 185.35L214.47 185.21L214.92 185.04L215.38 184.81L215.84 184.52L216.29 184.13L216.75 183.62L217.20 182.94L217.66 182.06L218.12 180.94L218.57 179.51L219.03 177.75L219.48 175.63L219.94 173.12L220.40 170.22L220.85 166.96L221.31 163.38L221.76 159.53L222.22 155.52L222.68 151.44L223.13 147.41L223.59 143.53L224.04 139.92L224.50 136.66L224.96 133.72L225.41 131.07L225.87 128.72L226.32 126.76L226.78 125.31L227.24 124.58L227.69 124.75L228.15 126.00L228.60 128.91L229.06 133.39L229.52 138.97L229.97 145.11L230.43 151.31L230.88 157.15L231.34 162.36L231.80 166.77L232.25 170.34L232.71 173.10L233.16 175.15L233.62 176.63L234.08 177.65L234.53 178.34L234.99 178.81L235.44 179.12L235.90 179.33L236.36 179.48L236.81 179.59L237.27 179.68L237.72 179.75L238.18 179.81L238.64 179.87L239.09 179.92L239.55 179.96L240.00 180.00L240.46 180.03L240.92 180.07L241.37 180.09L241.83 180.12L242.28 180.15L242.74 180.17L243.20 180.19L243.65 180.21L244.11 180.23L244.56 180.25L245.02 180.26L245.48 180.28L245.93 180.29L246.39 180.31L246.84 180.32L247.30 180.33L247.76 180.34L248.21 180.35L248.67 180.36L249.12 180.37L249.58 180.38L250.04 180.39L250.49 180.40L250.95 180.40L251.40 180.41L251.86 180.42L252.32 180.42L252.77 180.43L253.23 180.44L253.68 180.44L254.14 180.45L254.60 180.45L255.05 180.46L255.51 180.46L255.96 180.46L256.42 180.47L256.88 180.47L257.33 180.48L257.79 180.48L258.24 180.48L258.70 180.49L259.16 180.49L259.61 180.49L260.07 180.50L260.52 180.50L260.98 180.50L261.44 180.50L261.89 180.51L262.35 180.51L262.80 180.51L263.26 180.51L263.72 180.51L264.17 180.52L264.63 180.52L265.08 180.52L265.54 180.52L266.00 180.52L266.45 180.53L266.91 180.53L267.36 180.53L267.82 180.53L268.28 180.53L268.73 180.53L269.19 180.54L269.64 180.54L270.10 180.54L270.56 180.54L271.01 180.54L271.47 180.54L271.92 180.54L272.38 180.54L272.84 180.55L273.29 180.55L273.75 180.55L274.20 180.55L274.66 180.55L275.12 180.55L275.57 180.55L276.03 180.55L276.48 180.55L276.94 180.55L277.40 180.55L277.85 180.56L278.31 180.56L278.76 180.56L279.22 180.56L279.68 180.56L280.13 180.56L280.59 180.56L281.04 180.56L281.50 180.56" fill="none" stroke="#19e3e8" stroke-width="1.40" stroke-linejoin="round"/>
<circle cx="245.55" cy="125.40" r="1.95" fill="none" stroke="#b8090e" stroke-width="1.3"/>
<text transform="translate(254.00 127.60) scale(1 1.06)" font-size="6.1" fill="#1a1a1a" stroke="#1a1a1a" stroke-width="0.1">Experiment</text>
<path d="M239.00 132.65H252.10" stroke="#ec8088" stroke-width="0.80"/>
<text transform="translate(254.00 134.85) scale(1 1.06)" font-size="6.1" fill="#1a1a1a" stroke="#1a1a1a" stroke-width="0.1">Background</text>
<path d="M239.00 139.90H252.10" stroke="#16e016" stroke-width="1.50"/>
<text transform="translate(254.00 142.10) scale(1 1.06)" font-size="6.1" fill="#1a1a1a" stroke="#1a1a1a" stroke-width="0.1">S2p<tspan font-size="3.9" dy="2.0">3/2</tspan></text>
<path d="M239.00 147.15H252.10" stroke="#2a2ac8" stroke-width="1.50"/>
<text transform="translate(254.00 149.35) scale(1 1.06)" font-size="6.1" fill="#1a1a1a" stroke="#1a1a1a" stroke-width="0.1">S2p<tspan font-size="3.9" dy="2.0">1/2</tspan></text>
<path d="M239.00 154.40H252.10" stroke="#19e3e8" stroke-width="1.50"/>
<text transform="translate(254.00 156.60) scale(1 1.06)" font-size="6.1" fill="#1a1a1a" stroke="#1a1a1a" stroke-width="0.1">Sum</text>
<path d="M325.50 89.39m-1.80 0a1.80 1.80 0 1 0 3.60 0a1.80 1.80 0 1 0 -3.60 0M326.06 89.40m-1.80 0a1.80 1.80 0 1 0 3.60 0a1.80 1.80 0 1 0 -3.60 0M326.62 90.29m-1.80 0a1.80 1.80 0 1 0 3.60 0a1.80 1.80 0 1 0 -3.60 0M327.18 88.59m-1.80 0a1.80 1.80 0 1 0 3.60 0a1.80 1.80 0 1 0 -3.60 0M327.74 90.04m-1.80 0a1.80 1.80 0 1 0 3.60 0a1.80 1.80 0 1 0 -3.60 0M328.30 89.40m-1.80 0a1.80 1.80 0 1 0 3.60 0a1.80 1.80 0 1 0 -3.60 0M328.86 90.29m-1.80 0a1.80 1.80 0 1 0 3.60 0a1.80 1.80 0 1 0 -3.60 0M329.42 89.58m-1.80 0a1.80 1.80 0 1 0 3.60 0a1.80 1.80 0 1 0 -3.60 0M329.98 89.09m-1.80 0a1.80 1.80 0 1 0 3.60 0a1.80 1.80 0 1 0 -3.60 0M330.54 89.68m-1.80 0a1.80 1.80 0 1 0 3.60 0a1.80 1.80 0 1 0 -3.60 0M331.10 89.97m-1.80 0a1.80 1.80 0 1 0 3.60 0a1.80 1.80 0 1 0 -3.60 0M331.66 89.57m-1.80 0a1.80 1.80 0 1 0 3.60 0a1.80 1.80 0 1 0 -3.60 0M332.22 89.86m-1.80 0a1.80 1.80 0 1 0 3.60 0a1.80 1.80 0 1 0 -3.60 0M332.78 89.27m-1.80 0a1.80 1.80 0 1 0 3.60 0a1.80 1.80 0 1 0 -3.60 0M333.34 88.32m-1.80 0a1.80 1.80 0 1 0 3.60 0a1.80 1.80 0 1 0 -3.60 0M333.90 90.15m-1.80 0a1.80 1.80 0 1 0 3.60 0a1.80 1.80 0 1 0 -3.60 0M334.46 90.04m-1.80 0a1.80 1.80 0 1 0 3.60 0a1.80 1.80 0 1 0 -3.60 0M335.02 89.72m-1.80 0a1.80 1.80 0 1 0 3.60 0a1.80 1.80 0 1 0 -3.60 0M335.58 89.68m-1.80 0a1.80 1.80 0 1 0 3.60 0a1.80 1.80 0 1 0 -3.60 0M336.14 90.27m-1.80 0a1.80 1.80 0 1 0 3.60 0a1.80 1.80 0 1 0 -3.60 0M336.70 89.37m-1.80 0a1.80 1.80 0 1 0 3.60 0a1.80 1.80 0 1 0 -3.60 0M337.26 89.22m-1.80 0a1.80 1.80 0 1 0 3.60 0a1.80 1.80 0 1 0 -3.60 0M337.82 89.52m-1.80 0a1.80 1.80 0 1 0 3.60 0a1.80 1.80 0 1 0 -3.60 0M338.38 90.34m-1.80 0a1.80 1.80 0 1 0 3.60 0a1.80 1.80 0 1 0 -3.60 0M338.94 88.77m-1.80 0a1.80 1.80 0 1 0 3.60 0a1.80 1.80 0 1 0 -3.60 0M339.50 90.29m-1.80 0a1.80 1.80 0 1 0 3.60 0a1.80 1.80 0 1 0 -3.60 0M340.06 89.16m-1.80 0a1.80 1.80 0 1 0 3.60 0a1.80 1.80 0 1 0 -3.60 0M340.62 88.84m-1.80 0a1.80 1.80 0 1 0 3.60 0a1.80 1.80 0 1 0 -3.60 0M341.18 90.21m-1.80 0a1.80 1.80 0 1 0 3.60 0a1.80 1.80 0 1 0 -3.60 0M341.74 89.33m-1.80 0a1.80 1.80 0 1 0 3.60 0a1.80 1.80 0 1 0 -3.60 0M342.30 88.53m-1.80 0a1.80 1.80 0 1 0 3.60 0a1.80 1.80 0 1 0 -3.60 0M342.86 89.01m-1.80 0a1.80 1.80 0 1 0 3.60 0a1.80 1.80 0 1 0 -3.60 0M343.42 89.68m-1.80 0a1.80 1.80 0 1 0 3.60 0a1.80 1.80 0 1 0 -3.60 0M343.98 89.71m-1.80 0a1.80 1.80 0 1 0 3.60 0a1.80 1.80 0 1 0 -3.60 0M344.54 88.60m-1.80 0a1.80 1.80 0 1 0 3.60 0a1.80 1.80 0 1 0 -3.60 0M345.10 88.94m-1.80 0a1.80 1.80 0 1 0 3.60 0a1.80 1.80 0 1 0 -3.60 0M345.66 88.94m-1.80 0a1.80 1.80 0 1 0 3.60 0a1.80 1.80 0 1 0 -3.60 0M346.22 87.91m-1.80 0a1.80 1.80 0 1 0 3.60 0a1.80 1.80 0 1 0 -3.60 0M346.78 88.28m-1.80 0a1.80 1.80 0 1 0 3.60 0a1.80 1.80 0 1 0 -3.60 0M347.34 87.78m-1.80 0a1.80 1.80 0 1 0 3.60 0a1.80 1.80 0 1 0 -3.60 0M347.90 87.18m-1.80 0a1.80 1.80 0 1 0 3.60 0a1.80 1.80 0 1 0 -3.60 0M348.46 86.87m-1.80 0a1.80 1.80 0 1 0 3.60 0a1.80 1.80 0 1 0 -3.60 0M349.02 86.84m-1.80 0a1.80 1.80 0 1 0 3.60 0a1.80 1.80 0 1 0 -3.60 0M349.58 86.42m-1.80 0a1.80 1.80 0 1 0 3.60 0a1.80 1.80 0 1 0 -3.60 0M350.14 85.61m-1.80 0a1.80 1.80 0 1 0 3.60 0a1.80 1.80 0 1 0 -3.60 0M350.70 85.21m-1.80 0a1.80 1.80 0 1 0 3.60 0a1.80 1.80 0 1 0 -3.60 0M351.26 85.61m-1.80 0a1.80 1.80 0 1 0 3.60 0a1.80 1.80 0 1 0 -3.60 0M351.82 84.49m-1.80 0a1.80 1.80 0 1 0 3.60 0a1.80 1.80 0 1 0 -3.60 0M352.38 84.27m-1.80 0a1.80 1.80 0 1 0 3.60 0a1.80 1.80 0 1 0 -3.60 0M352.94 83.79m-1.80 0a1.80 1.80 0 1 0 3.60 0a1.80 1.80 0 1 0 -3.60 0M353.50 82.71m-1.80 0a1.80 1.80 0 1 0 3.60 0a1.80 1.80 0 1 0 -3.60 0M354.06 82.95m-1.80 0a1.80 1.80 0 1 0 3.60 0a1.80 1.80 0 1 0 -3.60 0M354.62 80.27m-1.80 0a1.80 1.80 0 1 0 3.60 0a1.80 1.80 0 1 0 -3.60 0M355.18 80.39m-1.80 0a1.80 1.80 0 1 0 3.60 0a1.80 1.80 0 1 0 -3.60 0M355.74 78.80m-1.80 0a1.80 1.80 0 1 0 3.60 0a1.80 1.80 0 1 0 -3.60 0M356.30 79.15m-1.80 0a1.80 1.80 0 1 0 3.60 0a1.80 1.80 0 1 0 -3.60 0M356.86 78.05m-1.80 0a1.80 1.80 0 1 0 3.60 0a1.80 1.80 0 1 0 -3.60 0M357.42 74.81m-1.80 0a1.80 1.80 0 1 0 3.60 0a1.80 1.80 0 1 0 -3.60 0M357.98 74.32m-1.80 0a1.80 1.80 0 1 0 3.60 0a1.80 1.80 0 1 0 -3.60 0M358.54 74.17m-1.80 0a1.80 1.80 0 1 0 3.60 0a1.80 1.80 0 1 0 -3.60 0M359.10 73.10m-1.80 0a1.80 1.80 0 1 0 3.60 0a1.80 1.80 0 1 0 -3.60 0M359.66 71.88m-1.80 0a1.80 1.80 0 1 0 3.60 0a1.80 1.80 0 1 0 -3.60 0M360.22 70.13m-1.80 0a1.80 1.80 0 1 0 3.60 0a1.80 1.80 0 1 0 -3.60 0M360.78 68.95m-1.80 0a1.80 1.80 0 1 0 3.60 0a1.80 1.80 0 1 0 -3.60 0M361.34 67.05m-1.80 0a1.80 1.80 0 1 0 3.60 0a1.80 1.80 0 1 0 -3.60 0M361.90 63.78m-1.80 0a1.80 1.80 0 1 0 3.60 0a1.80 1.80 0 1 0 -3.60 0M362.46 60.73m-1.80 0a1.80 1.80 0 1 0 3.60 0a1.80 1.80 0 1 0 -3.60 0M363.02 54.44m-1.80 0a1.80 1.80 0 1 0 3.60 0a1.80 1.80 0 1 0 -3.60 0M363.58 51.72m-1.80 0a1.80 1.80 0 1 0 3.60 0a1.80 1.80 0 1 0 -3.60 0M364.14 46.59m-1.80 0a1.80 1.80 0 1 0 3.60 0a1.80 1.80 0 1 0 -3.60 0M364.70 44.24m-1.80 0a1.80 1.80 0 1 0 3.60 0a1.80 1.80 0 1 0 -3.60 0M365.26 40.66m-1.80 0a1.80 1.80 0 1 0 3.60 0a1.80 1.80 0 1 0 -3.60 0M365.82 38.01m-1.80 0a1.80 1.80 0 1 0 3.60 0a1.80 1.80 0 1 0 -3.60 0M366.38 36.73m-1.80 0a1.80 1.80 0 1 0 3.60 0a1.80 1.80 0 1 0 -3.60 0M366.94 34.17m-1.80 0a1.80 1.80 0 1 0 3.60 0a1.80 1.80 0 1 0 -3.60 0M367.50 32.67m-1.80 0a1.80 1.80 0 1 0 3.60 0a1.80 1.80 0 1 0 -3.60 0M368.06 31.03m-1.80 0a1.80 1.80 0 1 0 3.60 0a1.80 1.80 0 1 0 -3.60 0M368.62 31.23m-1.80 0a1.80 1.80 0 1 0 3.60 0a1.80 1.80 0 1 0 -3.60 0M369.18 30.96m-1.80 0a1.80 1.80 0 1 0 3.60 0a1.80 1.80 0 1 0 -3.60 0M369.74 30.80m-1.80 0a1.80 1.80 0 1 0 3.60 0a1.80 1.80 0 1 0 -3.60 0M370.30 29.74m-1.80 0a1.80 1.80 0 1 0 3.60 0a1.80 1.80 0 1 0 -3.60 0M370.86 30.23m-1.80 0a1.80 1.80 0 1 0 3.60 0a1.80 1.80 0 1 0 -3.60 0M371.42 29.48m-1.80 0a1.80 1.80 0 1 0 3.60 0a1.80 1.80 0 1 0 -3.60 0M371.98 29.40m-1.80 0a1.80 1.80 0 1 0 3.60 0a1.80 1.80 0 1 0 -3.60 0M372.54 29.94m-1.80 0a1.80 1.80 0 1 0 3.60 0a1.80 1.80 0 1 0 -3.60 0M373.10 30.56m-1.80 0a1.80 1.80 0 1 0 3.60 0a1.80 1.80 0 1 0 -3.60 0M373.66 30.23m-1.80 0a1.80 1.80 0 1 0 3.60 0a1.80 1.80 0 1 0 -3.60 0M374.22 30.99m-1.80 0a1.80 1.80 0 1 0 3.60 0a1.80 1.80 0 1 0 -3.60 0M374.78 31.94m-1.80 0a1.80 1.80 0 1 0 3.60 0a1.80 1.80 0 1 0 -3.60 0M375.34 33.25m-1.80 0a1.80 1.80 0 1 0 3.60 0a1.80 1.80 0 1 0 -3.60 0M375.90 34.28m-1.80 0a1.80 1.80 0 1 0 3.60 0a1.80 1.80 0 1 0 -3.60 0M376.46 38.26m-1.80 0a1.80 1.80 0 1 0 3.60 0a1.80 1.80 0 1 0 -3.60 0M377.02 41.83m-1.80 0a1.80 1.80 0 1 0 3.60 0a1.80 1.80 0 1 0 -3.60 0M377.58 48.92m-1.80 0a1.80 1.80 0 1 0 3.60 0a1.80 1.80 0 1 0 -3.60 0M378.14 56.32m-1.80 0a1.80 1.80 0 1 0 3.60 0a1.80 1.80 0 1 0 -3.60 0M378.70 64.22m-1.80 0a1.80 1.80 0 1 0 3.60 0a1.80 1.80 0 1 0 -3.60 0M379.26 68.48m-1.80 0a1.80 1.80 0 1 0 3.60 0a1.80 1.80 0 1 0 -3.60 0M379.82 70.11m-1.80 0a1.80 1.80 0 1 0 3.60 0a1.80 1.80 0 1 0 -3.60 0M380.38 73.24m-1.80 0a1.80 1.80 0 1 0 3.60 0a1.80 1.80 0 1 0 -3.60 0M380.94 73.87m-1.80 0a1.80 1.80 0 1 0 3.60 0a1.80 1.80 0 1 0 -3.60 0M381.50 76.30m-1.80 0a1.80 1.80 0 1 0 3.60 0a1.80 1.80 0 1 0 -3.60 0M382.06 77.35m-1.80 0a1.80 1.80 0 1 0 3.60 0a1.80 1.80 0 1 0 -3.60 0M382.62 77.85m-1.80 0a1.80 1.80 0 1 0 3.60 0a1.80 1.80 0 1 0 -3.60 0M383.18 79.43m-1.80 0a1.80 1.80 0 1 0 3.60 0a1.80 1.80 0 1 0 -3.60 0M383.74 81.26m-1.80 0a1.80 1.80 0 1 0 3.60 0a1.80 1.80 0 1 0 -3.60 0M384.30 82.28m-1.80 0a1.80 1.80 0 1 0 3.60 0a1.80 1.80 0 1 0 -3.60 0M384.86 83.45m-1.80 0a1.80 1.80 0 1 0 3.60 0a1.80 1.80 0 1 0 -3.60 0M385.42 84.32m-1.80 0a1.80 1.80 0 1 0 3.60 0a1.80 1.80 0 1 0 -3.60 0M385.98 84.39m-1.80 0a1.80 1.80 0 1 0 3.60 0a1.80 1.80 0 1 0 -3.60 0M386.54 86.25m-1.80 0a1.80 1.80 0 1 0 3.60 0a1.80 1.80 0 1 0 -3.60 0M387.10 85.87m-1.80 0a1.80 1.80 0 1 0 3.60 0a1.80 1.80 0 1 0 -3.60 0M387.66 88.16m-1.80 0a1.80 1.80 0 1 0 3.60 0a1.80 1.80 0 1 0 -3.60 0M388.22 88.17m-1.80 0a1.80 1.80 0 1 0 3.60 0a1.80 1.80 0 1 0 -3.60 0M388.78 88.77m-1.80 0a1.80 1.80 0 1 0 3.60 0a1.80 1.80 0 1 0 -3.60 0M389.34 89.59m-1.80 0a1.80 1.80 0 1 0 3.60 0a1.80 1.80 0 1 0 -3.60 0M389.90 90.35m-1.80 0a1.80 1.80 0 1 0 3.60 0a1.80 1.80 0 1 0 -3.60 0M390.46 89.73m-1.80 0a1.80 1.80 0 1 0 3.60 0a1.80 1.80 0 1 0 -3.60 0M391.02 89.90m-1.80 0a1.80 1.80 0 1 0 3.60 0a1.80 1.80 0 1 0 -3.60 0M391.58 90.62m-1.80 0a1.80 1.80 0 1 0 3.60 0a1.80 1.80 0 1 0 -3.60 0M392.14 90.31m-1.80 0a1.80 1.80 0 1 0 3.60 0a1.80 1.80 0 1 0 -3.60 0M392.70 91.19m-1.80 0a1.80 1.80 0 1 0 3.60 0a1.80 1.80 0 1 0 -3.60 0M393.26 92.93m-1.80 0a1.80 1.80 0 1 0 3.60 0a1.80 1.80 0 1 0 -3.60 0M393.82 91.52m-1.80 0a1.80 1.80 0 1 0 3.60 0a1.80 1.80 0 1 0 -3.60 0M394.38 92.69m-1.80 0a1.80 1.80 0 1 0 3.60 0a1.80 1.80 0 1 0 -3.60 0M394.94 91.61m-1.80 0a1.80 1.80 0 1 0 3.60 0a1.80 1.80 0 1 0 -3.60 0M395.50 92.73m-1.80 0a1.80 1.80 0 1 0 3.60 0a1.80 1.80 0 1 0 -3.60 0M396.06 92.46m-1.80 0a1.80 1.80 0 1 0 3.60 0a1.80 1.80 0 1 0 -3.60 0M396.62 92.71m-1.80 0a1.80 1.80 0 1 0 3.60 0a1.80 1.80 0 1 0 -3.60 0M397.18 93.16m-1.80 0a1.80 1.80 0 1 0 3.60 0a1.80 1.80 0 1 0 -3.60 0M397.74 93.94m-1.80 0a1.80 1.80 0 1 0 3.60 0a1.80 1.80 0 1 0 -3.60 0M398.30 93.07m-1.80 0a1.80 1.80 0 1 0 3.60 0a1.80 1.80 0 1 0 -3.60 0M398.86 93.09m-1.80 0a1.80 1.80 0 1 0 3.60 0a1.80 1.80 0 1 0 -3.60 0M399.42 92.48m-1.80 0a1.80 1.80 0 1 0 3.60 0a1.80 1.80 0 1 0 -3.60 0M399.98 93.46m-1.80 0a1.80 1.80 0 1 0 3.60 0a1.80 1.80 0 1 0 -3.60 0M400.54 93.01m-1.80 0a1.80 1.80 0 1 0 3.60 0a1.80 1.80 0 1 0 -3.60 0M401.10 93.70m-1.80 0a1.80 1.80 0 1 0 3.60 0a1.80 1.80 0 1 0 -3.60 0M401.66 93.22m-1.80 0a1.80 1.80 0 1 0 3.60 0a1.80 1.80 0 1 0 -3.60 0M402.22 94.33m-1.80 0a1.80 1.80 0 1 0 3.60 0a1.80 1.80 0 1 0 -3.60 0M402.78 92.14m-1.80 0a1.80 1.80 0 1 0 3.60 0a1.80 1.80 0 1 0 -3.60 0M403.34 93.19m-1.80 0a1.80 1.80 0 1 0 3.60 0a1.80 1.80 0 1 0 -3.60 0M403.90 93.93m-1.80 0a1.80 1.80 0 1 0 3.60 0a1.80 1.80 0 1 0 -3.60 0M404.46 93.23m-1.80 0a1.80 1.80 0 1 0 3.60 0a1.80 1.80 0 1 0 -3.60 0M405.02 93.00m-1.80 0a1.80 1.80 0 1 0 3.60 0a1.80 1.80 0 1 0 -3.60 0M405.58 93.36m-1.80 0a1.80 1.80 0 1 0 3.60 0a1.80 1.80 0 1 0 -3.60 0M406.14 92.72m-1.80 0a1.80 1.80 0 1 0 3.60 0a1.80 1.80 0 1 0 -3.60 0M406.70 93.66m-1.80 0a1.80 1.80 0 1 0 3.60 0a1.80 1.80 0 1 0 -3.60 0M407.26 95.09m-1.80 0a1.80 1.80 0 1 0 3.60 0a1.80 1.80 0 1 0 -3.60 0M407.82 94.35m-1.80 0a1.80 1.80 0 1 0 3.60 0a1.80 1.80 0 1 0 -3.60 0M408.38 93.03m-1.80 0a1.80 1.80 0 1 0 3.60 0a1.80 1.80 0 1 0 -3.60 0M408.94 93.21m-1.80 0a1.80 1.80 0 1 0 3.60 0a1.80 1.80 0 1 0 -3.60 0M409.50 93.52m-1.80 0a1.80 1.80 0 1 0 3.60 0a1.80 1.80 0 1 0 -3.60 0M410.06 94.40m-1.80 0a1.80 1.80 0 1 0 3.60 0a1.80 1.80 0 1 0 -3.60 0" fill="none" stroke="#b8090e" stroke-width="1.15"/>
<path d="M325.50 90.50L326.06 90.51L326.62 90.51L327.18 90.51L327.74 90.52L328.30 90.52L328.86 90.52L329.42 90.53L329.98 90.53L330.54 90.53L331.10 90.53L331.66 90.54L332.22 90.54L332.78 90.54L333.34 90.55L333.90 90.55L334.46 90.55L335.02 90.56L335.58 90.56L336.14 90.56L336.70 90.57L337.26 90.57L337.82 90.57L338.38 90.58L338.94 90.58L339.50 90.58L340.06 90.59L340.62 90.59L341.18 90.59L341.74 90.60L342.30 90.60L342.86 90.60L343.42 90.61L343.98 90.61L344.54 90.61L345.10 90.61L345.66 90.62L346.22 90.62L346.78 90.62L347.34 90.63L347.90 90.63L348.46 90.63L349.02 90.64L349.58 90.64L350.14 90.64L350.70 90.65L351.26 90.65L351.82 90.65L352.38 90.66L352.94 90.66L353.50 90.66L354.06 90.67L354.62 90.67L355.18 90.67L355.74 90.68L356.30 90.68L356.86 90.68L357.42 90.69L357.98 90.69L358.54 90.69L359.10 90.69L359.66 90.70L360.22 90.71L360.78 90.72L361.34 90.74L361.90 90.76L362.46 90.77L363.02 90.79L363.58 90.81L364.14 90.82L364.70 90.84L365.26 90.86L365.82 90.87L366.38 90.89L366.94 90.91L367.50 90.92L368.06 90.94L368.62 90.96L369.18 90.98L369.74 90.99L370.30 91.02L370.86 91.07L371.42 91.11L371.98 91.16L372.54 91.20L373.10 91.25L373.66 91.29L374.22 91.34L374.78 91.38L375.34 91.43L375.90 91.47L376.46 91.52L377.02 91.56L377.58 91.61L378.14 91.65L378.70 91.70L379.26 91.74L379.82 91.79L380.38 91.83L380.94 91.88L381.50 91.92L382.06 91.96L382.62 92.01L383.18 92.05L383.74 92.10L384.30 92.14L384.86 92.19L385.42 92.23L385.98 92.26L386.54 92.30L387.10 92.33L387.66 92.37L388.22 92.41L388.78 92.44L389.34 92.48L389.90 92.51L390.46 92.55L391.02 92.59L391.58 92.62L392.14 92.66L392.70 92.69L393.26 92.73L393.82 92.76L394.38 92.80L394.94 92.84L395.50 92.87L396.06 92.91L396.62 92.94L397.18 92.98L397.74 93.02L398.30 93.05L398.86 93.09L399.42 93.12L399.98 93.16L400.54 93.19L401.10 93.23L401.66 93.27L402.22 93.30L402.78 93.34L403.34 93.37L403.90 93.41L404.46 93.45L405.02 93.48L405.58 93.52L406.14 93.55L406.70 93.59L407.26 93.62L407.82 93.66L408.38 93.70L408.94 93.73L409.50 93.77L410.06 93.80" fill="none" stroke="#ec8088" stroke-width="0.80" stroke-linejoin="round"/>
<path d="M325.50 90.47L326.06 90.48L326.62 90.48L327.18 90.48L327.74 90.48L328.30 90.49L328.86 90.49L329.42 90.49L329.98 90.49L330.54 90.50L331.10 90.50L331.66 90.50L332.22 90.50L332.78 90.50L333.34 90.51L333.90 90.51L334.46 90.51L335.02 90.51L335.58 90.51L336.14 90.52L336.70 90.52L337.26 90.52L337.82 90.52L338.38 90.52L338.94 90.52L339.50 90.53L340.06 90.53L340.62 90.53L341.18 90.53L341.74 90.53L342.30 90.53L342.86 90.53L343.42 90.53L343.98 90.53L344.54 90.54L345.10 90.54L345.66 90.54L346.22 90.54L346.78 90.54L347.34 90.54L347.90 90.53L348.46 90.53L349.02 90.53L349.58 90.53L350.14 90.53L350.70 90.53L351.26 90.53L351.82 90.52L352.38 90.52L352.94 90.52L353.50 90.51L354.06 90.51L354.62 90.50L355.18 90.50L355.74 90.49L356.30 90.48L356.86 90.47L357.42 90.46L357.98 90.45L358.54 90.44L359.10 90.43L359.66 90.41L360.22 90.40L360.78 90.39L361.34 90.38L361.90 90.37L362.46 90.36L363.02 90.34L363.58 90.31L364.14 90.28L364.70 90.24L365.26 90.19L365.82 90.13L366.38 90.05L366.94 89.94L367.50 89.79L368.06 89.57L368.62 89.24L369.18 88.74L369.74 88.01L370.30 86.98L370.86 85.56L371.42 83.68L371.98 81.30L372.54 78.49L373.10 75.37L373.66 72.20L374.22 69.34L374.78 67.27L375.34 66.44L375.90 67.06L376.46 68.99L377.02 71.80L377.58 75.03L378.14 78.28L378.70 81.26L379.26 83.82L379.82 85.90L380.38 87.51L380.94 88.70L381.50 89.55L382.06 90.15L382.62 90.57L383.18 90.88L383.74 91.10L384.30 91.28L384.86 91.43L385.42 91.55L385.98 91.65L386.54 91.74L387.10 91.83L387.66 91.91L388.22 91.98L388.78 92.05L389.34 92.11L389.90 92.18L390.46 92.24L391.02 92.29L391.58 92.35L392.14 92.40L392.70 92.45L393.26 92.50L393.82 92.55L394.38 92.60L394.94 92.65L395.50 92.69L396.06 92.74L396.62 92.78L397.18 92.83L397.74 92.87L398.30 92.91L398.86 92.96L399.42 93.00L399.98 93.04L400.54 93.08L401.10 93.12L401.66 93.16L402.22 93.20L402.78 93.24L403.34 93.28L403.90 93.32L404.46 93.36L405.02 93.40L405.58 93.44L406.14 93.48L406.70 93.51L407.26 93.55L407.82 93.59L408.38 93.63L408.94 93.67L409.50 93.71L410.06 93.74" fill="none" stroke="#16e016" stroke-width="1.40" stroke-linejoin="round"/>
<path d="M325.50 90.50L326.06 90.51L326.62 90.51L327.18 90.51L327.74 90.51L328.30 90.52L328.86 90.52L329.42 90.52L329.98 90.53L330.54 90.53L331.10 90.53L331.66 90.53L332.22 90.53L332.78 90.53L333.34 90.54L333.90 90.54L334.46 90.53L335.02 90.53L335.58 90.53L336.14 90.52L336.70 90.52L337.26 90.51L337.82 90.50L338.38 90.48L338.94 90.47L339.50 90.44L340.06 90.41L340.62 90.38L341.18 90.34L341.74 90.29L342.30 90.23L342.86 90.16L343.42 90.08L343.98 89.98L344.54 89.87L345.10 89.74L345.66 89.58L346.22 89.41L346.78 89.20L347.34 88.97L347.90 88.71L348.46 88.41L349.02 88.08L349.58 87.71L350.14 87.29L350.70 86.82L351.26 86.31L351.82 85.74L352.38 85.12L352.94 84.44L353.50 83.71L354.06 82.92L354.62 82.06L355.18 81.15L355.74 80.17L356.30 79.14L356.86 78.05L357.42 76.91L357.98 75.73L358.54 74.49L359.10 73.22L359.66 71.92L360.22 70.59L360.78 69.15L361.34 67.28L361.90 64.46L362.46 60.42L363.02 55.54L363.58 50.59L364.14 46.26L364.70 42.82L365.26 40.26L365.82 38.40L366.38 37.04L366.94 36.02L367.50 35.23L368.06 34.61L368.62 34.13L369.18 33.79L369.74 33.59L370.30 33.53L370.86 33.85L371.42 34.98L371.98 36.88L372.54 39.46L373.10 42.61L373.66 46.19L374.22 50.07L374.78 54.09L375.34 58.13L375.90 62.08L376.46 65.83L377.02 69.33L377.58 72.51L378.14 75.37L378.70 77.89L379.26 80.08L379.82 81.97L380.38 83.58L380.94 84.94L381.50 86.10L382.06 87.07L382.62 87.89L383.18 88.59L383.74 89.18L384.30 89.69L384.86 90.12L385.42 90.49L385.98 90.81L386.54 91.09L387.10 91.33L387.66 91.53L388.22 91.72L388.78 91.88L389.34 92.02L389.90 92.14L390.46 92.25L391.02 92.34L391.58 92.43L392.14 92.50L392.70 92.57L393.26 92.63L393.82 92.69L394.38 92.74L394.94 92.79L395.50 92.84L396.06 92.88L396.62 92.92L397.18 92.96L397.74 93.00L398.30 93.04L398.86 93.08L399.42 93.12L399.98 93.16L400.54 93.19L401.10 93.23L401.66 93.27L402.22 93.30L402.78 93.34L403.34 93.37L403.90 93.41L404.46 93.45L405.02 93.48L405.58 93.52L406.14 93.55L406.70 93.59L407.26 93.62L407.82 93.66L408.38 93.70L408.94 93.73L409.50 93.77L410.06 93.80" fill="none" stroke="#2a2ac8" stroke-width="1.40" stroke-linejoin="round"/>
<path d="M325.50 90.50L326.06 90.50L326.62 90.51L327.18 90.51L327.74 90.51L328.30 90.51L328.86 90.51L329.42 90.52L329.98 90.52L330.54 90.52L331.10 90.52L331.66 90.51L332.22 90.51L332.78 90.51L333.34 90.51L333.90 90.50L334.46 90.49L335.02 90.48L335.58 90.47L336.14 90.45L336.70 90.44L337.26 90.41L337.82 90.39L338.38 90.35L338.94 90.32L339.50 90.27L340.06 90.22L340.62 90.16L341.18 90.09L341.74 90.00L342.30 89.91L342.86 89.80L343.42 89.68L343.98 89.53L344.54 89.37L345.10 89.19L345.66 88.99L346.22 88.76L346.78 88.50L347.34 88.22L347.90 87.90L348.46 87.55L349.02 87.17L349.58 86.75L350.14 86.28L350.70 85.78L351.26 85.23L351.82 84.64L352.38 84.00L352.94 83.31L353.50 82.57L354.06 81.78L354.62 80.95L355.18 80.07L355.74 79.13L356.30 78.16L356.86 77.13L357.42 76.07L357.98 74.96L358.54 73.82L359.10 72.65L359.66 71.45L360.22 70.17L360.78 68.67L361.34 66.66L361.90 63.83L362.46 60.11L363.02 55.79L363.58 51.34L364.14 47.21L364.70 43.67L365.26 40.80L365.82 38.54L366.38 36.79L366.94 35.43L367.50 34.34L368.06 33.47L368.62 32.75L369.18 32.16L369.74 31.68L370.30 31.33L370.86 31.10L371.42 30.97L371.98 30.96L372.54 31.09L373.10 31.42L373.66 31.94L374.22 32.64L374.78 33.54L375.34 34.70L375.90 36.32L376.46 38.80L377.02 42.81L377.58 48.96L378.14 56.81L378.70 64.00L379.26 68.25L379.82 70.36L380.38 72.03L380.94 73.65L381.50 75.23L382.06 76.77L382.62 78.25L383.18 79.66L383.74 80.99L384.30 82.25L384.86 83.42L385.42 84.49L385.98 85.48L386.54 86.38L387.10 87.20L387.66 87.94L388.22 88.60L388.78 89.20L389.34 89.72L389.90 90.19L390.46 90.59L391.02 90.95L391.58 91.26L392.14 91.53L392.70 91.77L393.26 91.97L393.82 92.15L394.38 92.30L394.94 92.44L395.50 92.55L396.06 92.65L396.62 92.74L397.18 92.82L397.74 92.89L398.30 92.95L398.86 93.01L399.42 93.06L399.98 93.11L400.54 93.16L401.10 93.20L401.66 93.25L402.22 93.29L402.78 93.33L403.34 93.37L403.90 93.40L404.46 93.44L405.02 93.48L405.58 93.51L406.14 93.55L406.70 93.59L407.26 93.62L407.82 93.66L408.38 93.70L408.94 93.73L409.50 93.77L410.06 93.80" fill="none" stroke="#19e3e8" stroke-width="1.40" stroke-linejoin="round"/>
<circle cx="315.90" cy="26.00" r="1.95" fill="none" stroke="#b8090e" stroke-width="1.3"/>
<text transform="translate(324.20 28.20) scale(1 1.06)" font-size="6.1" fill="#1a1a1a" stroke="#1a1a1a" stroke-width="0.1">Experiment</text>
<path d="M308.90 33.20H322.90" stroke="#ec8088" stroke-width="0.80"/>
<text transform="translate(324.20 35.40) scale(1 1.06)" font-size="6.1" fill="#1a1a1a" stroke="#1a1a1a" stroke-width="0.1">Background</text>
<path d="M308.90 40.40H322.90" stroke="#16e016" stroke-width="1.50"/>
<text transform="translate(324.20 42.60) scale(1 1.06)" font-size="6.1" fill="#1a1a1a" stroke="#1a1a1a" stroke-width="0.1">O<tspan font-size="3.9" dy="2.0">I</tspan></text>
<path d="M308.90 47.60H322.90" stroke="#2a2ac8" stroke-width="1.50"/>
<text transform="translate(324.20 49.80) scale(1 1.06)" font-size="6.1" fill="#1a1a1a" stroke="#1a1a1a" stroke-width="0.1">O<tspan font-size="3.9" dy="2.0">II</tspan></text>
<path d="M308.90 54.80H322.90" stroke="#19e3e8" stroke-width="1.50"/>
<text transform="translate(324.20 57.00) scale(1 1.06)" font-size="6.1" fill="#1a1a1a" stroke="#1a1a1a" stroke-width="0.1">Sum</text>
<path d="M324.90 190.14m-1.80 0a1.80 1.80 0 1 0 3.60 0a1.80 1.80 0 1 0 -3.60 0M325.46 190.21m-1.80 0a1.80 1.80 0 1 0 3.60 0a1.80 1.80 0 1 0 -3.60 0M326.02 191.15m-1.80 0a1.80 1.80 0 1 0 3.60 0a1.80 1.80 0 1 0 -3.60 0M326.58 191.13m-1.80 0a1.80 1.80 0 1 0 3.60 0a1.80 1.80 0 1 0 -3.60 0M327.14 190.38m-1.80 0a1.80 1.80 0 1 0 3.60 0a1.80 1.80 0 1 0 -3.60 0M327.70 189.92m-1.80 0a1.80 1.80 0 1 0 3.60 0a1.80 1.80 0 1 0 -3.60 0M328.26 189.65m-1.80 0a1.80 1.80 0 1 0 3.60 0a1.80 1.80 0 1 0 -3.60 0M328.82 190.15m-1.80 0a1.80 1.80 0 1 0 3.60 0a1.80 1.80 0 1 0 -3.60 0M329.38 189.22m-1.80 0a1.80 1.80 0 1 0 3.60 0a1.80 1.80 0 1 0 -3.60 0M329.94 191.00m-1.80 0a1.80 1.80 0 1 0 3.60 0a1.80 1.80 0 1 0 -3.60 0M330.50 190.16m-1.80 0a1.80 1.80 0 1 0 3.60 0a1.80 1.80 0 1 0 -3.60 0M331.06 190.82m-1.80 0a1.80 1.80 0 1 0 3.60 0a1.80 1.80 0 1 0 -3.60 0M331.62 191.64m-1.80 0a1.80 1.80 0 1 0 3.60 0a1.80 1.80 0 1 0 -3.60 0M332.18 191.20m-1.80 0a1.80 1.80 0 1 0 3.60 0a1.80 1.80 0 1 0 -3.60 0M332.74 189.80m-1.80 0a1.80 1.80 0 1 0 3.60 0a1.80 1.80 0 1 0 -3.60 0M333.30 190.99m-1.80 0a1.80 1.80 0 1 0 3.60 0a1.80 1.80 0 1 0 -3.60 0M333.86 191.15m-1.80 0a1.80 1.80 0 1 0 3.60 0a1.80 1.80 0 1 0 -3.60 0M334.42 189.99m-1.80 0a1.80 1.80 0 1 0 3.60 0a1.80 1.80 0 1 0 -3.60 0M334.98 189.85m-1.80 0a1.80 1.80 0 1 0 3.60 0a1.80 1.80 0 1 0 -3.60 0M335.54 190.34m-1.80 0a1.80 1.80 0 1 0 3.60 0a1.80 1.80 0 1 0 -3.60 0M336.10 189.43m-1.80 0a1.80 1.80 0 1 0 3.60 0a1.80 1.80 0 1 0 -3.60 0M336.66 191.25m-1.80 0a1.80 1.80 0 1 0 3.60 0a1.80 1.80 0 1 0 -3.60 0M337.22 188.91m-1.80 0a1.80 1.80 0 1 0 3.60 0a1.80 1.80 0 1 0 -3.60 0M337.78 189.66m-1.80 0a1.80 1.80 0 1 0 3.60 0a1.80 1.80 0 1 0 -3.60 0M338.34 190.14m-1.80 0a1.80 1.80 0 1 0 3.60 0a1.80 1.80 0 1 0 -3.60 0M338.90 190.14m-1.80 0a1.80 1.80 0 1 0 3.60 0a1.80 1.80 0 1 0 -3.60 0M339.46 190.35m-1.80 0a1.80 1.80 0 1 0 3.60 0a1.80 1.80 0 1 0 -3.60 0M340.02 190.39m-1.80 0a1.80 1.80 0 1 0 3.60 0a1.80 1.80 0 1 0 -3.60 0M340.58 190.07m-1.80 0a1.80 1.80 0 1 0 3.60 0a1.80 1.80 0 1 0 -3.60 0M341.14 190.85m-1.80 0a1.80 1.80 0 1 0 3.60 0a1.80 1.80 0 1 0 -3.60 0M341.70 188.85m-1.80 0a1.80 1.80 0 1 0 3.60 0a1.80 1.80 0 1 0 -3.60 0M342.26 190.10m-1.80 0a1.80 1.80 0 1 0 3.60 0a1.80 1.80 0 1 0 -3.60 0M342.82 189.64m-1.80 0a1.80 1.80 0 1 0 3.60 0a1.80 1.80 0 1 0 -3.60 0M343.38 190.11m-1.80 0a1.80 1.80 0 1 0 3.60 0a1.80 1.80 0 1 0 -3.60 0M343.94 190.11m-1.80 0a1.80 1.80 0 1 0 3.60 0a1.80 1.80 0 1 0 -3.60 0M344.50 189.39m-1.80 0a1.80 1.80 0 1 0 3.60 0a1.80 1.80 0 1 0 -3.60 0M345.06 189.50m-1.80 0a1.80 1.80 0 1 0 3.60 0a1.80 1.80 0 1 0 -3.60 0M345.62 190.30m-1.80 0a1.80 1.80 0 1 0 3.60 0a1.80 1.80 0 1 0 -3.60 0M346.18 189.97m-1.80 0a1.80 1.80 0 1 0 3.60 0a1.80 1.80 0 1 0 -3.60 0M346.74 189.29m-1.80 0a1.80 1.80 0 1 0 3.60 0a1.80 1.80 0 1 0 -3.60 0M347.30 190.84m-1.80 0a1.80 1.80 0 1 0 3.60 0a1.80 1.80 0 1 0 -3.60 0M347.86 190.91m-1.80 0a1.80 1.80 0 1 0 3.60 0a1.80 1.80 0 1 0 -3.60 0M348.42 188.55m-1.80 0a1.80 1.80 0 1 0 3.60 0a1.80 1.80 0 1 0 -3.60 0M348.98 189.49m-1.80 0a1.80 1.80 0 1 0 3.60 0a1.80 1.80 0 1 0 -3.60 0M349.54 190.68m-1.80 0a1.80 1.80 0 1 0 3.60 0a1.80 1.80 0 1 0 -3.60 0M350.10 189.49m-1.80 0a1.80 1.80 0 1 0 3.60 0a1.80 1.80 0 1 0 -3.60 0M350.66 188.97m-1.80 0a1.80 1.80 0 1 0 3.60 0a1.80 1.80 0 1 0 -3.60 0M351.22 188.50m-1.80 0a1.80 1.80 0 1 0 3.60 0a1.80 1.80 0 1 0 -3.60 0M351.78 188.05m-1.80 0a1.80 1.80 0 1 0 3.60 0a1.80 1.80 0 1 0 -3.60 0M352.34 187.97m-1.80 0a1.80 1.80 0 1 0 3.60 0a1.80 1.80 0 1 0 -3.60 0M352.90 187.43m-1.80 0a1.80 1.80 0 1 0 3.60 0a1.80 1.80 0 1 0 -3.60 0M353.46 187.83m-1.80 0a1.80 1.80 0 1 0 3.60 0a1.80 1.80 0 1 0 -3.60 0M354.02 186.70m-1.80 0a1.80 1.80 0 1 0 3.60 0a1.80 1.80 0 1 0 -3.60 0M354.58 186.16m-1.80 0a1.80 1.80 0 1 0 3.60 0a1.80 1.80 0 1 0 -3.60 0M355.14 185.12m-1.80 0a1.80 1.80 0 1 0 3.60 0a1.80 1.80 0 1 0 -3.60 0M355.70 185.14m-1.80 0a1.80 1.80 0 1 0 3.60 0a1.80 1.80 0 1 0 -3.60 0M356.26 183.88m-1.80 0a1.80 1.80 0 1 0 3.60 0a1.80 1.80 0 1 0 -3.60 0M356.82 183.46m-1.80 0a1.80 1.80 0 1 0 3.60 0a1.80 1.80 0 1 0 -3.60 0M357.38 183.25m-1.80 0a1.80 1.80 0 1 0 3.60 0a1.80 1.80 0 1 0 -3.60 0M357.94 181.79m-1.80 0a1.80 1.80 0 1 0 3.60 0a1.80 1.80 0 1 0 -3.60 0M358.50 180.72m-1.80 0a1.80 1.80 0 1 0 3.60 0a1.80 1.80 0 1 0 -3.60 0M359.06 179.37m-1.80 0a1.80 1.80 0 1 0 3.60 0a1.80 1.80 0 1 0 -3.60 0M359.62 177.82m-1.80 0a1.80 1.80 0 1 0 3.60 0a1.80 1.80 0 1 0 -3.60 0M360.18 176.24m-1.80 0a1.80 1.80 0 1 0 3.60 0a1.80 1.80 0 1 0 -3.60 0M360.74 174.56m-1.80 0a1.80 1.80 0 1 0 3.60 0a1.80 1.80 0 1 0 -3.60 0M361.30 173.55m-1.80 0a1.80 1.80 0 1 0 3.60 0a1.80 1.80 0 1 0 -3.60 0M361.86 170.71m-1.80 0a1.80 1.80 0 1 0 3.60 0a1.80 1.80 0 1 0 -3.60 0M362.42 170.37m-1.80 0a1.80 1.80 0 1 0 3.60 0a1.80 1.80 0 1 0 -3.60 0M362.98 167.74m-1.80 0a1.80 1.80 0 1 0 3.60 0a1.80 1.80 0 1 0 -3.60 0M363.54 165.39m-1.80 0a1.80 1.80 0 1 0 3.60 0a1.80 1.80 0 1 0 -3.60 0M364.10 163.64m-1.80 0a1.80 1.80 0 1 0 3.60 0a1.80 1.80 0 1 0 -3.60 0M364.66 161.60m-1.80 0a1.80 1.80 0 1 0 3.60 0a1.80 1.80 0 1 0 -3.60 0M365.22 160.18m-1.80 0a1.80 1.80 0 1 0 3.60 0a1.80 1.80 0 1 0 -3.60 0M365.78 157.72m-1.80 0a1.80 1.80 0 1 0 3.60 0a1.80 1.80 0 1 0 -3.60 0M366.34 156.89m-1.80 0a1.80 1.80 0 1 0 3.60 0a1.80 1.80 0 1 0 -3.60 0M366.90 153.77m-1.80 0a1.80 1.80 0 1 0 3.60 0a1.80 1.80 0 1 0 -3.60 0M367.46 150.88m-1.80 0a1.80 1.80 0 1 0 3.60 0a1.80 1.80 0 1 0 -3.60 0M368.02 149.73m-1.80 0a1.80 1.80 0 1 0 3.60 0a1.80 1.80 0 1 0 -3.60 0M368.58 146.80m-1.80 0a1.80 1.80 0 1 0 3.60 0a1.80 1.80 0 1 0 -3.60 0M369.14 145.70m-1.80 0a1.80 1.80 0 1 0 3.60 0a1.80 1.80 0 1 0 -3.60 0M369.70 143.96m-1.80 0a1.80 1.80 0 1 0 3.60 0a1.80 1.80 0 1 0 -3.60 0M370.26 141.19m-1.80 0a1.80 1.80 0 1 0 3.60 0a1.80 1.80 0 1 0 -3.60 0M370.82 137.39m-1.80 0a1.80 1.80 0 1 0 3.60 0a1.80 1.80 0 1 0 -3.60 0M371.38 135.13m-1.80 0a1.80 1.80 0 1 0 3.60 0a1.80 1.80 0 1 0 -3.60 0M371.94 134.16m-1.80 0a1.80 1.80 0 1 0 3.60 0a1.80 1.80 0 1 0 -3.60 0M372.50 131.08m-1.80 0a1.80 1.80 0 1 0 3.60 0a1.80 1.80 0 1 0 -3.60 0M373.06 129.18m-1.80 0a1.80 1.80 0 1 0 3.60 0a1.80 1.80 0 1 0 -3.60 0M373.62 128.85m-1.80 0a1.80 1.80 0 1 0 3.60 0a1.80 1.80 0 1 0 -3.60 0M374.18 129.72m-1.80 0a1.80 1.80 0 1 0 3.60 0a1.80 1.80 0 1 0 -3.60 0M374.74 130.22m-1.80 0a1.80 1.80 0 1 0 3.60 0a1.80 1.80 0 1 0 -3.60 0M375.30 131.93m-1.80 0a1.80 1.80 0 1 0 3.60 0a1.80 1.80 0 1 0 -3.60 0M375.86 135.56m-1.80 0a1.80 1.80 0 1 0 3.60 0a1.80 1.80 0 1 0 -3.60 0M376.42 140.08m-1.80 0a1.80 1.80 0 1 0 3.60 0a1.80 1.80 0 1 0 -3.60 0M376.98 144.25m-1.80 0a1.80 1.80 0 1 0 3.60 0a1.80 1.80 0 1 0 -3.60 0M377.54 149.16m-1.80 0a1.80 1.80 0 1 0 3.60 0a1.80 1.80 0 1 0 -3.60 0M378.10 155.00m-1.80 0a1.80 1.80 0 1 0 3.60 0a1.80 1.80 0 1 0 -3.60 0M378.66 159.38m-1.80 0a1.80 1.80 0 1 0 3.60 0a1.80 1.80 0 1 0 -3.60 0M379.22 164.54m-1.80 0a1.80 1.80 0 1 0 3.60 0a1.80 1.80 0 1 0 -3.60 0M379.78 168.81m-1.80 0a1.80 1.80 0 1 0 3.60 0a1.80 1.80 0 1 0 -3.60 0M380.34 173.82m-1.80 0a1.80 1.80 0 1 0 3.60 0a1.80 1.80 0 1 0 -3.60 0M380.90 175.05m-1.80 0a1.80 1.80 0 1 0 3.60 0a1.80 1.80 0 1 0 -3.60 0M381.46 178.13m-1.80 0a1.80 1.80 0 1 0 3.60 0a1.80 1.80 0 1 0 -3.60 0M382.02 180.28m-1.80 0a1.80 1.80 0 1 0 3.60 0a1.80 1.80 0 1 0 -3.60 0M382.58 182.41m-1.80 0a1.80 1.80 0 1 0 3.60 0a1.80 1.80 0 1 0 -3.60 0M383.14 184.21m-1.80 0a1.80 1.80 0 1 0 3.60 0a1.80 1.80 0 1 0 -3.60 0M383.70 184.42m-1.80 0a1.80 1.80 0 1 0 3.60 0a1.80 1.80 0 1 0 -3.60 0M384.26 185.13m-1.80 0a1.80 1.80 0 1 0 3.60 0a1.80 1.80 0 1 0 -3.60 0M384.82 185.36m-1.80 0a1.80 1.80 0 1 0 3.60 0a1.80 1.80 0 1 0 -3.60 0M385.38 186.37m-1.80 0a1.80 1.80 0 1 0 3.60 0a1.80 1.80 0 1 0 -3.60 0M385.94 187.72m-1.80 0a1.80 1.80 0 1 0 3.60 0a1.80 1.80 0 1 0 -3.60 0M386.50 187.81m-1.80 0a1.80 1.80 0 1 0 3.60 0a1.80 1.80 0 1 0 -3.60 0M387.06 187.50m-1.80 0a1.80 1.80 0 1 0 3.60 0a1.80 1.80 0 1 0 -3.60 0M387.62 188.15m-1.80 0a1.80 1.80 0 1 0 3.60 0a1.80 1.80 0 1 0 -3.60 0M388.18 188.62m-1.80 0a1.80 1.80 0 1 0 3.60 0a1.80 1.80 0 1 0 -3.60 0M388.74 189.10m-1.80 0a1.80 1.80 0 1 0 3.60 0a1.80 1.80 0 1 0 -3.60 0M389.30 188.62m-1.80 0a1.80 1.80 0 1 0 3.60 0a1.80 1.80 0 1 0 -3.60 0M389.86 188.97m-1.80 0a1.80 1.80 0 1 0 3.60 0a1.80 1.80 0 1 0 -3.60 0M390.42 188.16m-1.80 0a1.80 1.80 0 1 0 3.60 0a1.80 1.80 0 1 0 -3.60 0M390.98 188.68m-1.80 0a1.80 1.80 0 1 0 3.60 0a1.80 1.80 0 1 0 -3.60 0M391.54 190.44m-1.80 0a1.80 1.80 0 1 0 3.60 0a1.80 1.80 0 1 0 -3.60 0M392.10 188.26m-1.80 0a1.80 1.80 0 1 0 3.60 0a1.80 1.80 0 1 0 -3.60 0M392.66 189.45m-1.80 0a1.80 1.80 0 1 0 3.60 0a1.80 1.80 0 1 0 -3.60 0M393.22 189.86m-1.80 0a1.80 1.80 0 1 0 3.60 0a1.80 1.80 0 1 0 -3.60 0M393.78 189.58m-1.80 0a1.80 1.80 0 1 0 3.60 0a1.80 1.80 0 1 0 -3.60 0M394.34 189.38m-1.80 0a1.80 1.80 0 1 0 3.60 0a1.80 1.80 0 1 0 -3.60 0M394.90 189.89m-1.80 0a1.80 1.80 0 1 0 3.60 0a1.80 1.80 0 1 0 -3.60 0M395.46 189.98m-1.80 0a1.80 1.80 0 1 0 3.60 0a1.80 1.80 0 1 0 -3.60 0M396.02 189.99m-1.80 0a1.80 1.80 0 1 0 3.60 0a1.80 1.80 0 1 0 -3.60 0M396.58 188.96m-1.80 0a1.80 1.80 0 1 0 3.60 0a1.80 1.80 0 1 0 -3.60 0M397.14 190.04m-1.80 0a1.80 1.80 0 1 0 3.60 0a1.80 1.80 0 1 0 -3.60 0M397.70 189.66m-1.80 0a1.80 1.80 0 1 0 3.60 0a1.80 1.80 0 1 0 -3.60 0M398.26 189.89m-1.80 0a1.80 1.80 0 1 0 3.60 0a1.80 1.80 0 1 0 -3.60 0M398.82 190.39m-1.80 0a1.80 1.80 0 1 0 3.60 0a1.80 1.80 0 1 0 -3.60 0M399.38 190.67m-1.80 0a1.80 1.80 0 1 0 3.60 0a1.80 1.80 0 1 0 -3.60 0M399.94 190.86m-1.80 0a1.80 1.80 0 1 0 3.60 0a1.80 1.80 0 1 0 -3.60 0M400.50 190.06m-1.80 0a1.80 1.80 0 1 0 3.60 0a1.80 1.80 0 1 0 -3.60 0M401.06 190.94m-1.80 0a1.80 1.80 0 1 0 3.60 0a1.80 1.80 0 1 0 -3.60 0M401.62 191.12m-1.80 0a1.80 1.80 0 1 0 3.60 0a1.80 1.80 0 1 0 -3.60 0M402.18 191.12m-1.80 0a1.80 1.80 0 1 0 3.60 0a1.80 1.80 0 1 0 -3.60 0M402.74 191.30m-1.80 0a1.80 1.80 0 1 0 3.60 0a1.80 1.80 0 1 0 -3.60 0M403.30 190.41m-1.80 0a1.80 1.80 0 1 0 3.60 0a1.80 1.80 0 1 0 -3.60 0M403.86 190.41m-1.80 0a1.80 1.80 0 1 0 3.60 0a1.80 1.80 0 1 0 -3.60 0M404.42 191.04m-1.80 0a1.80 1.80 0 1 0 3.60 0a1.80 1.80 0 1 0 -3.60 0M404.98 189.74m-1.80 0a1.80 1.80 0 1 0 3.60 0a1.80 1.80 0 1 0 -3.60 0M405.54 190.71m-1.80 0a1.80 1.80 0 1 0 3.60 0a1.80 1.80 0 1 0 -3.60 0M406.10 190.28m-1.80 0a1.80 1.80 0 1 0 3.60 0a1.80 1.80 0 1 0 -3.60 0M406.66 190.40m-1.80 0a1.80 1.80 0 1 0 3.60 0a1.80 1.80 0 1 0 -3.60 0M407.22 189.60m-1.80 0a1.80 1.80 0 1 0 3.60 0a1.80 1.80 0 1 0 -3.60 0M407.78 190.12m-1.80 0a1.80 1.80 0 1 0 3.60 0a1.80 1.80 0 1 0 -3.60 0M408.34 190.66m-1.80 0a1.80 1.80 0 1 0 3.60 0a1.80 1.80 0 1 0 -3.60 0M408.90 191.22m-1.80 0a1.80 1.80 0 1 0 3.60 0a1.80 1.80 0 1 0 -3.60 0M409.46 191.30m-1.80 0a1.80 1.80 0 1 0 3.60 0a1.80 1.80 0 1 0 -3.60 0M410.02 190.67m-1.80 0a1.80 1.80 0 1 0 3.60 0a1.80 1.80 0 1 0 -3.60 0M410.58 190.62m-1.80 0a1.80 1.80 0 1 0 3.60 0a1.80 1.80 0 1 0 -3.60 0" fill="none" stroke="#b8090e" stroke-width="1.15"/>
<path d="M324.90 191.00L325.46 191.00L326.02 191.00L326.58 191.00L327.14 191.01L327.70 191.01L328.26 191.01L328.82 191.01L329.38 191.01L329.94 191.01L330.50 191.01L331.06 191.01L331.62 191.02L332.18 191.02L332.74 191.02L333.30 191.02L333.86 191.02L334.42 191.02L334.98 191.02L335.54 191.02L336.10 191.03L336.66 191.03L337.22 191.03L337.78 191.03L338.34 191.03L338.90 191.03L339.46 191.03L340.02 191.04L340.58 191.04L341.14 191.04L341.70 191.04L342.26 191.04L342.82 191.04L343.38 191.04L343.94 191.04L344.50 191.05L345.06 191.05L345.62 191.05L346.18 191.05L346.74 191.05L347.30 191.05L347.86 191.05L348.42 191.06L348.98 191.06L349.54 191.06L350.10 191.06L350.66 191.06L351.22 191.06L351.78 191.06L352.34 191.06L352.90 191.07L353.46 191.07L354.02 191.07L354.58 191.07L355.14 191.07L355.70 191.07L356.26 191.07L356.82 191.07L357.38 191.08L357.94 191.08L358.50 191.08L359.06 191.08L359.62 191.08L360.18 191.08L360.74 191.08L361.30 191.09L361.86 191.09L362.42 191.09L362.98 191.09L363.54 191.09L364.10 191.09L364.66 191.09L365.22 191.09L365.78 191.10L366.34 191.10L366.90 191.10L367.46 191.10L368.02 191.10L368.58 191.10L369.14 191.10L369.70 191.11L370.26 191.11L370.82 191.11L371.38 191.11L371.94 191.11L372.50 191.11L373.06 191.11L373.62 191.11L374.18 191.12L374.74 191.12L375.30 191.12L375.86 191.12L376.42 191.12L376.98 191.12L377.54 191.12L378.10 191.12L378.66 191.13L379.22 191.13L379.78 191.13L380.34 191.13L380.90 191.13L381.46 191.13L382.02 191.13L382.58 191.14L383.14 191.14L383.70 191.14L384.26 191.14L384.82 191.14L385.38 191.14L385.94 191.14L386.50 191.14L387.06 191.15L387.62 191.15L388.18 191.15L388.74 191.15L389.30 191.15L389.86 191.15L390.42 191.15L390.98 191.16L391.54 191.16L392.10 191.16L392.66 191.16L393.22 191.16L393.78 191.16L394.34 191.16L394.90 191.16L395.46 191.17L396.02 191.17L396.58 191.17L397.14 191.17L397.70 191.17L398.26 191.17L398.82 191.17L399.38 191.18L399.94 191.18L400.50 191.18L401.06 191.18L401.62 191.18L402.18 191.18L402.74 191.18L403.30 191.18L403.86 191.19L404.42 191.19L404.98 191.19L405.54 191.19L406.10 191.19L406.66 191.19L407.22 191.19L407.78 191.19L408.34 191.20L408.90 191.20L409.46 191.20L410.02 191.20L410.58 191.20" fill="none" stroke="#ec8088" stroke-width="0.80" stroke-linejoin="round"/>
<path d="M324.90 190.92L325.46 190.92L326.02 190.92L326.58 190.92L327.14 190.92L327.70 190.92L328.26 190.92L328.82 190.92L329.38 190.92L329.94 190.92L330.50 190.92L331.06 190.91L331.62 190.91L332.18 190.91L332.74 190.91L333.30 190.91L333.86 190.91L334.42 190.90L334.98 190.90L335.54 190.90L336.10 190.90L336.66 190.90L337.22 190.89L337.78 190.89L338.34 190.89L338.90 190.88L339.46 190.88L340.02 190.88L340.58 190.87L341.14 190.87L341.70 190.87L342.26 190.86L342.82 190.86L343.38 190.85L343.94 190.85L344.50 190.84L345.06 190.83L345.62 190.83L346.18 190.82L346.74 190.81L347.30 190.80L347.86 190.79L348.42 190.78L348.98 190.77L349.54 190.76L350.10 190.75L350.66 190.74L351.22 190.72L351.78 190.71L352.34 190.69L352.90 190.67L353.46 190.66L354.02 190.64L354.58 190.61L355.14 190.59L355.70 190.56L356.26 190.53L356.82 190.50L357.38 190.47L357.94 190.43L358.50 190.39L359.06 190.34L359.62 190.29L360.18 190.23L360.74 190.17L361.30 190.09L361.86 190.00L362.42 189.90L362.98 189.76L363.54 189.60L364.10 189.38L364.66 189.09L365.22 188.71L365.78 188.20L366.34 187.51L366.90 186.59L367.46 185.40L368.02 183.88L368.58 181.98L369.14 179.67L369.70 176.94L370.26 173.81L370.82 170.34L371.38 166.63L371.94 162.85L372.50 159.20L373.06 155.92L373.62 153.31L374.18 151.64L374.74 151.12L375.30 151.82L375.86 153.64L376.42 156.36L376.98 159.71L377.54 163.40L378.10 167.19L378.66 170.87L379.22 174.30L379.78 177.38L380.34 180.06L380.90 182.31L381.46 184.15L382.02 185.63L382.58 186.78L383.14 187.66L383.70 188.32L384.26 188.82L384.82 189.19L385.38 189.47L385.94 189.68L386.50 189.84L387.06 189.97L387.62 190.08L388.18 190.17L388.74 190.24L389.30 190.31L389.86 190.37L390.42 190.42L390.98 190.47L391.54 190.52L392.10 190.56L392.66 190.59L393.22 190.63L393.78 190.66L394.34 190.69L394.90 190.71L395.46 190.74L396.02 190.76L396.58 190.78L397.14 190.80L397.70 190.82L398.26 190.84L398.82 190.85L399.38 190.87L399.94 190.88L400.50 190.90L401.06 190.91L401.62 190.92L402.18 190.93L402.74 190.94L403.30 190.95L403.86 190.96L404.42 190.97L404.98 190.98L405.54 190.99L406.10 191.00L406.66 191.01L407.22 191.01L407.78 191.02L408.34 191.03L408.90 191.04L409.46 191.04L410.02 191.05L410.58 191.05" fill="none" stroke="#16e016" stroke-width="1.40" stroke-linejoin="round"/>
<path d="M324.90 190.71L325.46 190.70L326.02 190.70L326.58 190.69L327.14 190.68L327.70 190.68L328.26 190.67L328.82 190.66L329.38 190.65L329.94 190.65L330.50 190.64L331.06 190.63L331.62 190.62L332.18 190.61L332.74 190.60L333.30 190.58L333.86 190.57L334.42 190.56L334.98 190.55L335.54 190.53L336.10 190.52L336.66 190.50L337.22 190.48L337.78 190.47L338.34 190.45L338.90 190.43L339.46 190.41L340.02 190.39L340.58 190.36L341.14 190.34L341.70 190.31L342.26 190.28L342.82 190.25L343.38 190.22L343.94 190.18L344.50 190.14L345.06 190.10L345.62 190.05L346.18 190.00L346.74 189.94L347.30 189.87L347.86 189.79L348.42 189.70L348.98 189.59L349.54 189.47L350.10 189.33L350.66 189.16L351.22 188.96L351.78 188.73L352.34 188.47L352.90 188.15L353.46 187.79L354.02 187.37L354.58 186.88L355.14 186.32L355.70 185.68L356.26 184.96L356.82 184.14L357.38 183.23L357.94 182.22L358.50 181.11L359.06 179.89L359.62 178.57L360.18 177.16L360.74 175.66L361.30 174.09L361.86 172.44L362.42 170.76L362.98 169.04L363.54 167.33L364.10 165.64L364.66 164.01L365.22 162.46L365.78 161.05L366.34 159.80L366.90 158.75L367.46 157.94L368.02 157.39L368.58 157.13L369.14 157.16L369.70 157.49L370.26 158.10L370.82 158.96L371.38 160.06L371.94 161.35L372.50 162.80L373.06 164.37L373.62 166.02L374.18 167.72L374.74 169.44L375.30 171.15L375.86 172.83L376.42 174.47L376.98 176.03L377.54 177.51L378.10 178.91L378.66 180.20L379.22 181.40L379.78 182.50L380.34 183.49L380.90 184.38L381.46 185.18L382.02 185.89L382.58 186.51L383.14 187.06L383.70 187.53L384.26 187.94L384.82 188.30L385.38 188.61L385.94 188.87L386.50 189.09L387.06 189.28L387.62 189.45L388.18 189.59L388.74 189.71L389.30 189.81L389.86 189.90L390.42 189.98L390.98 190.05L391.54 190.12L392.10 190.17L392.66 190.22L393.22 190.27L393.78 190.31L394.34 190.35L394.90 190.38L395.46 190.41L396.02 190.44L396.58 190.47L397.14 190.50L397.70 190.53L398.26 190.55L398.82 190.57L399.38 190.60L399.94 190.62L400.50 190.64L401.06 190.66L401.62 190.67L402.18 190.69L402.74 190.71L403.30 190.72L403.86 190.74L404.42 190.75L404.98 190.77L405.54 190.78L406.10 190.79L406.66 190.81L407.22 190.82L407.78 190.83L408.34 190.84L408.90 190.85L409.46 190.86L410.02 190.87L410.58 190.88" fill="none" stroke="#2a2ac8" stroke-width="1.40" stroke-linejoin="round"/>
<path d="M324.90 190.63L325.46 190.63L326.02 190.62L326.58 190.61L327.14 190.60L327.70 190.59L328.26 190.58L328.82 190.57L329.38 190.56L329.94 190.55L330.50 190.54L331.06 190.53L331.62 190.51L332.18 190.50L332.74 190.49L333.30 190.47L333.86 190.46L334.42 190.44L334.98 190.42L335.54 190.41L336.10 190.39L336.66 190.37L337.22 190.35L337.78 190.33L338.34 190.30L338.90 190.28L339.46 190.26L340.02 190.23L340.58 190.20L341.14 190.17L341.70 190.14L342.26 190.10L342.82 190.07L343.38 190.03L343.94 189.98L344.50 189.94L345.06 189.88L345.62 189.83L346.18 189.76L346.74 189.69L347.30 189.62L347.86 189.53L348.42 189.42L348.98 189.31L349.54 189.17L350.10 189.02L350.66 188.84L351.22 188.62L351.78 188.38L352.34 188.09L352.90 187.76L353.46 187.38L354.02 186.93L354.58 186.42L355.14 185.84L355.70 185.17L356.26 184.42L356.82 183.57L357.38 182.62L357.94 181.57L358.50 180.42L359.06 179.15L359.62 177.78L360.18 176.31L360.74 174.75L361.30 173.09L361.86 171.36L362.42 169.57L362.98 167.72L363.54 165.84L364.10 163.93L364.66 162.01L365.22 160.08L365.78 158.15L366.34 156.21L366.90 154.24L367.46 152.24L368.02 150.17L368.58 148.01L369.14 145.73L369.70 143.32L370.26 140.80L370.82 138.20L371.38 135.59L371.94 133.10L372.50 130.89L373.06 129.18L373.62 128.22L374.18 128.25L374.74 129.44L375.30 131.85L375.86 135.35L376.42 139.71L376.98 144.62L377.54 149.79L378.10 154.97L378.66 159.95L379.22 164.58L379.78 168.75L380.34 172.42L380.90 175.56L381.46 178.20L382.02 180.38L382.58 182.15L383.14 183.58L383.70 184.72L384.26 185.62L384.82 186.35L385.38 186.93L385.94 187.40L386.50 187.79L387.06 188.11L387.62 188.38L388.18 188.61L388.74 188.80L389.30 188.97L389.86 189.12L390.42 189.25L390.98 189.37L391.54 189.47L392.10 189.57L392.66 189.65L393.22 189.73L393.78 189.80L394.34 189.87L394.90 189.93L395.46 189.98L396.02 190.04L396.58 190.09L397.14 190.13L397.70 190.17L398.26 190.21L398.82 190.25L399.38 190.29L399.94 190.32L400.50 190.36L401.06 190.39L401.62 190.41L402.18 190.44L402.74 190.47L403.30 190.49L403.86 190.52L404.42 190.54L404.98 190.56L405.54 190.58L406.10 190.60L406.66 190.62L407.22 190.64L407.78 190.66L408.34 190.67L408.90 190.69L409.46 190.71L410.02 190.72L410.58 190.73" fill="none" stroke="#19e3e8" stroke-width="1.40" stroke-linejoin="round"/>
<circle cx="319.00" cy="125.90" r="1.95" fill="none" stroke="#b8090e" stroke-width="1.3"/>
<text transform="translate(327.80 128.10) scale(1 1.06)" font-size="6.1" fill="#1a1a1a" stroke="#1a1a1a" stroke-width="0.1">Experiment</text>
<path d="M311.90 133.05H326.10" stroke="#ec8088" stroke-width="0.80"/>
<text transform="translate(327.80 135.25) scale(1 1.06)" font-size="6.1" fill="#1a1a1a" stroke="#1a1a1a" stroke-width="0.1">Background</text>
<path d="M311.90 140.20H326.10" stroke="#16e016" stroke-width="1.50"/>
<text transform="translate(327.80 142.40) scale(1 1.06)" font-size="6.1" fill="#1a1a1a" stroke="#1a1a1a" stroke-width="0.1">O<tspan font-size="3.9" dy="2.0">I</tspan></text>
<path d="M311.90 147.35H326.10" stroke="#2a2ac8" stroke-width="1.50"/>
<text transform="translate(327.80 149.55) scale(1 1.06)" font-size="6.1" fill="#1a1a1a" stroke="#1a1a1a" stroke-width="0.1">O<tspan font-size="3.9" dy="2.0">II</tspan></text>
<path d="M311.90 154.50H326.10" stroke="#19e3e8" stroke-width="1.50"/>
<text transform="translate(327.80 156.70) scale(1 1.06)" font-size="6.1" fill="#1a1a1a" stroke="#1a1a1a" stroke-width="0.1">Sum</text>
<path d="M446.80 88.74m-1.80 0a1.80 1.80 0 1 0 3.60 0a1.80 1.80 0 1 0 -3.60 0M447.23 88.94m-1.80 0a1.80 1.80 0 1 0 3.60 0a1.80 1.80 0 1 0 -3.60 0M447.66 88.86m-1.80 0a1.80 1.80 0 1 0 3.60 0a1.80 1.80 0 1 0 -3.60 0M448.09 89.01m-1.80 0a1.80 1.80 0 1 0 3.60 0a1.80 1.80 0 1 0 -3.60 0M448.52 89.21m-1.80 0a1.80 1.80 0 1 0 3.60 0a1.80 1.80 0 1 0 -3.60 0M448.95 88.96m-1.80 0a1.80 1.80 0 1 0 3.60 0a1.80 1.80 0 1 0 -3.60 0M449.38 88.76m-1.80 0a1.80 1.80 0 1 0 3.60 0a1.80 1.80 0 1 0 -3.60 0M449.81 88.88m-1.80 0a1.80 1.80 0 1 0 3.60 0a1.80 1.80 0 1 0 -3.60 0M450.24 88.81m-1.80 0a1.80 1.80 0 1 0 3.60 0a1.80 1.80 0 1 0 -3.60 0M450.67 88.88m-1.80 0a1.80 1.80 0 1 0 3.60 0a1.80 1.80 0 1 0 -3.60 0M451.10 89.27m-1.80 0a1.80 1.80 0 1 0 3.60 0a1.80 1.80 0 1 0 -3.60 0M451.53 89.13m-1.80 0a1.80 1.80 0 1 0 3.60 0a1.80 1.80 0 1 0 -3.60 0M451.96 88.89m-1.80 0a1.80 1.80 0 1 0 3.60 0a1.80 1.80 0 1 0 -3.60 0M452.39 89.24m-1.80 0a1.80 1.80 0 1 0 3.60 0a1.80 1.80 0 1 0 -3.60 0M452.82 89.35m-1.80 0a1.80 1.80 0 1 0 3.60 0a1.80 1.80 0 1 0 -3.60 0M453.25 89.13m-1.80 0a1.80 1.80 0 1 0 3.60 0a1.80 1.80 0 1 0 -3.60 0M453.68 89.11m-1.80 0a1.80 1.80 0 1 0 3.60 0a1.80 1.80 0 1 0 -3.60 0M454.11 89.18m-1.80 0a1.80 1.80 0 1 0 3.60 0a1.80 1.80 0 1 0 -3.60 0M454.54 89.30m-1.80 0a1.80 1.80 0 1 0 3.60 0a1.80 1.80 0 1 0 -3.60 0M454.97 89.37m-1.80 0a1.80 1.80 0 1 0 3.60 0a1.80 1.80 0 1 0 -3.60 0M455.40 89.48m-1.80 0a1.80 1.80 0 1 0 3.60 0a1.80 1.80 0 1 0 -3.60 0M455.83 89.50m-1.80 0a1.80 1.80 0 1 0 3.60 0a1.80 1.80 0 1 0 -3.60 0M456.26 89.52m-1.80 0a1.80 1.80 0 1 0 3.60 0a1.80 1.80 0 1 0 -3.60 0M456.69 89.57m-1.80 0a1.80 1.80 0 1 0 3.60 0a1.80 1.80 0 1 0 -3.60 0M457.12 89.49m-1.80 0a1.80 1.80 0 1 0 3.60 0a1.80 1.80 0 1 0 -3.60 0M457.55 89.18m-1.80 0a1.80 1.80 0 1 0 3.60 0a1.80 1.80 0 1 0 -3.60 0M457.98 89.41m-1.80 0a1.80 1.80 0 1 0 3.60 0a1.80 1.80 0 1 0 -3.60 0M458.41 89.50m-1.80 0a1.80 1.80 0 1 0 3.60 0a1.80 1.80 0 1 0 -3.60 0M458.84 89.42m-1.80 0a1.80 1.80 0 1 0 3.60 0a1.80 1.80 0 1 0 -3.60 0M459.27 89.63m-1.80 0a1.80 1.80 0 1 0 3.60 0a1.80 1.80 0 1 0 -3.60 0M459.70 89.46m-1.80 0a1.80 1.80 0 1 0 3.60 0a1.80 1.80 0 1 0 -3.60 0M460.13 89.40m-1.80 0a1.80 1.80 0 1 0 3.60 0a1.80 1.80 0 1 0 -3.60 0M460.56 89.78m-1.80 0a1.80 1.80 0 1 0 3.60 0a1.80 1.80 0 1 0 -3.60 0M460.99 89.68m-1.80 0a1.80 1.80 0 1 0 3.60 0a1.80 1.80 0 1 0 -3.60 0M461.42 89.64m-1.80 0a1.80 1.80 0 1 0 3.60 0a1.80 1.80 0 1 0 -3.60 0M461.85 89.77m-1.80 0a1.80 1.80 0 1 0 3.60 0a1.80 1.80 0 1 0 -3.60 0M462.28 89.81m-1.80 0a1.80 1.80 0 1 0 3.60 0a1.80 1.80 0 1 0 -3.60 0M462.71 89.72m-1.80 0a1.80 1.80 0 1 0 3.60 0a1.80 1.80 0 1 0 -3.60 0M463.14 89.32m-1.80 0a1.80 1.80 0 1 0 3.60 0a1.80 1.80 0 1 0 -3.60 0M463.57 89.61m-1.80 0a1.80 1.80 0 1 0 3.60 0a1.80 1.80 0 1 0 -3.60 0M464.00 89.67m-1.80 0a1.80 1.80 0 1 0 3.60 0a1.80 1.80 0 1 0 -3.60 0M464.43 89.61m-1.80 0a1.80 1.80 0 1 0 3.60 0a1.80 1.80 0 1 0 -3.60 0M464.86 89.81m-1.80 0a1.80 1.80 0 1 0 3.60 0a1.80 1.80 0 1 0 -3.60 0M465.29 89.98m-1.80 0a1.80 1.80 0 1 0 3.60 0a1.80 1.80 0 1 0 -3.60 0M465.72 89.75m-1.80 0a1.80 1.80 0 1 0 3.60 0a1.80 1.80 0 1 0 -3.60 0M466.15 89.67m-1.80 0a1.80 1.80 0 1 0 3.60 0a1.80 1.80 0 1 0 -3.60 0M466.58 90.17m-1.80 0a1.80 1.80 0 1 0 3.60 0a1.80 1.80 0 1 0 -3.60 0M467.01 89.82m-1.80 0a1.80 1.80 0 1 0 3.60 0a1.80 1.80 0 1 0 -3.60 0M467.44 89.72m-1.80 0a1.80 1.80 0 1 0 3.60 0a1.80 1.80 0 1 0 -3.60 0M467.87 89.96m-1.80 0a1.80 1.80 0 1 0 3.60 0a1.80 1.80 0 1 0 -3.60 0M468.30 90.01m-1.80 0a1.80 1.80 0 1 0 3.60 0a1.80 1.80 0 1 0 -3.60 0M468.73 89.86m-1.80 0a1.80 1.80 0 1 0 3.60 0a1.80 1.80 0 1 0 -3.60 0M469.16 90.11m-1.80 0a1.80 1.80 0 1 0 3.60 0a1.80 1.80 0 1 0 -3.60 0M469.59 89.94m-1.80 0a1.80 1.80 0 1 0 3.60 0a1.80 1.80 0 1 0 -3.60 0M470.02 89.89m-1.80 0a1.80 1.80 0 1 0 3.60 0a1.80 1.80 0 1 0 -3.60 0M470.45 90.07m-1.80 0a1.80 1.80 0 1 0 3.60 0a1.80 1.80 0 1 0 -3.60 0M470.88 90.18m-1.80 0a1.80 1.80 0 1 0 3.60 0a1.80 1.80 0 1 0 -3.60 0M471.31 89.98m-1.80 0a1.80 1.80 0 1 0 3.60 0a1.80 1.80 0 1 0 -3.60 0M471.74 90.14m-1.80 0a1.80 1.80 0 1 0 3.60 0a1.80 1.80 0 1 0 -3.60 0M472.17 90.09m-1.80 0a1.80 1.80 0 1 0 3.60 0a1.80 1.80 0 1 0 -3.60 0M472.60 90.54m-1.80 0a1.80 1.80 0 1 0 3.60 0a1.80 1.80 0 1 0 -3.60 0M473.03 90.02m-1.80 0a1.80 1.80 0 1 0 3.60 0a1.80 1.80 0 1 0 -3.60 0M473.46 90.35m-1.80 0a1.80 1.80 0 1 0 3.60 0a1.80 1.80 0 1 0 -3.60 0M473.89 90.15m-1.80 0a1.80 1.80 0 1 0 3.60 0a1.80 1.80 0 1 0 -3.60 0M474.32 90.15m-1.80 0a1.80 1.80 0 1 0 3.60 0a1.80 1.80 0 1 0 -3.60 0M474.75 90.29m-1.80 0a1.80 1.80 0 1 0 3.60 0a1.80 1.80 0 1 0 -3.60 0M475.18 90.33m-1.80 0a1.80 1.80 0 1 0 3.60 0a1.80 1.80 0 1 0 -3.60 0M475.61 90.40m-1.80 0a1.80 1.80 0 1 0 3.60 0a1.80 1.80 0 1 0 -3.60 0M476.04 90.28m-1.80 0a1.80 1.80 0 1 0 3.60 0a1.80 1.80 0 1 0 -3.60 0M476.47 90.15m-1.80 0a1.80 1.80 0 1 0 3.60 0a1.80 1.80 0 1 0 -3.60 0M476.90 90.17m-1.80 0a1.80 1.80 0 1 0 3.60 0a1.80 1.80 0 1 0 -3.60 0M477.33 90.34m-1.80 0a1.80 1.80 0 1 0 3.60 0a1.80 1.80 0 1 0 -3.60 0M477.76 90.36m-1.80 0a1.80 1.80 0 1 0 3.60 0a1.80 1.80 0 1 0 -3.60 0M478.19 90.50m-1.80 0a1.80 1.80 0 1 0 3.60 0a1.80 1.80 0 1 0 -3.60 0M478.62 90.37m-1.80 0a1.80 1.80 0 1 0 3.60 0a1.80 1.80 0 1 0 -3.60 0M479.05 90.47m-1.80 0a1.80 1.80 0 1 0 3.60 0a1.80 1.80 0 1 0 -3.60 0M479.48 90.56m-1.80 0a1.80 1.80 0 1 0 3.60 0a1.80 1.80 0 1 0 -3.60 0M479.91 90.36m-1.80 0a1.80 1.80 0 1 0 3.60 0a1.80 1.80 0 1 0 -3.60 0M480.34 90.13m-1.80 0a1.80 1.80 0 1 0 3.60 0a1.80 1.80 0 1 0 -3.60 0M480.77 90.19m-1.80 0a1.80 1.80 0 1 0 3.60 0a1.80 1.80 0 1 0 -3.60 0M481.20 90.16m-1.80 0a1.80 1.80 0 1 0 3.60 0a1.80 1.80 0 1 0 -3.60 0M481.63 90.62m-1.80 0a1.80 1.80 0 1 0 3.60 0a1.80 1.80 0 1 0 -3.60 0M482.06 90.27m-1.80 0a1.80 1.80 0 1 0 3.60 0a1.80 1.80 0 1 0 -3.60 0M482.49 90.59m-1.80 0a1.80 1.80 0 1 0 3.60 0a1.80 1.80 0 1 0 -3.60 0M482.92 90.51m-1.80 0a1.80 1.80 0 1 0 3.60 0a1.80 1.80 0 1 0 -3.60 0M483.35 90.69m-1.80 0a1.80 1.80 0 1 0 3.60 0a1.80 1.80 0 1 0 -3.60 0M483.78 90.59m-1.80 0a1.80 1.80 0 1 0 3.60 0a1.80 1.80 0 1 0 -3.60 0M484.21 90.43m-1.80 0a1.80 1.80 0 1 0 3.60 0a1.80 1.80 0 1 0 -3.60 0M484.64 90.43m-1.80 0a1.80 1.80 0 1 0 3.60 0a1.80 1.80 0 1 0 -3.60 0M485.07 90.48m-1.80 0a1.80 1.80 0 1 0 3.60 0a1.80 1.80 0 1 0 -3.60 0M485.50 90.50m-1.80 0a1.80 1.80 0 1 0 3.60 0a1.80 1.80 0 1 0 -3.60 0M485.93 90.41m-1.80 0a1.80 1.80 0 1 0 3.60 0a1.80 1.80 0 1 0 -3.60 0M486.36 90.49m-1.80 0a1.80 1.80 0 1 0 3.60 0a1.80 1.80 0 1 0 -3.60 0M486.79 90.74m-1.80 0a1.80 1.80 0 1 0 3.60 0a1.80 1.80 0 1 0 -3.60 0M487.22 90.25m-1.80 0a1.80 1.80 0 1 0 3.60 0a1.80 1.80 0 1 0 -3.60 0M487.65 90.55m-1.80 0a1.80 1.80 0 1 0 3.60 0a1.80 1.80 0 1 0 -3.60 0M488.08 90.38m-1.80 0a1.80 1.80 0 1 0 3.60 0a1.80 1.80 0 1 0 -3.60 0M488.51 90.55m-1.80 0a1.80 1.80 0 1 0 3.60 0a1.80 1.80 0 1 0 -3.60 0M488.94 90.66m-1.80 0a1.80 1.80 0 1 0 3.60 0a1.80 1.80 0 1 0 -3.60 0M489.37 90.53m-1.80 0a1.80 1.80 0 1 0 3.60 0a1.80 1.80 0 1 0 -3.60 0M489.80 90.65m-1.80 0a1.80 1.80 0 1 0 3.60 0a1.80 1.80 0 1 0 -3.60 0M490.23 90.30m-1.80 0a1.80 1.80 0 1 0 3.60 0a1.80 1.80 0 1 0 -3.60 0M490.66 90.71m-1.80 0a1.80 1.80 0 1 0 3.60 0a1.80 1.80 0 1 0 -3.60 0M491.09 90.45m-1.80 0a1.80 1.80 0 1 0 3.60 0a1.80 1.80 0 1 0 -3.60 0M491.52 90.64m-1.80 0a1.80 1.80 0 1 0 3.60 0a1.80 1.80 0 1 0 -3.60 0M491.95 90.57m-1.80 0a1.80 1.80 0 1 0 3.60 0a1.80 1.80 0 1 0 -3.60 0M492.38 90.15m-1.80 0a1.80 1.80 0 1 0 3.60 0a1.80 1.80 0 1 0 -3.60 0M492.81 90.42m-1.80 0a1.80 1.80 0 1 0 3.60 0a1.80 1.80 0 1 0 -3.60 0M493.24 90.56m-1.80 0a1.80 1.80 0 1 0 3.60 0a1.80 1.80 0 1 0 -3.60 0M493.67 90.76m-1.80 0a1.80 1.80 0 1 0 3.60 0a1.80 1.80 0 1 0 -3.60 0M494.10 90.56m-1.80 0a1.80 1.80 0 1 0 3.60 0a1.80 1.80 0 1 0 -3.60 0M494.53 90.54m-1.80 0a1.80 1.80 0 1 0 3.60 0a1.80 1.80 0 1 0 -3.60 0M494.96 90.28m-1.80 0a1.80 1.80 0 1 0 3.60 0a1.80 1.80 0 1 0 -3.60 0M495.39 90.69m-1.80 0a1.80 1.80 0 1 0 3.60 0a1.80 1.80 0 1 0 -3.60 0M495.82 90.73m-1.80 0a1.80 1.80 0 1 0 3.60 0a1.80 1.80 0 1 0 -3.60 0M496.25 90.44m-1.80 0a1.80 1.80 0 1 0 3.60 0a1.80 1.80 0 1 0 -3.60 0M496.68 90.38m-1.80 0a1.80 1.80 0 1 0 3.60 0a1.80 1.80 0 1 0 -3.60 0M497.11 90.14m-1.80 0a1.80 1.80 0 1 0 3.60 0a1.80 1.80 0 1 0 -3.60 0M497.54 90.48m-1.80 0a1.80 1.80 0 1 0 3.60 0a1.80 1.80 0 1 0 -3.60 0M497.97 90.72m-1.80 0a1.80 1.80 0 1 0 3.60 0a1.80 1.80 0 1 0 -3.60 0M498.40 90.37m-1.80 0a1.80 1.80 0 1 0 3.60 0a1.80 1.80 0 1 0 -3.60 0M498.83 90.40m-1.80 0a1.80 1.80 0 1 0 3.60 0a1.80 1.80 0 1 0 -3.60 0M499.26 90.22m-1.80 0a1.80 1.80 0 1 0 3.60 0a1.80 1.80 0 1 0 -3.60 0M499.69 89.91m-1.80 0a1.80 1.80 0 1 0 3.60 0a1.80 1.80 0 1 0 -3.60 0M500.12 90.15m-1.80 0a1.80 1.80 0 1 0 3.60 0a1.80 1.80 0 1 0 -3.60 0M500.55 89.65m-1.80 0a1.80 1.80 0 1 0 3.60 0a1.80 1.80 0 1 0 -3.60 0M500.98 89.64m-1.80 0a1.80 1.80 0 1 0 3.60 0a1.80 1.80 0 1 0 -3.60 0M501.41 89.50m-1.80 0a1.80 1.80 0 1 0 3.60 0a1.80 1.80 0 1 0 -3.60 0M501.84 89.31m-1.80 0a1.80 1.80 0 1 0 3.60 0a1.80 1.80 0 1 0 -3.60 0M502.27 88.87m-1.80 0a1.80 1.80 0 1 0 3.60 0a1.80 1.80 0 1 0 -3.60 0M502.70 88.39m-1.80 0a1.80 1.80 0 1 0 3.60 0a1.80 1.80 0 1 0 -3.60 0M503.13 87.62m-1.80 0a1.80 1.80 0 1 0 3.60 0a1.80 1.80 0 1 0 -3.60 0M503.56 86.80m-1.80 0a1.80 1.80 0 1 0 3.60 0a1.80 1.80 0 1 0 -3.60 0M503.99 86.09m-1.80 0a1.80 1.80 0 1 0 3.60 0a1.80 1.80 0 1 0 -3.60 0M504.42 84.90m-1.80 0a1.80 1.80 0 1 0 3.60 0a1.80 1.80 0 1 0 -3.60 0M504.85 83.54m-1.80 0a1.80 1.80 0 1 0 3.60 0a1.80 1.80 0 1 0 -3.60 0M505.28 82.07m-1.80 0a1.80 1.80 0 1 0 3.60 0a1.80 1.80 0 1 0 -3.60 0M505.71 80.49m-1.80 0a1.80 1.80 0 1 0 3.60 0a1.80 1.80 0 1 0 -3.60 0M506.14 78.36m-1.80 0a1.80 1.80 0 1 0 3.60 0a1.80 1.80 0 1 0 -3.60 0M506.57 76.23m-1.80 0a1.80 1.80 0 1 0 3.60 0a1.80 1.80 0 1 0 -3.60 0M507.00 73.69m-1.80 0a1.80 1.80 0 1 0 3.60 0a1.80 1.80 0 1 0 -3.60 0M507.43 71.11m-1.80 0a1.80 1.80 0 1 0 3.60 0a1.80 1.80 0 1 0 -3.60 0M507.86 67.91m-1.80 0a1.80 1.80 0 1 0 3.60 0a1.80 1.80 0 1 0 -3.60 0M508.29 64.45m-1.80 0a1.80 1.80 0 1 0 3.60 0a1.80 1.80 0 1 0 -3.60 0M508.72 59.74m-1.80 0a1.80 1.80 0 1 0 3.60 0a1.80 1.80 0 1 0 -3.60 0M509.15 55.19m-1.80 0a1.80 1.80 0 1 0 3.60 0a1.80 1.80 0 1 0 -3.60 0M509.58 50.39m-1.80 0a1.80 1.80 0 1 0 3.60 0a1.80 1.80 0 1 0 -3.60 0M510.01 45.06m-1.80 0a1.80 1.80 0 1 0 3.60 0a1.80 1.80 0 1 0 -3.60 0M510.44 40.16m-1.80 0a1.80 1.80 0 1 0 3.60 0a1.80 1.80 0 1 0 -3.60 0M510.87 36.38m-1.80 0a1.80 1.80 0 1 0 3.60 0a1.80 1.80 0 1 0 -3.60 0M511.30 33.42m-1.80 0a1.80 1.80 0 1 0 3.60 0a1.80 1.80 0 1 0 -3.60 0M511.73 32.60m-1.80 0a1.80 1.80 0 1 0 3.60 0a1.80 1.80 0 1 0 -3.60 0M512.16 34.12m-1.80 0a1.80 1.80 0 1 0 3.60 0a1.80 1.80 0 1 0 -3.60 0M512.59 38.00m-1.80 0a1.80 1.80 0 1 0 3.60 0a1.80 1.80 0 1 0 -3.60 0M513.02 43.21m-1.80 0a1.80 1.80 0 1 0 3.60 0a1.80 1.80 0 1 0 -3.60 0M513.45 49.14m-1.80 0a1.80 1.80 0 1 0 3.60 0a1.80 1.80 0 1 0 -3.60 0M513.88 55.72m-1.80 0a1.80 1.80 0 1 0 3.60 0a1.80 1.80 0 1 0 -3.60 0M514.31 62.33m-1.80 0a1.80 1.80 0 1 0 3.60 0a1.80 1.80 0 1 0 -3.60 0M514.74 68.22m-1.80 0a1.80 1.80 0 1 0 3.60 0a1.80 1.80 0 1 0 -3.60 0M515.17 73.19m-1.80 0a1.80 1.80 0 1 0 3.60 0a1.80 1.80 0 1 0 -3.60 0M515.60 77.71m-1.80 0a1.80 1.80 0 1 0 3.60 0a1.80 1.80 0 1 0 -3.60 0M516.03 81.19m-1.80 0a1.80 1.80 0 1 0 3.60 0a1.80 1.80 0 1 0 -3.60 0M516.46 83.55m-1.80 0a1.80 1.80 0 1 0 3.60 0a1.80 1.80 0 1 0 -3.60 0M516.89 85.82m-1.80 0a1.80 1.80 0 1 0 3.60 0a1.80 1.80 0 1 0 -3.60 0M517.32 87.44m-1.80 0a1.80 1.80 0 1 0 3.60 0a1.80 1.80 0 1 0 -3.60 0M517.75 88.38m-1.80 0a1.80 1.80 0 1 0 3.60 0a1.80 1.80 0 1 0 -3.60 0M518.18 88.93m-1.80 0a1.80 1.80 0 1 0 3.60 0a1.80 1.80 0 1 0 -3.60 0M518.61 89.77m-1.80 0a1.80 1.80 0 1 0 3.60 0a1.80 1.80 0 1 0 -3.60 0M519.04 90.34m-1.80 0a1.80 1.80 0 1 0 3.60 0a1.80 1.80 0 1 0 -3.60 0M519.47 90.78m-1.80 0a1.80 1.80 0 1 0 3.60 0a1.80 1.80 0 1 0 -3.60 0M519.90 90.46m-1.80 0a1.80 1.80 0 1 0 3.60 0a1.80 1.80 0 1 0 -3.60 0M520.33 91.38m-1.80 0a1.80 1.80 0 1 0 3.60 0a1.80 1.80 0 1 0 -3.60 0M520.76 90.97m-1.80 0a1.80 1.80 0 1 0 3.60 0a1.80 1.80 0 1 0 -3.60 0M521.19 91.42m-1.80 0a1.80 1.80 0 1 0 3.60 0a1.80 1.80 0 1 0 -3.60 0M521.62 91.58m-1.80 0a1.80 1.80 0 1 0 3.60 0a1.80 1.80 0 1 0 -3.60 0M522.05 91.64m-1.80 0a1.80 1.80 0 1 0 3.60 0a1.80 1.80 0 1 0 -3.60 0M522.48 91.61m-1.80 0a1.80 1.80 0 1 0 3.60 0a1.80 1.80 0 1 0 -3.60 0M522.91 91.50m-1.80 0a1.80 1.80 0 1 0 3.60 0a1.80 1.80 0 1 0 -3.60 0M523.34 91.84m-1.80 0a1.80 1.80 0 1 0 3.60 0a1.80 1.80 0 1 0 -3.60 0M523.77 91.71m-1.80 0a1.80 1.80 0 1 0 3.60 0a1.80 1.80 0 1 0 -3.60 0M524.20 91.51m-1.80 0a1.80 1.80 0 1 0 3.60 0a1.80 1.80 0 1 0 -3.60 0M524.63 92.37m-1.80 0a1.80 1.80 0 1 0 3.60 0a1.80 1.80 0 1 0 -3.60 0M525.06 92.11m-1.80 0a1.80 1.80 0 1 0 3.60 0a1.80 1.80 0 1 0 -3.60 0M525.49 92.32m-1.80 0a1.80 1.80 0 1 0 3.60 0a1.80 1.80 0 1 0 -3.60 0M525.92 91.96m-1.80 0a1.80 1.80 0 1 0 3.60 0a1.80 1.80 0 1 0 -3.60 0M526.35 92.36m-1.80 0a1.80 1.80 0 1 0 3.60 0a1.80 1.80 0 1 0 -3.60 0M526.78 92.42m-1.80 0a1.80 1.80 0 1 0 3.60 0a1.80 1.80 0 1 0 -3.60 0M527.21 92.46m-1.80 0a1.80 1.80 0 1 0 3.60 0a1.80 1.80 0 1 0 -3.60 0M527.64 92.26m-1.80 0a1.80 1.80 0 1 0 3.60 0a1.80 1.80 0 1 0 -3.60 0M528.07 92.12m-1.80 0a1.80 1.80 0 1 0 3.60 0a1.80 1.80 0 1 0 -3.60 0M528.50 92.31m-1.80 0a1.80 1.80 0 1 0 3.60 0a1.80 1.80 0 1 0 -3.60 0M528.93 92.03m-1.80 0a1.80 1.80 0 1 0 3.60 0a1.80 1.80 0 1 0 -3.60 0M529.36 92.14m-1.80 0a1.80 1.80 0 1 0 3.60 0a1.80 1.80 0 1 0 -3.60 0M529.79 92.44m-1.80 0a1.80 1.80 0 1 0 3.60 0a1.80 1.80 0 1 0 -3.60 0M530.22 92.30m-1.80 0a1.80 1.80 0 1 0 3.60 0a1.80 1.80 0 1 0 -3.60 0M530.65 92.45m-1.80 0a1.80 1.80 0 1 0 3.60 0a1.80 1.80 0 1 0 -3.60 0M531.08 92.49m-1.80 0a1.80 1.80 0 1 0 3.60 0a1.80 1.80 0 1 0 -3.60 0M531.51 92.82m-1.80 0a1.80 1.80 0 1 0 3.60 0a1.80 1.80 0 1 0 -3.60 0M531.94 92.75m-1.80 0a1.80 1.80 0 1 0 3.60 0a1.80 1.80 0 1 0 -3.60 0M532.37 92.57m-1.80 0a1.80 1.80 0 1 0 3.60 0a1.80 1.80 0 1 0 -3.60 0M532.80 92.78m-1.80 0a1.80 1.80 0 1 0 3.60 0a1.80 1.80 0 1 0 -3.60 0M533.23 92.49m-1.80 0a1.80 1.80 0 1 0 3.60 0a1.80 1.80 0 1 0 -3.60 0" fill="none" stroke="#b8090e" stroke-width="1.15"/>
<path d="M446.80 90.90L447.23 90.90L447.66 90.91L448.09 90.91L448.52 90.91L448.95 90.92L449.38 90.92L449.81 90.93L450.24 90.93L450.67 90.93L451.10 90.94L451.53 90.94L451.96 90.95L452.39 90.95L452.82 90.95L453.25 90.96L453.68 90.96L454.11 90.97L454.54 90.97L454.97 90.98L455.40 90.98L455.83 90.98L456.26 90.99L456.69 90.99L457.12 91.00L457.55 91.00L457.98 91.00L458.41 91.01L458.84 91.01L459.27 91.02L459.70 91.02L460.13 91.02L460.56 91.03L460.99 91.03L461.42 91.04L461.85 91.04L462.28 91.04L462.71 91.05L463.14 91.05L463.57 91.06L464.00 91.06L464.43 91.06L464.86 91.07L465.29 91.07L465.72 91.08L466.15 91.08L466.58 91.08L467.01 91.09L467.44 91.09L467.87 91.10L468.30 91.10L468.73 91.11L469.16 91.11L469.59 91.11L470.02 91.12L470.45 91.12L470.88 91.13L471.31 91.13L471.74 91.13L472.17 91.14L472.60 91.14L473.03 91.15L473.46 91.15L473.89 91.15L474.32 91.16L474.75 91.16L475.18 91.17L475.61 91.17L476.04 91.17L476.47 91.18L476.90 91.18L477.33 91.19L477.76 91.19L478.19 91.19L478.62 91.20L479.05 91.20L479.48 91.21L479.91 91.21L480.34 91.21L480.77 91.22L481.20 91.22L481.63 91.23L482.06 91.23L482.49 91.23L482.92 91.24L483.35 91.24L483.78 91.25L484.21 91.25L484.64 91.26L485.07 91.26L485.50 91.26L485.93 91.27L486.36 91.27L486.79 91.28L487.22 91.28L487.65 91.28L488.08 91.29L488.51 91.29L488.94 91.30L489.37 91.30L489.80 91.30L490.23 91.31L490.66 91.31L491.09 91.32L491.52 91.32L491.95 91.32L492.38 91.33L492.81 91.33L493.24 91.34L493.67 91.34L494.10 91.34L494.53 91.35L494.96 91.35L495.39 91.36L495.82 91.36L496.25 91.36L496.68 91.37L497.11 91.37L497.54 91.38L497.97 91.38L498.40 91.38L498.83 91.39L499.26 91.39L499.69 91.40L500.12 91.41L500.55 91.43L500.98 91.46L501.41 91.48L501.84 91.51L502.27 91.54L502.70 91.56L503.13 91.59L503.56 91.61L503.99 91.64L504.42 91.67L504.85 91.69L505.28 91.72L505.71 91.74L506.14 91.77L506.57 91.79L507.00 91.82L507.43 91.85L507.86 91.87L508.29 91.90L508.72 91.92L509.15 91.95L509.58 91.97L510.01 92.00L510.44 92.03L510.87 92.05L511.30 92.08L511.73 92.10L512.16 92.13L512.59 92.16L513.02 92.18L513.45 92.21L513.88 92.23L514.31 92.26L514.74 92.28L515.17 92.31L515.60 92.34L516.03 92.36L516.46 92.39L516.89 92.41L517.32 92.44L517.75 92.46L518.18 92.49L518.61 92.52L519.04 92.54L519.47 92.57L519.90 92.59L520.33 92.61L520.76 92.62L521.19 92.63L521.62 92.64L522.05 92.65L522.48 92.66L522.91 92.67L523.34 92.68L523.77 92.69L524.20 92.70L524.63 92.71L525.06 92.72L525.49 92.73L525.92 92.74L526.35 92.75L526.78 92.76L527.21 92.77L527.64 92.78L528.07 92.79L528.50 92.80L528.93 92.81L529.36 92.82L529.79 92.83L530.22 92.84L530.65 92.85L531.08 92.86L531.51 92.87L531.94 92.88L532.37 92.89L532.80 92.90L533.23 92.90" fill="none" stroke="#ec8088" stroke-width="0.80" stroke-linejoin="round"/>
<path d="M446.80 90.87L447.23 90.88L447.66 90.88L448.09 90.88L448.52 90.89L448.95 90.89L449.38 90.89L449.81 90.90L450.24 90.90L450.67 90.90L451.10 90.91L451.53 90.91L451.96 90.92L452.39 90.92L452.82 90.92L453.25 90.93L453.68 90.93L454.11 90.93L454.54 90.94L454.97 90.94L455.40 90.94L455.83 90.95L456.26 90.95L456.69 90.95L457.12 90.96L457.55 90.96L457.98 90.96L458.41 90.97L458.84 90.97L459.27 90.97L459.70 90.98L460.13 90.98L460.56 90.98L460.99 90.99L461.42 90.99L461.85 90.99L462.28 91.00L462.71 91.00L463.14 91.00L463.57 91.01L464.00 91.01L464.43 91.01L464.86 91.02L465.29 91.02L465.72 91.02L466.15 91.03L466.58 91.03L467.01 91.03L467.44 91.04L467.87 91.04L468.30 91.04L468.73 91.04L469.16 91.05L469.59 91.05L470.02 91.05L470.45 91.06L470.88 91.06L471.31 91.06L471.74 91.06L472.17 91.07L472.60 91.07L473.03 91.07L473.46 91.07L473.89 91.08L474.32 91.08L474.75 91.08L475.18 91.08L475.61 91.08L476.04 91.09L476.47 91.09L476.90 91.09L477.33 91.09L477.76 91.09L478.19 91.09L478.62 91.10L479.05 91.10L479.48 91.10L479.91 91.10L480.34 91.10L480.77 91.10L481.20 91.10L481.63 91.10L482.06 91.10L482.49 91.10L482.92 91.10L483.35 91.10L483.78 91.10L484.21 91.10L484.64 91.10L485.07 91.10L485.50 91.10L485.93 91.10L486.36 91.10L486.79 91.10L487.22 91.09L487.65 91.09L488.08 91.09L488.51 91.09L488.94 91.08L489.37 91.08L489.80 91.07L490.23 91.07L490.66 91.06L491.09 91.06L491.52 91.05L491.95 91.04L492.38 91.03L492.81 91.02L493.24 91.01L493.67 91.00L494.10 90.99L494.53 90.98L494.96 90.96L495.39 90.95L495.82 90.93L496.25 90.91L496.68 90.89L497.11 90.86L497.54 90.84L497.97 90.81L498.40 90.78L498.83 90.74L499.26 90.70L499.69 90.66L500.12 90.62L500.55 90.58L500.98 90.54L501.41 90.50L501.84 90.44L502.27 90.37L502.70 90.29L503.13 90.19L503.56 90.06L503.99 89.89L504.42 89.67L504.85 89.36L505.28 88.92L505.71 88.29L506.14 87.39L506.57 86.11L507.00 84.34L507.43 81.96L507.86 78.84L508.29 74.92L508.72 70.19L509.15 64.73L509.58 58.73L510.01 52.52L510.44 46.57L510.87 41.47L511.30 37.86L511.73 36.34L512.16 37.16L512.59 40.19L513.02 44.93L513.45 50.73L513.88 56.96L514.31 63.12L514.74 68.84L515.17 73.87L515.60 78.11L516.03 81.54L516.46 84.20L516.89 86.21L517.32 87.68L517.75 88.75L518.18 89.51L518.61 90.05L519.04 90.45L519.47 90.75L519.90 90.98L520.33 91.16L520.76 91.31L521.19 91.43L521.62 91.54L522.05 91.63L522.48 91.72L522.91 91.80L523.34 91.87L523.77 91.93L524.20 91.99L524.63 92.05L525.06 92.10L525.49 92.14L525.92 92.19L526.35 92.23L526.78 92.27L527.21 92.30L527.64 92.34L528.07 92.37L528.50 92.40L528.93 92.43L529.36 92.46L529.79 92.48L530.22 92.51L530.65 92.53L531.08 92.56L531.51 92.58L531.94 92.60L532.37 92.62L532.80 92.64L533.23 92.66" fill="none" stroke="#16e016" stroke-width="1.40" stroke-linejoin="round"/>
<path d="M446.80 90.89L447.23 90.89L447.66 90.90L448.09 90.90L448.52 90.91L448.95 90.91L449.38 90.91L449.81 90.92L450.24 90.92L450.67 90.93L451.10 90.93L451.53 90.93L451.96 90.94L452.39 90.94L452.82 90.95L453.25 90.95L453.68 90.95L454.11 90.96L454.54 90.96L454.97 90.96L455.40 90.97L455.83 90.97L456.26 90.98L456.69 90.98L457.12 90.98L457.55 90.99L457.98 90.99L458.41 91.00L458.84 91.00L459.27 91.00L459.70 91.01L460.13 91.01L460.56 91.01L460.99 91.02L461.42 91.02L461.85 91.03L462.28 91.03L462.71 91.03L463.14 91.04L463.57 91.04L464.00 91.04L464.43 91.05L464.86 91.05L465.29 91.06L465.72 91.06L466.15 91.06L466.58 91.07L467.01 91.07L467.44 91.07L467.87 91.08L468.30 91.08L468.73 91.09L469.16 91.09L469.59 91.09L470.02 91.10L470.45 91.10L470.88 91.10L471.31 91.11L471.74 91.11L472.17 91.11L472.60 91.12L473.03 91.12L473.46 91.12L473.89 91.13L474.32 91.13L474.75 91.13L475.18 91.14L475.61 91.14L476.04 91.14L476.47 91.15L476.90 91.15L477.33 91.15L477.76 91.16L478.19 91.16L478.62 91.16L479.05 91.17L479.48 91.17L479.91 91.17L480.34 91.18L480.77 91.18L481.20 91.18L481.63 91.18L482.06 91.19L482.49 91.19L482.92 91.19L483.35 91.19L483.78 91.20L484.21 91.20L484.64 91.20L485.07 91.20L485.50 91.20L485.93 91.21L486.36 91.21L486.79 91.21L487.22 91.21L487.65 91.21L488.08 91.21L488.51 91.21L488.94 91.21L489.37 91.21L489.80 91.21L490.23 91.21L490.66 91.21L491.09 91.21L491.52 91.21L491.95 91.21L492.38 91.21L492.81 91.21L493.24 91.20L493.67 91.20L494.10 91.19L494.53 91.19L494.96 91.18L495.39 91.17L495.82 91.17L496.25 91.16L496.68 91.14L497.11 91.13L497.54 91.11L497.97 91.10L498.40 91.07L498.83 91.04L499.26 91.00L499.69 90.95L500.12 90.89L500.55 90.82L500.98 90.71L501.41 90.56L501.84 90.34L502.27 90.06L502.70 89.67L503.13 89.19L503.56 88.58L503.99 87.86L504.42 87.02L504.85 86.07L505.28 85.06L505.71 84.02L506.14 83.01L506.57 82.12L507.00 81.41L507.43 80.98L507.86 80.88L508.29 81.12L508.72 81.69L509.15 82.51L509.58 83.50L510.01 84.58L510.44 85.66L510.87 86.71L511.30 87.68L511.73 88.55L512.16 89.29L512.59 89.91L513.02 90.42L513.45 90.82L513.88 91.14L514.31 91.39L514.74 91.58L515.17 91.72L515.60 91.84L516.03 91.93L516.46 92.01L516.89 92.08L517.32 92.13L517.75 92.19L518.18 92.23L518.61 92.28L519.04 92.32L519.47 92.36L519.90 92.40L520.33 92.43L520.76 92.45L521.19 92.47L521.62 92.49L522.05 92.51L522.48 92.52L522.91 92.54L523.34 92.56L523.77 92.57L524.20 92.59L524.63 92.61L525.06 92.62L525.49 92.63L525.92 92.65L526.35 92.66L526.78 92.68L527.21 92.69L527.64 92.70L528.07 92.72L528.50 92.73L528.93 92.74L529.36 92.75L529.79 92.77L530.22 92.78L530.65 92.79L531.08 92.80L531.51 92.81L531.94 92.83L532.37 92.84L532.80 92.85L533.23 92.85" fill="none" stroke="#2a2ac8" stroke-width="1.40" stroke-linejoin="round"/>
<path d="M446.80 90.87L447.23 90.87L447.66 90.87L448.09 90.87L448.52 90.88L448.95 90.88L449.38 90.88L449.81 90.89L450.24 90.89L450.67 90.90L451.10 90.90L451.53 90.90L451.96 90.91L452.39 90.91L452.82 90.91L453.25 90.92L453.68 90.92L454.11 90.92L454.54 90.93L454.97 90.93L455.40 90.93L455.83 90.94L456.26 90.94L456.69 90.94L457.12 90.95L457.55 90.95L457.98 90.95L458.41 90.96L458.84 90.96L459.27 90.96L459.70 90.97L460.13 90.97L460.56 90.97L460.99 90.97L461.42 90.98L461.85 90.98L462.28 90.98L462.71 90.99L463.14 90.99L463.57 90.99L464.00 91.00L464.43 91.00L464.86 91.00L465.29 91.00L465.72 91.01L466.15 91.01L466.58 91.01L467.01 91.01L467.44 91.02L467.87 91.02L468.30 91.02L468.73 91.02L469.16 91.03L469.59 91.03L470.02 91.03L470.45 91.03L470.88 91.04L471.31 91.04L471.74 91.04L472.17 91.04L472.60 91.04L473.03 91.05L473.46 91.05L473.89 91.05L474.32 91.05L474.75 91.05L475.18 91.05L475.61 91.06L476.04 91.06L476.47 91.06L476.90 91.06L477.33 91.06L477.76 91.06L478.19 91.06L478.62 91.06L479.05 91.06L479.48 91.06L479.91 91.06L480.34 91.06L480.77 91.06L481.20 91.06L481.63 91.06L482.06 91.06L482.49 91.06L482.92 91.06L483.35 91.06L483.78 91.05L484.21 91.05L484.64 91.05L485.07 91.05L485.50 91.04L485.93 91.04L486.36 91.03L486.79 91.03L487.22 91.03L487.65 91.02L488.08 91.01L488.51 91.01L488.94 91.00L489.37 90.99L489.80 90.98L490.23 90.97L490.66 90.96L491.09 90.95L491.52 90.94L491.95 90.93L492.38 90.91L492.81 90.90L493.24 90.88L493.67 90.86L494.10 90.84L494.53 90.82L494.96 90.79L495.39 90.76L495.82 90.73L496.25 90.70L496.68 90.66L497.11 90.62L497.54 90.58L497.97 90.52L498.40 90.46L498.83 90.39L499.26 90.31L499.69 90.21L500.12 90.10L500.55 89.97L500.98 89.80L501.41 89.57L501.84 89.27L502.27 88.89L502.70 88.40L503.13 87.79L503.56 87.03L503.99 86.11L504.42 85.02L504.85 83.74L505.28 82.26L505.71 80.57L506.14 78.63L506.57 76.43L507.00 73.93L507.43 71.09L507.86 67.85L508.29 64.15L508.72 59.96L509.15 55.29L509.58 50.25L510.01 45.10L510.44 40.21L510.87 36.13L511.30 33.47L511.73 32.78L512.16 34.32L512.59 37.95L513.02 43.17L513.45 49.34L513.88 55.87L514.31 62.25L514.74 68.13L515.17 73.29L515.60 77.62L516.03 81.11L516.46 83.82L516.89 85.87L517.32 87.38L517.75 88.47L518.18 89.25L518.61 89.81L519.04 90.23L519.47 90.54L519.90 90.79L520.33 90.98L520.76 91.14L521.19 91.27L521.62 91.39L522.05 91.49L522.48 91.59L522.91 91.67L523.34 91.75L523.77 91.82L524.20 91.89L524.63 91.94L525.06 92.00L525.49 92.05L525.92 92.10L526.35 92.14L526.78 92.19L527.21 92.23L527.64 92.26L528.07 92.30L528.50 92.33L528.93 92.36L529.36 92.39L529.79 92.42L530.22 92.45L530.65 92.48L531.08 92.50L531.51 92.53L531.94 92.55L532.37 92.57L532.80 92.60L533.23 92.61" fill="none" stroke="#19e3e8" stroke-width="1.40" stroke-linejoin="round"/>
<circle cx="446.90" cy="23.40" r="1.95" fill="none" stroke="#b8090e" stroke-width="1.3"/>
<text transform="translate(455.80 25.60) scale(1 1.06)" font-size="6.1" fill="#1a1a1a" stroke="#1a1a1a" stroke-width="0.1">Experiment</text>
<path d="M440.00 30.55H453.80" stroke="#ec8088" stroke-width="0.80"/>
<text transform="translate(455.80 32.75) scale(1 1.06)" font-size="6.1" fill="#1a1a1a" stroke="#1a1a1a" stroke-width="0.1">Background</text>
<path d="M440.00 37.70H453.80" stroke="#16e016" stroke-width="1.50"/>
<text transform="translate(455.80 39.90) scale(1 1.06)" font-size="6.1" fill="#1a1a1a" stroke="#1a1a1a" stroke-width="0.1">Comp 1</text>
<path d="M440.00 44.85H453.80" stroke="#2a2ac8" stroke-width="1.50"/>
<text transform="translate(455.80 47.05) scale(1 1.06)" font-size="6.1" fill="#1a1a1a" stroke="#1a1a1a" stroke-width="0.1">Comp 2</text>
<path d="M440.00 52.00H453.80" stroke="#19e3e8" stroke-width="1.50"/>
<text transform="translate(455.80 54.20) scale(1 1.06)" font-size="6.1" fill="#1a1a1a" stroke="#1a1a1a" stroke-width="0.1">Sum</text>
<path d="M447.50 181.31m-1.85 0a1.85 1.85 0 1 0 3.70 0a1.85 1.85 0 1 0 -3.70 0M447.93 182.94m-1.85 0a1.85 1.85 0 1 0 3.70 0a1.85 1.85 0 1 0 -3.70 0M448.36 180.14m-1.85 0a1.85 1.85 0 1 0 3.70 0a1.85 1.85 0 1 0 -3.70 0M448.79 181.40m-1.85 0a1.85 1.85 0 1 0 3.70 0a1.85 1.85 0 1 0 -3.70 0M449.22 180.05m-1.85 0a1.85 1.85 0 1 0 3.70 0a1.85 1.85 0 1 0 -3.70 0M449.65 181.92m-1.85 0a1.85 1.85 0 1 0 3.70 0a1.85 1.85 0 1 0 -3.70 0M450.08 183.90m-1.85 0a1.85 1.85 0 1 0 3.70 0a1.85 1.85 0 1 0 -3.70 0M450.51 180.80m-1.85 0a1.85 1.85 0 1 0 3.70 0a1.85 1.85 0 1 0 -3.70 0M450.94 182.08m-1.85 0a1.85 1.85 0 1 0 3.70 0a1.85 1.85 0 1 0 -3.70 0M451.37 180.62m-1.85 0a1.85 1.85 0 1 0 3.70 0a1.85 1.85 0 1 0 -3.70 0M451.80 180.30m-1.85 0a1.85 1.85 0 1 0 3.70 0a1.85 1.85 0 1 0 -3.70 0M452.23 180.19m-1.85 0a1.85 1.85 0 1 0 3.70 0a1.85 1.85 0 1 0 -3.70 0M452.66 183.69m-1.85 0a1.85 1.85 0 1 0 3.70 0a1.85 1.85 0 1 0 -3.70 0M453.09 184.87m-1.85 0a1.85 1.85 0 1 0 3.70 0a1.85 1.85 0 1 0 -3.70 0M453.52 182.43m-1.85 0a1.85 1.85 0 1 0 3.70 0a1.85 1.85 0 1 0 -3.70 0M453.95 180.88m-1.85 0a1.85 1.85 0 1 0 3.70 0a1.85 1.85 0 1 0 -3.70 0M454.38 182.73m-1.85 0a1.85 1.85 0 1 0 3.70 0a1.85 1.85 0 1 0 -3.70 0M454.81 181.38m-1.85 0a1.85 1.85 0 1 0 3.70 0a1.85 1.85 0 1 0 -3.70 0M455.24 182.86m-1.85 0a1.85 1.85 0 1 0 3.70 0a1.85 1.85 0 1 0 -3.70 0M455.67 182.20m-1.85 0a1.85 1.85 0 1 0 3.70 0a1.85 1.85 0 1 0 -3.70 0M456.10 182.19m-1.85 0a1.85 1.85 0 1 0 3.70 0a1.85 1.85 0 1 0 -3.70 0M456.53 182.62m-1.85 0a1.85 1.85 0 1 0 3.70 0a1.85 1.85 0 1 0 -3.70 0M456.96 181.08m-1.85 0a1.85 1.85 0 1 0 3.70 0a1.85 1.85 0 1 0 -3.70 0M457.39 181.31m-1.85 0a1.85 1.85 0 1 0 3.70 0a1.85 1.85 0 1 0 -3.70 0M457.82 179.61m-1.85 0a1.85 1.85 0 1 0 3.70 0a1.85 1.85 0 1 0 -3.70 0M458.25 181.27m-1.85 0a1.85 1.85 0 1 0 3.70 0a1.85 1.85 0 1 0 -3.70 0M458.68 180.00m-1.85 0a1.85 1.85 0 1 0 3.70 0a1.85 1.85 0 1 0 -3.70 0M459.11 181.67m-1.85 0a1.85 1.85 0 1 0 3.70 0a1.85 1.85 0 1 0 -3.70 0M459.54 180.61m-1.85 0a1.85 1.85 0 1 0 3.70 0a1.85 1.85 0 1 0 -3.70 0M459.97 181.99m-1.85 0a1.85 1.85 0 1 0 3.70 0a1.85 1.85 0 1 0 -3.70 0M460.40 182.45m-1.85 0a1.85 1.85 0 1 0 3.70 0a1.85 1.85 0 1 0 -3.70 0M460.83 180.02m-1.85 0a1.85 1.85 0 1 0 3.70 0a1.85 1.85 0 1 0 -3.70 0M461.26 180.81m-1.85 0a1.85 1.85 0 1 0 3.70 0a1.85 1.85 0 1 0 -3.70 0M461.69 180.65m-1.85 0a1.85 1.85 0 1 0 3.70 0a1.85 1.85 0 1 0 -3.70 0M462.12 182.85m-1.85 0a1.85 1.85 0 1 0 3.70 0a1.85 1.85 0 1 0 -3.70 0M462.55 184.10m-1.85 0a1.85 1.85 0 1 0 3.70 0a1.85 1.85 0 1 0 -3.70 0M462.98 182.99m-1.85 0a1.85 1.85 0 1 0 3.70 0a1.85 1.85 0 1 0 -3.70 0M463.41 181.43m-1.85 0a1.85 1.85 0 1 0 3.70 0a1.85 1.85 0 1 0 -3.70 0M463.84 183.79m-1.85 0a1.85 1.85 0 1 0 3.70 0a1.85 1.85 0 1 0 -3.70 0M464.27 179.92m-1.85 0a1.85 1.85 0 1 0 3.70 0a1.85 1.85 0 1 0 -3.70 0M464.70 183.84m-1.85 0a1.85 1.85 0 1 0 3.70 0a1.85 1.85 0 1 0 -3.70 0M465.13 181.05m-1.85 0a1.85 1.85 0 1 0 3.70 0a1.85 1.85 0 1 0 -3.70 0M465.56 178.29m-1.85 0a1.85 1.85 0 1 0 3.70 0a1.85 1.85 0 1 0 -3.70 0M465.99 185.35m-1.85 0a1.85 1.85 0 1 0 3.70 0a1.85 1.85 0 1 0 -3.70 0M466.42 183.96m-1.85 0a1.85 1.85 0 1 0 3.70 0a1.85 1.85 0 1 0 -3.70 0M466.85 180.57m-1.85 0a1.85 1.85 0 1 0 3.70 0a1.85 1.85 0 1 0 -3.70 0M467.28 182.13m-1.85 0a1.85 1.85 0 1 0 3.70 0a1.85 1.85 0 1 0 -3.70 0M467.71 181.63m-1.85 0a1.85 1.85 0 1 0 3.70 0a1.85 1.85 0 1 0 -3.70 0M468.14 182.05m-1.85 0a1.85 1.85 0 1 0 3.70 0a1.85 1.85 0 1 0 -3.70 0M468.57 179.99m-1.85 0a1.85 1.85 0 1 0 3.70 0a1.85 1.85 0 1 0 -3.70 0M469.00 181.03m-1.85 0a1.85 1.85 0 1 0 3.70 0a1.85 1.85 0 1 0 -3.70 0M469.43 182.53m-1.85 0a1.85 1.85 0 1 0 3.70 0a1.85 1.85 0 1 0 -3.70 0M469.86 182.21m-1.85 0a1.85 1.85 0 1 0 3.70 0a1.85 1.85 0 1 0 -3.70 0M470.29 183.48m-1.85 0a1.85 1.85 0 1 0 3.70 0a1.85 1.85 0 1 0 -3.70 0M470.72 182.03m-1.85 0a1.85 1.85 0 1 0 3.70 0a1.85 1.85 0 1 0 -3.70 0M471.15 184.98m-1.85 0a1.85 1.85 0 1 0 3.70 0a1.85 1.85 0 1 0 -3.70 0M471.58 181.00m-1.85 0a1.85 1.85 0 1 0 3.70 0a1.85 1.85 0 1 0 -3.70 0M472.01 182.27m-1.85 0a1.85 1.85 0 1 0 3.70 0a1.85 1.85 0 1 0 -3.70 0M472.44 179.44m-1.85 0a1.85 1.85 0 1 0 3.70 0a1.85 1.85 0 1 0 -3.70 0M472.87 180.30m-1.85 0a1.85 1.85 0 1 0 3.70 0a1.85 1.85 0 1 0 -3.70 0M473.30 183.66m-1.85 0a1.85 1.85 0 1 0 3.70 0a1.85 1.85 0 1 0 -3.70 0M473.73 180.71m-1.85 0a1.85 1.85 0 1 0 3.70 0a1.85 1.85 0 1 0 -3.70 0M474.16 182.63m-1.85 0a1.85 1.85 0 1 0 3.70 0a1.85 1.85 0 1 0 -3.70 0M474.59 181.86m-1.85 0a1.85 1.85 0 1 0 3.70 0a1.85 1.85 0 1 0 -3.70 0M475.02 180.58m-1.85 0a1.85 1.85 0 1 0 3.70 0a1.85 1.85 0 1 0 -3.70 0M475.45 181.48m-1.85 0a1.85 1.85 0 1 0 3.70 0a1.85 1.85 0 1 0 -3.70 0M475.88 181.27m-1.85 0a1.85 1.85 0 1 0 3.70 0a1.85 1.85 0 1 0 -3.70 0M476.31 181.30m-1.85 0a1.85 1.85 0 1 0 3.70 0a1.85 1.85 0 1 0 -3.70 0M476.74 182.91m-1.85 0a1.85 1.85 0 1 0 3.70 0a1.85 1.85 0 1 0 -3.70 0M477.17 182.78m-1.85 0a1.85 1.85 0 1 0 3.70 0a1.85 1.85 0 1 0 -3.70 0M477.60 181.18m-1.85 0a1.85 1.85 0 1 0 3.70 0a1.85 1.85 0 1 0 -3.70 0M478.03 180.75m-1.85 0a1.85 1.85 0 1 0 3.70 0a1.85 1.85 0 1 0 -3.70 0M478.46 182.29m-1.85 0a1.85 1.85 0 1 0 3.70 0a1.85 1.85 0 1 0 -3.70 0M478.89 181.80m-1.85 0a1.85 1.85 0 1 0 3.70 0a1.85 1.85 0 1 0 -3.70 0M479.32 183.26m-1.85 0a1.85 1.85 0 1 0 3.70 0a1.85 1.85 0 1 0 -3.70 0M479.75 185.37m-1.85 0a1.85 1.85 0 1 0 3.70 0a1.85 1.85 0 1 0 -3.70 0M480.18 183.01m-1.85 0a1.85 1.85 0 1 0 3.70 0a1.85 1.85 0 1 0 -3.70 0M480.61 181.87m-1.85 0a1.85 1.85 0 1 0 3.70 0a1.85 1.85 0 1 0 -3.70 0M481.04 181.68m-1.85 0a1.85 1.85 0 1 0 3.70 0a1.85 1.85 0 1 0 -3.70 0M481.47 180.79m-1.85 0a1.85 1.85 0 1 0 3.70 0a1.85 1.85 0 1 0 -3.70 0M481.90 180.72m-1.85 0a1.85 1.85 0 1 0 3.70 0a1.85 1.85 0 1 0 -3.70 0M482.33 180.58m-1.85 0a1.85 1.85 0 1 0 3.70 0a1.85 1.85 0 1 0 -3.70 0M482.76 181.37m-1.85 0a1.85 1.85 0 1 0 3.70 0a1.85 1.85 0 1 0 -3.70 0M483.19 181.32m-1.85 0a1.85 1.85 0 1 0 3.70 0a1.85 1.85 0 1 0 -3.70 0M483.62 182.83m-1.85 0a1.85 1.85 0 1 0 3.70 0a1.85 1.85 0 1 0 -3.70 0M484.05 181.33m-1.85 0a1.85 1.85 0 1 0 3.70 0a1.85 1.85 0 1 0 -3.70 0M484.48 181.58m-1.85 0a1.85 1.85 0 1 0 3.70 0a1.85 1.85 0 1 0 -3.70 0M484.91 180.24m-1.85 0a1.85 1.85 0 1 0 3.70 0a1.85 1.85 0 1 0 -3.70 0M485.34 183.94m-1.85 0a1.85 1.85 0 1 0 3.70 0a1.85 1.85 0 1 0 -3.70 0M485.77 182.43m-1.85 0a1.85 1.85 0 1 0 3.70 0a1.85 1.85 0 1 0 -3.70 0M486.20 184.05m-1.85 0a1.85 1.85 0 1 0 3.70 0a1.85 1.85 0 1 0 -3.70 0M486.63 182.71m-1.85 0a1.85 1.85 0 1 0 3.70 0a1.85 1.85 0 1 0 -3.70 0M487.06 183.52m-1.85 0a1.85 1.85 0 1 0 3.70 0a1.85 1.85 0 1 0 -3.70 0M487.49 181.13m-1.85 0a1.85 1.85 0 1 0 3.70 0a1.85 1.85 0 1 0 -3.70 0M487.92 182.20m-1.85 0a1.85 1.85 0 1 0 3.70 0a1.85 1.85 0 1 0 -3.70 0M488.35 184.54m-1.85 0a1.85 1.85 0 1 0 3.70 0a1.85 1.85 0 1 0 -3.70 0M488.78 179.10m-1.85 0a1.85 1.85 0 1 0 3.70 0a1.85 1.85 0 1 0 -3.70 0M489.21 181.80m-1.85 0a1.85 1.85 0 1 0 3.70 0a1.85 1.85 0 1 0 -3.70 0M489.64 181.99m-1.85 0a1.85 1.85 0 1 0 3.70 0a1.85 1.85 0 1 0 -3.70 0M490.07 179.80m-1.85 0a1.85 1.85 0 1 0 3.70 0a1.85 1.85 0 1 0 -3.70 0M490.50 179.74m-1.85 0a1.85 1.85 0 1 0 3.70 0a1.85 1.85 0 1 0 -3.70 0M490.93 179.94m-1.85 0a1.85 1.85 0 1 0 3.70 0a1.85 1.85 0 1 0 -3.70 0M491.36 177.11m-1.85 0a1.85 1.85 0 1 0 3.70 0a1.85 1.85 0 1 0 -3.70 0M491.79 178.34m-1.85 0a1.85 1.85 0 1 0 3.70 0a1.85 1.85 0 1 0 -3.70 0M492.22 176.75m-1.85 0a1.85 1.85 0 1 0 3.70 0a1.85 1.85 0 1 0 -3.70 0M492.65 177.26m-1.85 0a1.85 1.85 0 1 0 3.70 0a1.85 1.85 0 1 0 -3.70 0M493.08 177.75m-1.85 0a1.85 1.85 0 1 0 3.70 0a1.85 1.85 0 1 0 -3.70 0M493.51 178.84m-1.85 0a1.85 1.85 0 1 0 3.70 0a1.85 1.85 0 1 0 -3.70 0M493.94 179.71m-1.85 0a1.85 1.85 0 1 0 3.70 0a1.85 1.85 0 1 0 -3.70 0M494.37 180.56m-1.85 0a1.85 1.85 0 1 0 3.70 0a1.85 1.85 0 1 0 -3.70 0M494.80 178.65m-1.85 0a1.85 1.85 0 1 0 3.70 0a1.85 1.85 0 1 0 -3.70 0M495.23 183.13m-1.85 0a1.85 1.85 0 1 0 3.70 0a1.85 1.85 0 1 0 -3.70 0M495.66 182.33m-1.85 0a1.85 1.85 0 1 0 3.70 0a1.85 1.85 0 1 0 -3.70 0M496.09 181.91m-1.85 0a1.85 1.85 0 1 0 3.70 0a1.85 1.85 0 1 0 -3.70 0M496.52 180.64m-1.85 0a1.85 1.85 0 1 0 3.70 0a1.85 1.85 0 1 0 -3.70 0M496.95 180.90m-1.85 0a1.85 1.85 0 1 0 3.70 0a1.85 1.85 0 1 0 -3.70 0M497.38 181.53m-1.85 0a1.85 1.85 0 1 0 3.70 0a1.85 1.85 0 1 0 -3.70 0M497.81 181.17m-1.85 0a1.85 1.85 0 1 0 3.70 0a1.85 1.85 0 1 0 -3.70 0M498.24 178.47m-1.85 0a1.85 1.85 0 1 0 3.70 0a1.85 1.85 0 1 0 -3.70 0M498.67 180.95m-1.85 0a1.85 1.85 0 1 0 3.70 0a1.85 1.85 0 1 0 -3.70 0M499.10 183.03m-1.85 0a1.85 1.85 0 1 0 3.70 0a1.85 1.85 0 1 0 -3.70 0M499.53 177.11m-1.85 0a1.85 1.85 0 1 0 3.70 0a1.85 1.85 0 1 0 -3.70 0M499.96 179.78m-1.85 0a1.85 1.85 0 1 0 3.70 0a1.85 1.85 0 1 0 -3.70 0M500.39 178.42m-1.85 0a1.85 1.85 0 1 0 3.70 0a1.85 1.85 0 1 0 -3.70 0M500.82 177.15m-1.85 0a1.85 1.85 0 1 0 3.70 0a1.85 1.85 0 1 0 -3.70 0M501.25 177.98m-1.85 0a1.85 1.85 0 1 0 3.70 0a1.85 1.85 0 1 0 -3.70 0M501.68 174.32m-1.85 0a1.85 1.85 0 1 0 3.70 0a1.85 1.85 0 1 0 -3.70 0M502.11 174.88m-1.85 0a1.85 1.85 0 1 0 3.70 0a1.85 1.85 0 1 0 -3.70 0M502.54 175.34m-1.85 0a1.85 1.85 0 1 0 3.70 0a1.85 1.85 0 1 0 -3.70 0M502.97 172.60m-1.85 0a1.85 1.85 0 1 0 3.70 0a1.85 1.85 0 1 0 -3.70 0M503.40 171.42m-1.85 0a1.85 1.85 0 1 0 3.70 0a1.85 1.85 0 1 0 -3.70 0M503.83 171.05m-1.85 0a1.85 1.85 0 1 0 3.70 0a1.85 1.85 0 1 0 -3.70 0M504.26 169.55m-1.85 0a1.85 1.85 0 1 0 3.70 0a1.85 1.85 0 1 0 -3.70 0M504.69 170.72m-1.85 0a1.85 1.85 0 1 0 3.70 0a1.85 1.85 0 1 0 -3.70 0M505.12 167.30m-1.85 0a1.85 1.85 0 1 0 3.70 0a1.85 1.85 0 1 0 -3.70 0M505.55 168.22m-1.85 0a1.85 1.85 0 1 0 3.70 0a1.85 1.85 0 1 0 -3.70 0M505.98 164.94m-1.85 0a1.85 1.85 0 1 0 3.70 0a1.85 1.85 0 1 0 -3.70 0M506.41 165.77m-1.85 0a1.85 1.85 0 1 0 3.70 0a1.85 1.85 0 1 0 -3.70 0M506.84 163.42m-1.85 0a1.85 1.85 0 1 0 3.70 0a1.85 1.85 0 1 0 -3.70 0M507.27 158.79m-1.85 0a1.85 1.85 0 1 0 3.70 0a1.85 1.85 0 1 0 -3.70 0M507.70 159.29m-1.85 0a1.85 1.85 0 1 0 3.70 0a1.85 1.85 0 1 0 -3.70 0M508.13 155.22m-1.85 0a1.85 1.85 0 1 0 3.70 0a1.85 1.85 0 1 0 -3.70 0M508.56 152.54m-1.85 0a1.85 1.85 0 1 0 3.70 0a1.85 1.85 0 1 0 -3.70 0M508.99 150.99m-1.85 0a1.85 1.85 0 1 0 3.70 0a1.85 1.85 0 1 0 -3.70 0M509.42 143.67m-1.85 0a1.85 1.85 0 1 0 3.70 0a1.85 1.85 0 1 0 -3.70 0M509.85 139.33m-1.85 0a1.85 1.85 0 1 0 3.70 0a1.85 1.85 0 1 0 -3.70 0M510.28 138.00m-1.85 0a1.85 1.85 0 1 0 3.70 0a1.85 1.85 0 1 0 -3.70 0M510.71 132.43m-1.85 0a1.85 1.85 0 1 0 3.70 0a1.85 1.85 0 1 0 -3.70 0M511.14 130.95m-1.85 0a1.85 1.85 0 1 0 3.70 0a1.85 1.85 0 1 0 -3.70 0M511.57 127.29m-1.85 0a1.85 1.85 0 1 0 3.70 0a1.85 1.85 0 1 0 -3.70 0M512.00 125.00m-1.85 0a1.85 1.85 0 1 0 3.70 0a1.85 1.85 0 1 0 -3.70 0M512.43 126.80m-1.85 0a1.85 1.85 0 1 0 3.70 0a1.85 1.85 0 1 0 -3.70 0M512.86 130.74m-1.85 0a1.85 1.85 0 1 0 3.70 0a1.85 1.85 0 1 0 -3.70 0M513.29 133.91m-1.85 0a1.85 1.85 0 1 0 3.70 0a1.85 1.85 0 1 0 -3.70 0M513.72 137.12m-1.85 0a1.85 1.85 0 1 0 3.70 0a1.85 1.85 0 1 0 -3.70 0M514.15 142.19m-1.85 0a1.85 1.85 0 1 0 3.70 0a1.85 1.85 0 1 0 -3.70 0M514.58 147.20m-1.85 0a1.85 1.85 0 1 0 3.70 0a1.85 1.85 0 1 0 -3.70 0M515.01 151.74m-1.85 0a1.85 1.85 0 1 0 3.70 0a1.85 1.85 0 1 0 -3.70 0M515.44 160.13m-1.85 0a1.85 1.85 0 1 0 3.70 0a1.85 1.85 0 1 0 -3.70 0M515.87 161.95m-1.85 0a1.85 1.85 0 1 0 3.70 0a1.85 1.85 0 1 0 -3.70 0M516.30 164.32m-1.85 0a1.85 1.85 0 1 0 3.70 0a1.85 1.85 0 1 0 -3.70 0M516.73 168.66m-1.85 0a1.85 1.85 0 1 0 3.70 0a1.85 1.85 0 1 0 -3.70 0M517.16 173.25m-1.85 0a1.85 1.85 0 1 0 3.70 0a1.85 1.85 0 1 0 -3.70 0M517.59 175.46m-1.85 0a1.85 1.85 0 1 0 3.70 0a1.85 1.85 0 1 0 -3.70 0M518.02 176.18m-1.85 0a1.85 1.85 0 1 0 3.70 0a1.85 1.85 0 1 0 -3.70 0M518.45 176.84m-1.85 0a1.85 1.85 0 1 0 3.70 0a1.85 1.85 0 1 0 -3.70 0M518.88 179.00m-1.85 0a1.85 1.85 0 1 0 3.70 0a1.85 1.85 0 1 0 -3.70 0M519.31 177.27m-1.85 0a1.85 1.85 0 1 0 3.70 0a1.85 1.85 0 1 0 -3.70 0M519.74 178.46m-1.85 0a1.85 1.85 0 1 0 3.70 0a1.85 1.85 0 1 0 -3.70 0M520.17 182.18m-1.85 0a1.85 1.85 0 1 0 3.70 0a1.85 1.85 0 1 0 -3.70 0M520.60 180.59m-1.85 0a1.85 1.85 0 1 0 3.70 0a1.85 1.85 0 1 0 -3.70 0M521.03 182.20m-1.85 0a1.85 1.85 0 1 0 3.70 0a1.85 1.85 0 1 0 -3.70 0M521.46 183.73m-1.85 0a1.85 1.85 0 1 0 3.70 0a1.85 1.85 0 1 0 -3.70 0M521.89 183.05m-1.85 0a1.85 1.85 0 1 0 3.70 0a1.85 1.85 0 1 0 -3.70 0M522.32 182.24m-1.85 0a1.85 1.85 0 1 0 3.70 0a1.85 1.85 0 1 0 -3.70 0M522.75 185.63m-1.85 0a1.85 1.85 0 1 0 3.70 0a1.85 1.85 0 1 0 -3.70 0M523.18 183.50m-1.85 0a1.85 1.85 0 1 0 3.70 0a1.85 1.85 0 1 0 -3.70 0M523.61 182.03m-1.85 0a1.85 1.85 0 1 0 3.70 0a1.85 1.85 0 1 0 -3.70 0M524.04 183.80m-1.85 0a1.85 1.85 0 1 0 3.70 0a1.85 1.85 0 1 0 -3.70 0M524.47 183.39m-1.85 0a1.85 1.85 0 1 0 3.70 0a1.85 1.85 0 1 0 -3.70 0M524.90 181.52m-1.85 0a1.85 1.85 0 1 0 3.70 0a1.85 1.85 0 1 0 -3.70 0M525.33 183.03m-1.85 0a1.85 1.85 0 1 0 3.70 0a1.85 1.85 0 1 0 -3.70 0M525.76 182.74m-1.85 0a1.85 1.85 0 1 0 3.70 0a1.85 1.85 0 1 0 -3.70 0M526.19 180.02m-1.85 0a1.85 1.85 0 1 0 3.70 0a1.85 1.85 0 1 0 -3.70 0M526.62 182.85m-1.85 0a1.85 1.85 0 1 0 3.70 0a1.85 1.85 0 1 0 -3.70 0M527.05 182.74m-1.85 0a1.85 1.85 0 1 0 3.70 0a1.85 1.85 0 1 0 -3.70 0M527.48 182.55m-1.85 0a1.85 1.85 0 1 0 3.70 0a1.85 1.85 0 1 0 -3.70 0M527.91 180.74m-1.85 0a1.85 1.85 0 1 0 3.70 0a1.85 1.85 0 1 0 -3.70 0M528.34 182.78m-1.85 0a1.85 1.85 0 1 0 3.70 0a1.85 1.85 0 1 0 -3.70 0M528.77 183.31m-1.85 0a1.85 1.85 0 1 0 3.70 0a1.85 1.85 0 1 0 -3.70 0M529.20 183.58m-1.85 0a1.85 1.85 0 1 0 3.70 0a1.85 1.85 0 1 0 -3.70 0M529.63 181.71m-1.85 0a1.85 1.85 0 1 0 3.70 0a1.85 1.85 0 1 0 -3.70 0M530.06 184.48m-1.85 0a1.85 1.85 0 1 0 3.70 0a1.85 1.85 0 1 0 -3.70 0M530.49 181.66m-1.85 0a1.85 1.85 0 1 0 3.70 0a1.85 1.85 0 1 0 -3.70 0M530.92 183.23m-1.85 0a1.85 1.85 0 1 0 3.70 0a1.85 1.85 0 1 0 -3.70 0M531.35 185.62m-1.85 0a1.85 1.85 0 1 0 3.70 0a1.85 1.85 0 1 0 -3.70 0M531.78 182.57m-1.85 0a1.85 1.85 0 1 0 3.70 0a1.85 1.85 0 1 0 -3.70 0M532.21 182.89m-1.85 0a1.85 1.85 0 1 0 3.70 0a1.85 1.85 0 1 0 -3.70 0M532.64 185.36m-1.85 0a1.85 1.85 0 1 0 3.70 0a1.85 1.85 0 1 0 -3.70 0M533.07 183.14m-1.85 0a1.85 1.85 0 1 0 3.70 0a1.85 1.85 0 1 0 -3.70 0M533.50 183.31m-1.85 0a1.85 1.85 0 1 0 3.70 0a1.85 1.85 0 1 0 -3.70 0M533.93 184.13m-1.85 0a1.85 1.85 0 1 0 3.70 0a1.85 1.85 0 1 0 -3.70 0" fill="none" stroke="#b8090e" stroke-width="1.10"/>
<path d="M447.50 182.60L447.93 182.61L448.36 182.61L448.79 182.61L449.22 182.62L449.65 182.62L450.08 182.62L450.51 182.62L450.94 182.63L451.37 182.63L451.80 182.63L452.23 182.64L452.66 182.64L453.09 182.64L453.52 182.65L453.95 182.65L454.38 182.65L454.81 182.65L455.24 182.66L455.67 182.66L456.10 182.66L456.53 182.67L456.96 182.67L457.39 182.67L457.82 182.68L458.25 182.68L458.68 182.68L459.11 182.68L459.54 182.69L459.97 182.69L460.40 182.69L460.83 182.70L461.26 182.70L461.69 182.70L462.12 182.71L462.55 182.71L462.98 182.71L463.41 182.71L463.84 182.72L464.27 182.72L464.70 182.72L465.13 182.73L465.56 182.73L465.99 182.73L466.42 182.74L466.85 182.74L467.28 182.74L467.71 182.74L468.14 182.75L468.57 182.75L469.00 182.75L469.43 182.76L469.86 182.76L470.29 182.76L470.72 182.77L471.15 182.77L471.58 182.77L472.01 182.77L472.44 182.78L472.87 182.78L473.30 182.78L473.73 182.79L474.16 182.79L474.59 182.79L475.02 182.80L475.45 182.80L475.88 182.80L476.31 182.80L476.74 182.81L477.17 182.81L477.60 182.81L478.03 182.82L478.46 182.82L478.89 182.82L479.32 182.83L479.75 182.83L480.18 182.83L480.61 182.83L481.04 182.84L481.47 182.84L481.90 182.84L482.33 182.85L482.76 182.85L483.19 182.85L483.62 182.86L484.05 182.86L484.48 182.86L484.91 182.86L485.34 182.87L485.77 182.87L486.20 182.87L486.63 182.88L487.06 182.88L487.49 182.88L487.92 182.89L488.35 182.89L488.78 182.89L489.21 182.89L489.64 182.90L490.07 182.90L490.50 182.91L490.93 182.93L491.36 182.94L491.79 182.95L492.22 182.97L492.65 182.98L493.08 182.99L493.51 183.00L493.94 183.02L494.37 183.03L494.80 183.04L495.23 183.05L495.66 183.07L496.09 183.08L496.52 183.09L496.95 183.11L497.38 183.12L497.81 183.13L498.24 183.14L498.67 183.16L499.10 183.17L499.53 183.18L499.96 183.19L500.39 183.21L500.82 183.22L501.25 183.23L501.68 183.25L502.11 183.26L502.54 183.27L502.97 183.28L503.40 183.30L503.83 183.31L504.26 183.32L504.69 183.33L505.12 183.35L505.55 183.36L505.98 183.37L506.41 183.38L506.84 183.40L507.27 183.41L507.70 183.42L508.13 183.44L508.56 183.45L508.99 183.46L509.42 183.47L509.85 183.49L510.28 183.50L510.71 183.51L511.14 183.52L511.57 183.54L512.00 183.55L512.43 183.56L512.86 183.58L513.29 183.59L513.72 183.60L514.15 183.61L514.58 183.63L515.01 183.64L515.44 183.65L515.87 183.66L516.30 183.68L516.73 183.69L517.16 183.70L517.59 183.72L518.02 183.73L518.45 183.74L518.88 183.75L519.31 183.77L519.74 183.78L520.17 183.79L520.60 183.80L521.03 183.82L521.46 183.83L521.89 183.84L522.32 183.85L522.75 183.87L523.18 183.88L523.61 183.89L524.04 183.91L524.47 183.92L524.90 183.93L525.33 183.94L525.76 183.96L526.19 183.97L526.62 183.98L527.05 183.99L527.48 184.01L527.91 184.02L528.34 184.03L528.77 184.05L529.20 184.06L529.63 184.07L530.06 184.08L530.49 184.10L530.92 184.11L531.35 184.12L531.78 184.13L532.21 184.15L532.64 184.16L533.07 184.17L533.50 184.19L533.93 184.20" fill="none" stroke="#ec8088" stroke-width="0.80" stroke-linejoin="round"/>
<path d="M447.50 182.56L447.93 182.57L448.36 182.57L448.79 182.57L449.22 182.57L449.65 182.58L450.08 182.58L450.51 182.58L450.94 182.58L451.37 182.59L451.80 182.59L452.23 182.59L452.66 182.59L453.09 182.60L453.52 182.60L453.95 182.60L454.38 182.60L454.81 182.60L455.24 182.61L455.67 182.61L456.10 182.61L456.53 182.61L456.96 182.62L457.39 182.62L457.82 182.62L458.25 182.62L458.68 182.62L459.11 182.63L459.54 182.63L459.97 182.63L460.40 182.63L460.83 182.63L461.26 182.64L461.69 182.64L462.12 182.64L462.55 182.64L462.98 182.64L463.41 182.65L463.84 182.65L464.27 182.65L464.70 182.65L465.13 182.65L465.56 182.65L465.99 182.66L466.42 182.66L466.85 182.66L467.28 182.66L467.71 182.66L468.14 182.66L468.57 182.66L469.00 182.67L469.43 182.67L469.86 182.67L470.29 182.67L470.72 182.67L471.15 182.67L471.58 182.67L472.01 182.67L472.44 182.67L472.87 182.67L473.30 182.67L473.73 182.68L474.16 182.68L474.59 182.68L475.02 182.68L475.45 182.68L475.88 182.68L476.31 182.68L476.74 182.68L477.17 182.68L477.60 182.68L478.03 182.68L478.46 182.67L478.89 182.67L479.32 182.67L479.75 182.67L480.18 182.67L480.61 182.67L481.04 182.67L481.47 182.67L481.90 182.66L482.33 182.66L482.76 182.66L483.19 182.66L483.62 182.65L484.05 182.65L484.48 182.65L484.91 182.64L485.34 182.64L485.77 182.64L486.20 182.63L486.63 182.63L487.06 182.62L487.49 182.61L487.92 182.61L488.35 182.60L488.78 182.59L489.21 182.59L489.64 182.58L490.07 182.57L490.50 182.57L490.93 182.57L491.36 182.56L491.79 182.56L492.22 182.56L492.65 182.55L493.08 182.55L493.51 182.54L493.94 182.53L494.37 182.52L494.80 182.51L495.23 182.49L495.66 182.48L496.09 182.46L496.52 182.44L496.95 182.42L497.38 182.39L497.81 182.36L498.24 182.33L498.67 182.29L499.10 182.25L499.53 182.20L499.96 182.14L500.39 182.08L500.82 182.01L501.25 181.93L501.68 181.83L502.11 181.72L502.54 181.57L502.97 181.40L503.40 181.17L503.83 180.87L504.26 180.48L504.69 179.95L505.12 179.24L505.55 178.29L505.98 177.05L506.41 175.43L506.84 173.38L507.27 170.83L507.70 167.73L508.13 164.08L508.56 159.90L508.99 155.26L509.42 150.29L509.85 145.18L510.28 140.19L510.71 135.63L511.14 131.86L511.57 129.25L512.00 128.09L512.43 128.54L512.86 130.53L513.29 133.83L513.72 138.09L514.15 142.95L514.58 148.07L515.01 153.15L515.44 157.99L515.87 162.42L516.30 166.35L516.73 169.73L517.16 172.56L517.59 174.86L518.02 176.70L518.45 178.13L518.88 179.23L519.31 180.07L519.74 180.70L520.17 181.18L520.60 181.54L521.03 181.83L521.46 182.05L521.89 182.23L522.32 182.38L522.75 182.51L523.18 182.63L523.61 182.73L524.04 182.82L524.47 182.90L524.90 182.98L525.33 183.05L525.76 183.12L526.19 183.18L526.62 183.23L527.05 183.29L527.48 183.34L527.91 183.38L528.34 183.43L528.77 183.47L529.20 183.51L529.63 183.55L530.06 183.59L530.49 183.62L530.92 183.66L531.35 183.69L531.78 183.72L532.21 183.75L532.64 183.78L533.07 183.81L533.50 183.83L533.93 183.86" fill="none" stroke="#16e016" stroke-width="1.40" stroke-linejoin="round"/>
<path d="M447.50 182.59L447.93 182.59L448.36 182.59L448.79 182.60L449.22 182.60L449.65 182.60L450.08 182.60L450.51 182.61L450.94 182.61L451.37 182.61L451.80 182.62L452.23 182.62L452.66 182.62L453.09 182.62L453.52 182.63L453.95 182.63L454.38 182.63L454.81 182.63L455.24 182.64L455.67 182.64L456.10 182.64L456.53 182.64L456.96 182.65L457.39 182.65L457.82 182.65L458.25 182.65L458.68 182.66L459.11 182.66L459.54 182.66L459.97 182.66L460.40 182.67L460.83 182.67L461.26 182.67L461.69 182.67L462.12 182.68L462.55 182.68L462.98 182.68L463.41 182.68L463.84 182.69L464.27 182.69L464.70 182.69L465.13 182.69L465.56 182.70L465.99 182.70L466.42 182.70L466.85 182.70L467.28 182.71L467.71 182.71L468.14 182.71L468.57 182.71L469.00 182.71L469.43 182.72L469.86 182.72L470.29 182.72L470.72 182.72L471.15 182.72L471.58 182.73L472.01 182.73L472.44 182.73L472.87 182.73L473.30 182.73L473.73 182.73L474.16 182.74L474.59 182.74L475.02 182.74L475.45 182.74L475.88 182.74L476.31 182.74L476.74 182.74L477.17 182.75L477.60 182.75L478.03 182.75L478.46 182.75L478.89 182.75L479.32 182.75L479.75 182.75L480.18 182.75L480.61 182.75L481.04 182.75L481.47 182.75L481.90 182.75L482.33 182.75L482.76 182.75L483.19 182.75L483.62 182.75L484.05 182.75L484.48 182.74L484.91 182.74L485.34 182.74L485.77 182.74L486.20 182.73L486.63 182.73L487.06 182.73L487.49 182.72L487.92 182.72L488.35 182.71L488.78 182.71L489.21 182.70L489.64 182.70L490.07 182.69L490.50 182.69L490.93 182.69L491.36 182.69L491.79 182.68L492.22 182.68L492.65 182.67L493.08 182.66L493.51 182.64L493.94 182.62L494.37 182.60L494.80 182.56L495.23 182.51L495.66 182.45L496.09 182.36L496.52 182.25L496.95 182.11L497.38 181.94L497.81 181.72L498.24 181.45L498.67 181.13L499.10 180.74L499.53 180.29L499.96 179.77L500.39 179.18L500.82 178.53L501.25 177.82L501.68 177.07L502.11 176.29L502.54 175.50L502.97 174.73L503.40 174.02L503.83 173.39L504.26 172.88L504.69 172.53L505.12 172.36L505.55 172.39L505.98 172.62L506.41 173.02L506.84 173.58L507.27 174.25L507.70 175.00L508.13 175.79L508.56 176.61L508.99 177.41L509.42 178.18L509.85 178.91L510.28 179.58L510.71 180.18L511.14 180.71L511.57 181.18L512.00 181.58L512.43 181.92L512.86 182.21L513.29 182.44L513.72 182.64L514.15 182.79L514.58 182.92L515.01 183.03L515.44 183.12L515.87 183.19L516.30 183.25L516.73 183.30L517.16 183.35L517.59 183.39L518.02 183.42L518.45 183.46L518.88 183.49L519.31 183.52L519.74 183.54L520.17 183.57L520.60 183.59L521.03 183.62L521.46 183.64L521.89 183.66L522.32 183.68L522.75 183.70L523.18 183.72L523.61 183.74L524.04 183.76L524.47 183.78L524.90 183.80L525.33 183.82L525.76 183.84L526.19 183.85L526.62 183.87L527.05 183.89L527.48 183.90L527.91 183.92L528.34 183.94L528.77 183.95L529.20 183.97L529.63 183.98L530.06 184.00L530.49 184.02L530.92 184.03L531.35 184.05L531.78 184.06L532.21 184.08L532.64 184.09L533.07 184.11L533.50 184.12L533.93 184.13" fill="none" stroke="#2a2ac8" stroke-width="1.40" stroke-linejoin="round"/>
<path d="M447.50 182.60L447.93 182.60L448.36 182.61L448.79 182.61L449.22 182.61L449.65 182.62L450.08 182.62L450.51 182.62L450.94 182.63L451.37 182.63L451.80 182.63L452.23 182.63L452.66 182.64L453.09 182.64L453.52 182.64L453.95 182.65L454.38 182.65L454.81 182.65L455.24 182.65L455.67 182.66L456.10 182.66L456.53 182.66L456.96 182.67L457.39 182.67L457.82 182.67L458.25 182.67L458.68 182.68L459.11 182.68L459.54 182.68L459.97 182.69L460.40 182.69L460.83 182.69L461.26 182.70L461.69 182.70L462.12 182.70L462.55 182.70L462.98 182.71L463.41 182.71L463.84 182.71L464.27 182.72L464.70 182.72L465.13 182.72L465.56 182.72L465.99 182.73L466.42 182.73L466.85 182.73L467.28 182.73L467.71 182.74L468.14 182.74L468.57 182.74L469.00 182.75L469.43 182.75L469.86 182.75L470.29 182.75L470.72 182.76L471.15 182.76L471.58 182.76L472.01 182.76L472.44 182.77L472.87 182.77L473.30 182.77L473.73 182.77L474.16 182.78L474.59 182.78L475.02 182.78L475.45 182.78L475.88 182.79L476.31 182.79L476.74 182.79L477.17 182.79L477.60 182.79L478.03 182.80L478.46 182.80L478.89 182.80L479.32 182.80L479.75 182.80L480.18 182.80L480.61 182.80L481.04 182.80L481.47 182.80L481.90 182.80L482.33 182.80L482.76 182.80L483.19 182.80L483.62 182.80L484.05 182.80L484.48 182.79L484.91 182.79L485.34 182.77L485.77 182.76L486.20 182.73L486.63 182.68L487.06 182.61L487.49 182.49L487.92 182.33L488.35 182.09L488.78 181.77L489.21 181.38L489.64 180.91L490.07 180.40L490.50 179.89L490.93 179.44L491.36 179.11L491.79 178.96L492.22 179.03L492.65 179.30L493.08 179.72L493.51 180.23L493.94 180.77L494.37 181.28L494.80 181.73L495.23 182.10L495.66 182.39L496.09 182.61L496.52 182.77L496.95 182.88L497.38 182.95L497.81 183.00L498.24 183.04L498.67 183.07L499.10 183.10L499.53 183.12L499.96 183.14L500.39 183.15L500.82 183.17L501.25 183.19L501.68 183.20L502.11 183.22L502.54 183.24L502.97 183.25L503.40 183.27L503.83 183.28L504.26 183.30L504.69 183.31L505.12 183.32L505.55 183.34L505.98 183.35L506.41 183.37L506.84 183.38L507.27 183.39L507.70 183.41L508.13 183.42L508.56 183.43L508.99 183.45L509.42 183.46L509.85 183.47L510.28 183.49L510.71 183.50L511.14 183.51L511.57 183.53L512.00 183.54L512.43 183.55L512.86 183.57L513.29 183.58L513.72 183.59L514.15 183.61L514.58 183.62L515.01 183.63L515.44 183.64L515.87 183.66L516.30 183.67L516.73 183.68L517.16 183.70L517.59 183.71L518.02 183.72L518.45 183.73L518.88 183.75L519.31 183.76L519.74 183.77L520.17 183.79L520.60 183.80L521.03 183.81L521.46 183.82L521.89 183.84L522.32 183.85L522.75 183.86L523.18 183.88L523.61 183.89L524.04 183.90L524.47 183.91L524.90 183.93L525.33 183.94L525.76 183.95L526.19 183.97L526.62 183.98L527.05 183.99L527.48 184.00L527.91 184.02L528.34 184.03L528.77 184.04L529.20 184.06L529.63 184.07L530.06 184.08L530.49 184.09L530.92 184.11L531.35 184.12L531.78 184.13L532.21 184.14L532.64 184.16L533.07 184.17L533.50 184.18L533.93 184.20" fill="none" stroke="#f020e8" stroke-width="1.40" stroke-linejoin="round"/>
<path d="M447.50 182.55L447.93 182.55L448.36 182.55L448.79 182.55L449.22 182.55L449.65 182.56L450.08 182.56L450.51 182.56L450.94 182.56L451.37 182.57L451.80 182.57L452.23 182.57L452.66 182.57L453.09 182.57L453.52 182.58L453.95 182.58L454.38 182.58L454.81 182.58L455.24 182.58L455.67 182.58L456.10 182.59L456.53 182.59L456.96 182.59L457.39 182.59L457.82 182.59L458.25 182.59L458.68 182.60L459.11 182.60L459.54 182.60L459.97 182.60L460.40 182.60L460.83 182.60L461.26 182.60L461.69 182.61L462.12 182.61L462.55 182.61L462.98 182.61L463.41 182.61L463.84 182.61L464.27 182.61L464.70 182.61L465.13 182.61L465.56 182.61L465.99 182.62L466.42 182.62L466.85 182.62L467.28 182.62L467.71 182.62L468.14 182.62L468.57 182.62L469.00 182.62L469.43 182.62L469.86 182.62L470.29 182.62L470.72 182.62L471.15 182.62L471.58 182.62L472.01 182.62L472.44 182.61L472.87 182.61L473.30 182.61L473.73 182.61L474.16 182.61L474.59 182.61L475.02 182.61L475.45 182.60L475.88 182.60L476.31 182.60L476.74 182.60L477.17 182.59L477.60 182.59L478.03 182.59L478.46 182.58L478.89 182.58L479.32 182.57L479.75 182.57L480.18 182.56L480.61 182.55L481.04 182.55L481.47 182.54L481.90 182.53L482.33 182.52L482.76 182.51L483.19 182.50L483.62 182.49L484.05 182.48L484.48 182.46L484.91 182.44L485.34 182.42L485.77 182.39L486.20 182.35L486.63 182.29L487.06 182.20L487.49 182.07L487.92 181.88L488.35 181.63L488.78 181.29L489.21 180.88L489.64 180.39L490.07 179.85L490.50 179.32L490.93 178.84L491.36 178.48L491.79 178.30L492.22 178.33L492.65 178.56L493.08 178.94L493.51 179.41L493.94 179.89L494.37 180.34L494.80 180.71L495.23 181.00L495.66 181.18L496.09 181.27L496.52 181.27L496.95 181.19L497.38 181.04L497.81 180.82L498.24 180.53L498.67 180.17L499.10 179.75L499.53 179.24L499.96 178.66L500.39 178.00L500.82 177.27L501.25 176.47L501.68 175.61L502.11 174.71L502.54 173.77L502.97 172.82L503.40 171.86L503.83 170.93L504.26 170.01L504.69 169.12L505.12 168.23L505.55 167.30L505.98 166.27L506.41 165.05L506.84 163.54L507.27 161.65L507.70 159.29L508.13 156.43L508.56 153.05L508.99 149.20L509.42 144.99L509.85 140.59L510.28 136.26L510.71 132.29L511.14 129.04L511.57 126.88L512.00 126.12L512.43 126.89L512.86 129.15L513.29 132.67L513.72 137.12L514.15 142.12L514.58 147.36L515.01 152.54L515.44 157.45L515.87 161.94L516.30 165.92L516.73 169.34L517.16 172.20L517.59 174.53L518.02 176.39L518.45 177.84L518.88 178.96L519.31 179.81L519.74 180.46L520.17 180.95L520.60 181.33L521.03 181.62L521.46 181.85L521.89 182.05L522.32 182.21L522.75 182.35L523.18 182.47L523.61 182.57L524.04 182.67L524.47 182.76L524.90 182.84L525.33 182.92L525.76 182.99L526.19 183.06L526.62 183.12L527.05 183.18L527.48 183.23L527.91 183.28L528.34 183.33L528.77 183.38L529.20 183.42L529.63 183.46L530.06 183.50L530.49 183.54L530.92 183.57L531.35 183.61L531.78 183.64L532.21 183.67L532.64 183.71L533.07 183.74L533.50 183.76L533.93 183.79" fill="none" stroke="#19e3e8" stroke-width="1.40" stroke-linejoin="round"/>
<circle cx="447.55" cy="120.50" r="1.95" fill="none" stroke="#b8090e" stroke-width="1.3"/>
<text transform="translate(455.80 122.70) scale(1 1.06)" font-size="6.1" fill="#1a1a1a" stroke="#1a1a1a" stroke-width="0.1">Experiment</text>
<path d="M440.40 127.72H454.70" stroke="#ec8088" stroke-width="0.80"/>
<text transform="translate(455.80 129.92) scale(1 1.06)" font-size="6.1" fill="#1a1a1a" stroke="#1a1a1a" stroke-width="0.1">Background</text>
<path d="M440.40 134.94H454.70" stroke="#16e016" stroke-width="1.50"/>
<text transform="translate(455.80 137.14) scale(1 1.06)" font-size="6.1" fill="#1a1a1a" stroke="#1a1a1a" stroke-width="0.1">Comp 1</text>
<path d="M440.40 142.16H454.70" stroke="#2a2ac8" stroke-width="1.50"/>
<text transform="translate(455.80 144.36) scale(1 1.06)" font-size="6.1" fill="#1a1a1a" stroke="#1a1a1a" stroke-width="0.1">Comp 2</text>
<path d="M440.40 149.38H454.70" stroke="#f020e8" stroke-width="1.50"/>
<text transform="translate(455.80 151.58) scale(1 1.06)" font-size="6.1" fill="#1a1a1a" stroke="#1a1a1a" stroke-width="0.1">Comp 3</text>
<path d="M440.40 156.60H454.70" stroke="#19e3e8" stroke-width="1.50"/>
<text transform="translate(455.80 158.80) scale(1 1.06)" font-size="6.1" fill="#1a1a1a" stroke="#1a1a1a" stroke-width="0.1">Sum</text>
</svg></body></html>
